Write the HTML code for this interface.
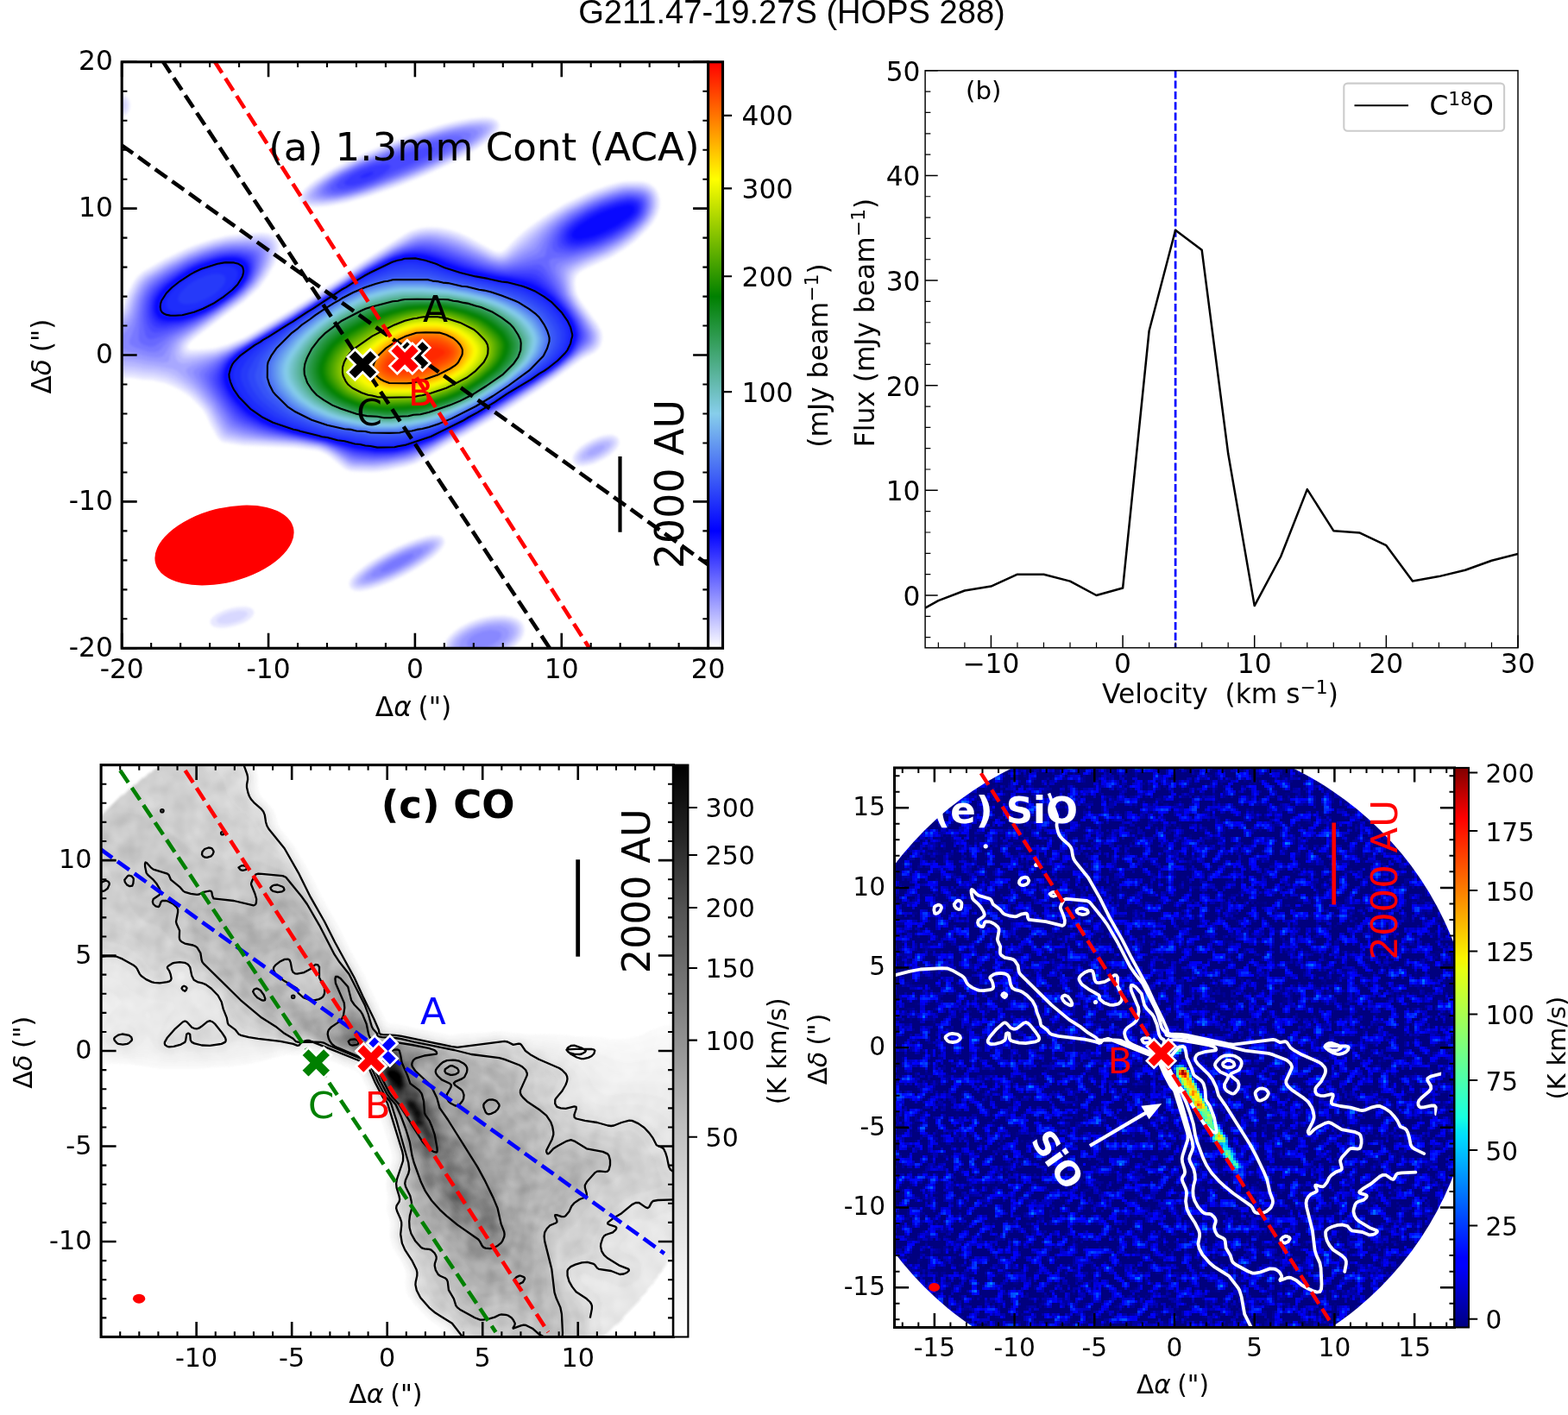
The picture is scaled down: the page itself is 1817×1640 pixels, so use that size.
<!DOCTYPE html>
<html lang="en">
<head>
<meta charset="utf-8">
<title>G211.47-19.27S (HOPS 288)</title>
<style>
html,body{margin:0;padding:0;background:#fff;}
body{width:1817px;height:1640px;overflow:hidden;}
svg{display:block;font-family:'DejaVu Sans', 'Liberation Sans', sans-serif;}
</style>
</head>
<body>
<svg width="1817" height="1640" viewBox="0 0 1817 1640">
<defs>
<clipPath id="ca"><rect x="141.2" y="71.8" width="679.4" height="679.5"/></clipPath>
<filter id="blurA" x="-5%" y="-5%" width="110%" height="110%" color-interpolation-filters="sRGB"><feGaussianBlur stdDeviation="1.6"/></filter>
<linearGradient id="cmA" x1="0" y1="1" x2="0" y2="0"><stop offset="0" stop-color="#fff"/><stop offset="0.2" stop-color="#00f"/><stop offset="0.4" stop-color="#87ceeb"/><stop offset="0.6" stop-color="#008000"/><stop offset="0.8" stop-color="#ff0"/><stop offset="1" stop-color="#f00"/></linearGradient>
<clipPath id="cb"><rect x="1072.1" y="81.8" width="686.9" height="669"/></clipPath>
<clipPath id="cc"><rect x="117.1" y="886.6" width="663.2" height="662.9"/></clipPath>
<filter id="blurC" x="117" y="886" width="664" height="664" filterUnits="userSpaceOnUse" color-interpolation-filters="sRGB"><feGaussianBlur in="SourceGraphic" stdDeviation="1.5" result="b"/><feFlood flood-color="#fff" result="W"/><feComposite in="b" in2="W" operator="over" result="w"/><feComponentTransfer in="w" result="inv"><feFuncR type="table" tableValues="1 0"/><feFuncG type="table" tableValues="1 0"/><feFuncB type="table" tableValues="1 0"/></feComponentTransfer><feTurbulence type="fractalNoise" baseFrequency="0.05" numOctaves="2" seed="3" result="t"/><feColorMatrix in="t" type="matrix" values="1 0 0 0 0  1 0 0 0 0  1 0 0 0 0  0 0 0 0 1" result="n"/><feComposite in="inv" in2="n" operator="arithmetic" k1="0.7" k2="0.65" k3="0" k4="0" result="m"/><feComponentTransfer in="m"><feFuncR type="table" tableValues="1 0"/><feFuncG type="table" tableValues="1 0"/><feFuncB type="table" tableValues="1 0"/><feFuncA type="linear" slope="0" intercept="1"/></feComponentTransfer></filter>
<clipPath id="fovCc"><circle cx="421.2" cy="1235" r="396"/></clipPath>
<linearGradient id="cmC" x1="0" y1="1" x2="0" y2="0"><stop offset="0" stop-color="#fff"/><stop offset="0.125" stop-color="#f0f0f0"/><stop offset="0.25" stop-color="#d9d9d9"/><stop offset="0.375" stop-color="#bdbdbd"/><stop offset="0.5" stop-color="#969696"/><stop offset="0.625" stop-color="#737373"/><stop offset="0.75" stop-color="#525252"/><stop offset="0.875" stop-color="#252525"/><stop offset="1" stop-color="#000"/></linearGradient>
<clipPath id="cd"><rect x="1036.5" y="889.9" width="649" height="648.6"/></clipPath>
<clipPath id="fovD"><circle cx="1335.5" cy="1227.1" r="374"/></clipPath>
<clipPath id="fovCO"><circle cx="1338" cy="1228.5" r="332.5"/></clipPath>
<filter id="jetD" x="1036" y="889" width="651" height="651" filterUnits="userSpaceOnUse" color-interpolation-filters="sRGB"><feTurbulence type="fractalNoise" baseFrequency="0.105" numOctaves="2" seed="11" result="t"/><feColorMatrix in="t" type="matrix" values="1 0 0 0 0  1 0 0 0 0  1 0 0 0 0  0 0 0 0 1" result="n"/><feGaussianBlur in="SourceGraphic" stdDeviation="2.1" result="s"/><feComposite in="s" in2="n" operator="arithmetic" k1="0" k2="1" k3="0.6" k4="-0.272" result="i"/><feFlood x="1037" y="890" width="1" height="1" flood-color="#000" result="dot"/><feComposite in="dot" in2="dot" operator="over" x="1036" y="889" width="3" height="3" result="cell"/><feTile in="cell" result="grid"/><feComposite in="i" in2="grid" operator="in" result="samp"/><feMorphology in="samp" operator="dilate" radius="1" result="pix"/><feComponentTransfer in="pix"><feFuncR type="table" tableValues="0 0 0 0 0 0 0 0 0 0 0 0 0 0 0 0.081 0.161 0.242 0.323 0.403 0.484 0.565 0.645 0.726 0.806 0.887 0.968 1 1 1 1 1 1 1 1 1 0.955 0.841 0.727 0.614 0.5"/><feFuncG type="table" tableValues="0 0 0 0 0 0 0.1 0.2 0.3 0.4 0.5 0.6 0.7 0.8 0.9 1 1 1 1 1 1 1 1 1 1 1 0.963 0.87 0.778 0.685 0.593 0.5 0.407 0.315 0.222 0.13 0.037 0 0 0 0"/><feFuncB type="table" tableValues="0.5 0.614 0.727 0.841 0.955 1 1 1 1 1 1 1 1 1 0.968 0.887 0.806 0.726 0.645 0.565 0.484 0.403 0.323 0.242 0.161 0.081 0 0 0 0 0 0 0 0 0 0 0 0 0 0 0"/><feFuncA type="linear" slope="0" intercept="1"/></feComponentTransfer></filter>
<linearGradient id="sioG" gradientUnits="userSpaceOnUse" x1="1364" y1="1238" x2="1441" y2="1366"><stop offset="0" stop-color="#fff" stop-opacity="0.45"/><stop offset="0.05" stop-color="#fff" stop-opacity="0.95"/><stop offset="0.1" stop-color="#fff" stop-opacity="0.66"/><stop offset="0.2" stop-color="#fff" stop-opacity="0.75"/><stop offset="0.27" stop-color="#fff" stop-opacity="0.64"/><stop offset="0.31" stop-color="#fff" stop-opacity="0.72"/><stop offset="0.41" stop-color="#fff" stop-opacity="0.52"/><stop offset="0.51" stop-color="#fff" stop-opacity="0.37"/><stop offset="0.65" stop-color="#fff" stop-opacity="0.5"/><stop offset="0.78" stop-color="#fff" stop-opacity="0.37"/><stop offset="0.9" stop-color="#fff" stop-opacity="0.3"/><stop offset="1" stop-color="#fff" stop-opacity="0.12"/></linearGradient>
<linearGradient id="cmD" x1="0" y1="1" x2="0" y2="0"><stop offset="0" stop-color="#000080"/><stop offset="0.11" stop-color="#00f"/><stop offset="0.125" stop-color="#00f"/><stop offset="0.34" stop-color="#00dcfe"/><stop offset="0.35" stop-color="#03e4f6"/><stop offset="0.375" stop-color="#16ffe1"/><stop offset="0.64" stop-color="#e8ff0f"/><stop offset="0.65" stop-color="#f0f806"/><stop offset="0.66" stop-color="#f8f500"/><stop offset="0.89" stop-color="#ff1300"/><stop offset="0.91" stop-color="#f00"/><stop offset="1" stop-color="#800000"/></linearGradient>
</defs>
<rect width="1817" height="1640" fill="#fff"/>
<text x="917.5" y="27.2" font-family="&quot;Liberation Sans&quot;, Arial, Helvetica, sans-serif" font-size="38.1" text-anchor="middle">G211.47-19.27S (HOPS 288)</text>
<g id="panel-a">
<g clip-path="url(#ca)">
<g id="field-a" stroke="none" filter="url(#blurA)">
<path d="M136.7 109.8l4.5-0.6 4 1.6 3.1 3 2.3 6 -0.3 6 -1.8 4 -3.3 3.4 -4 1.6 -4-0.4 -6-2.5 0-19.8zM544.5 137.8l14.7-1.6 8 0.3 4 0.9 4 2 2.1 2.4 1.2 4 -0.8 4 -2.5 4 -3.4 4 -10.6 8.7 -16 10.4 -26 13.9 -26 12 -30 12.1 -34 11.9 -28 8 -22 4 -14 0.9 -10-1 -4-1.9 -2.7-3 -0.9-4 0.9-4 4.2-6 4.5-4.4 8-6.3 12-8.1 10-6 16-8.2 16-7.6 24-10.4 38-14.4 32-9.8 16-4zM716.8 211.8l8.4-1.4 16 0.1 6 0.7 6 2.3 5.4 4.3 3.9 6 2.1 8 -0.2 8 -2.2 8 -5.5 10 -6.7 8 -14.8 14.1 -12 8.9 -16 9.6 -29.8 13.4 -6.3 4 -3.9 4.4 -1.2 5.6 0.2 6 0.8 6 2.2 5.4 4 6.9 19.2 25.7 4.3 8 0.9 4 0.1 6 -1.5 6 -2.3 4 -4.7 4.5 -14.2 7.5 -25.8 18.8 -24 16.7 -46 29.7 -40 23.6 -18.1 9.2 -29.9 18.5 -10 5 -12 3.5 -18 3.8 -14 2.1 -8 0.4 -20-0.6 -6-1.5 -4-2.1 -18.7-15.1 -7.3-4 -6-2 -26-3.4 -60-2.3 -22-3.5 -4-2.3 -3.8-4.5 -7.5-14 -4.7-10.5 -4.8-7.5 -13.2-13.5 -6.1-4.5 -6.6-4 -7.4-4 -9.8-4 -14.1-3.4 -12-0.7 -12-1.9 -6-0.2 -6 0.6 -10 2.6 0-82.7 6 0.2 2-0.4 2-1.4 2-3.4 5-13.3 6.1-12 4.1-6 6.8-6.5 26-15 24-11.6 10-4.1 22-7.4 16-3.7 20-2.3 20-1.2 8 1 6 2.7 3.9 4.1 2 6 0.3 4 -0.6 4 -4.6 14 -7.9 14 -10.3 14 -16.8 15.3 -23.3 16.7 -34.3 26 -6.5 6 -2 4 0.4 2 1.7 1.4 2 0.6 9 0 17-1.5 16-4.5 19.3-8 10.5-6 43.3-26 25.1-16 36.7-24 11.1-9 12-8.4 34-22 16-9.9 6-3.1 10-3 10-1 12 0.7 12 2.5 12 4 10 4.6 29.8 16.6 4.2 1 4-0.3 4.4-2.7 13.6-14.1 12-10.4 18-13.1 24-14.9 26-12.6 10-4.1 16-5.7zM695.9 505.8l5.3-1.4 6-0.4 4 0.5 4 2.3 1.9 3 0.3 4 -1.5 4 -3 4 -5.7 5.2 -6 4.1 -12 5.8 -6 1.9 -8 1.4 -6-0.8 -2.9-1.6 -1.7-2 -0.8-2 0-4 1.7-4 3.1-4 4.6-4.2 6-4.2 8-4.3zM493.4 621.8l7.8-1.5 8 0.5 2.3 1 2.4 2 1.3 4 -0.8 4 -4 6 -7.2 6.9 -8 6.1 -12 7.8 -14 7.8 -14 6.8 -14 5.7 -12 3.8 -12 2.2 -6-0.4 -2-0.7 -2.9-2 -1.2-2 -0.4-4 1.4-4 1.3-2 5.8-6.3 14-10.9 16-9.9 16-8.3 18-7.7zM275.1 703.8l8.1-0.6 6 1.1 2.8 1.5 1.7 2 0.5 2 -0.3 2 -2.6 4 -6.1 4.4 -6 2.8 -10 3.1 -8 1.3 -8 0 -6-1.5 -2.5-2.1 -0.9-2 0-2 0.8-2 2.6-3.1 3.9-2.9 10.1-4.7 8-2.3zM572.1 713.8l11.1-0.6 10 1.6 6 2.3 3.8 2.7 1.9 2 1.3 2 1.3 4 0.1 4 -0.8 4 -3.2 6 -6.4 6.9 -6 4.7 -10.9 6.4 -2.3 2 -61.4 0 -2.3-8 0.4-6 1.5-4 2.5-4 6.5-6.9 8-5.9 12-6.2 12-4.2 8-1.9z" fill="#e8e8ff" fill-rule="evenodd"/>
<path d="M136.7 113.8l2.5-0.8 4 0.9 2.1 1.9 1.8 4 0.1 4 -1.6 4 -2.4 2.3 -2 0.8 -4-0.5 -6-3.4 0-9.9zM547 139.8l12.2-1.1 6 0.3 4 0.8 3.8 2 1.6 2 0.5 2 -0.8 4 -2.5 4 -4.6 4.8 -8 6.4 -8 5.5 -22 12.7 -24 11.9 -22 9.6 -32 12.3 -28 9.5 -22 6.1 -20 3.6 -14 1 -6-0.3 -5.2-1.1 -2.8-1.5 -1.9-2.5 -0.2-4 1.9-4 5.3-6 6.9-5.7 10-7.2 10-6.3 26-13.3 38-16.6 38-14 34-9.9zM719.3 213.8l7.9-1 14 0.3 6 0.9 6 2.7 4 3.6 3.3 5.5 1.4 6 -0.2 8 -2.2 8 -5.8 10 -7.1 8 -13.4 12.6 -12 8.7 -16 9.4 -24 10.2 -9.5 5.1 -5.3 4 -2.5 4 -0.8 4 0.1 6 0.7 6 1.9 6 5.4 9.6 19.4 26.4 3.2 6 1 4 0.1 6 -1 4 -2 4 -4.7 4.6 -13.2 7.4 -28.8 21.3 -20 13.8 -50 32.2 -36 21.1 -22.2 11.6 -27.8 17 -10 4.7 -12 3.3 -18 3.6 -12 1.7 -8 0.4 -18-0.5 -6-1.1 -4-1.9 -14-11.2 -5.7-4 -7.7-4 -6.1-2 -24.5-3.5 -62-3.1 -20-3.6 -4-2.1 -3.1-3.7 -7.7-14 -5.6-12 -5.6-7.7 -8-8.6 -6-5.4 -6-4.4 -10-6.1 -12-5.6 -14-3.5 -14-1 -10-1.8 -8-0.5 -6 0.3 -10 2 0-73.5 8 0.1 2-0.7 2-1.6 2.3-4 5-14 6-12 4-6 6.7-6.5 24-14.1 26-12.6 14-5.6 18-5.7 14-3.2 20-2.1 20-1 8 1.4 2.9 1.4 2.7 2 2.4 4 0.9 6 -1.6 8 -4.4 12 -8.1 14 -7.4 10 -15.4 14.6 -59.2 43.4 -6.9 6 -3 4 -0.8 4 0.5 2 1.4 1.9 4 1.5 6 0 16-1.4 10-1.9 12.8-4.1 22.4-10 53.2-32 58.7-38 10.9-8.6 12-8.5 34-21.6 18-10.8 6-2.8 10-2.6 8-0.7 10 0.6 12 2.4 12 3.9 8 3.5 32 17.4 6 1.7 4-0.2 4-1.6 2-1.5 16-15.5 10.4-9.1 11.6-9 14-9.8 16-9.8 26-12.6 10-4.1 16-5.6zM698.4 507.8l4.8-0.9 4-0.1 4 1.2 2.1 1.8 0.8 2 -0.6 4 -4.4 6 -4.7 4 -5.2 3.5 -12 5.6 -6 1.7 -6 0.7 -4-0.5 -2-1 -1.7-2 -0.6-2 0.2-2 1.9-4 3.4-4 6.8-5.4 6-3.5 8-3.6zM495.5 623.8l5.7-0.9 6 0.4 2 0.8 1.9 1.7 0.8 2 0 2 -1.8 4 -5.1 6 -7.8 6.7 -10 6.9 -12 7.3 -12 6.3 -12 5.5 -12 4.6 -12 3.6 -8 1.4 -6-0.2 -4.1-2.1 -1-2 0.3-4 3.9-6 9-8 11.9-8.5 14-8.3 16-8 20-8zM275.9 707.8l7.3 0.2 3.4 1.8 0.5 2 -1.9 2.8 -4.5 3.2 -4.3 2 -7.2 2.2 -6 1.1 -6 0 -4-0.8 -2-1.9 -0.3-0.6 0.7-2 1.8-2 3.8-2.5 8.4-3.5zM563.1 717.8l10.1-1.6 10-0.3 8 1.2 6 2.2 3.6 2.5 1.8 2 1.8 4 0.2 4 -1.9 6 -4.3 6 -5.2 4.8 -6 4.3 -12.5 6.9 -2.1 2 -52.5 0 -2.6-8 -0.1-4 2.1-6 4.5-6 7.2-6.2 10-6.1 12-5z" fill="#d8d8ff" fill-rule="evenodd"/>
<path d="M138.6 117.8l2.6 0 2 2.5 0 3.5 -2 2.4 -2 0.2 -1.4-0.6 -1.7-2 -0.5-2 0.7-2zM545.5 141.8l11.7-1.1 8 0.6 4 1.3 1.7 1.2 1.1 2 0.1 2 -1.7 4 -3.2 4 -6 5.3 -8 6 -22 13.2 -24 12.1 -24 10.6 -20 7.9 -34 12.1 -20 6.1 -18 4 -18 2.1 -12-0.5 -4-1.2 -2.4-1.7 -0.9-2 0.1-2 1.8-4 3.4-4 8-7.1 8-5.9 12-7.6 24-12.3 36-15.7 38-14.1 34-10.1 12-2.7zM718.9 215.8l8.3-1.1 12 0.2 6 0.7 6 2.3 4 3.3 3 4.6 1.7 6 -0.1 8 -2.4 8 -5.9 10 -8.3 8.9 -12 10.9 -12 8.4 -14 8.1 -26 11.1 -8.7 4.6 -5.9 4 -2.8 4 -1 4 0 6 1.1 8 1.8 6 5.6 10 18.8 26 4 8 0.7 4 -0.1 4 -1.1 4 -2.4 3.9 -4 3.6 -12 7.1 -30 22.5 -20 13.7 -50 32.1 -34 19.9 -21.7 11.2 -28.3 17 -12 5.6 -8 2.1 -18 3.6 -16 2.3 -24-0.5 -4-0.6 -4-1.6 -4-2.5 -11.8-9.4 -6.2-4 -8-3.8 -6-1.7 -24-3.5 -62-4 -18-3.6 -4-2 -3-3.4 -6.8-12 -6.9-14 -7.3-9.4 -8-8.7 -6-5.3 -8-5.9 -10-6.3 -10-4.5 -14-3.2 -12-0.9 -12-2.1 -8-0.6 -8 0 -8 1.2 0-64.4 8 0 4-1.7 2-2 2.3-4.2 4.7-14 5.8-12 3.8-6 5.9-6 25.5-15.3 24-11.8 14-5.6 18-5.8 16-3.5 18-1.7 20-0.5 6 1.1 2.6 1.1 2.7 2 2.2 4 0.6 4 -1.5 8 -4.1 12 -6.6 12 -8.7 12 -11.2 10.8 -8 6.6 -53.7 38.6 -7.4 6 -3.7 4 -1.9 4 -0.2 4 0.5 2 2.4 3.1 4 1.5 10-0.5 22-3.4 14-4.7 22.1-10 50.1-30 25.3-16 39.8-26 10.7-8.4 12-8.3 32-20.1 18-10.3 6-2.9 10-2.6 8-0.7 10 0.7 12 2.6 10 3.3 10 4.3 30.9 16.4 6.6 2 4.7 0 3.8-1.3 4.1-2.7 26.7-24 14.7-12 11.3-8 13.2-8.2 26-12.9 10-4.2 16-5.6zM699.3 509.8l3.9-0.5 4 0.2 2 0.9 1.3 1.4 0.5 2 -1.6 4 -5.9 6 -8.3 5.4 -10 4.1 -8 1.5 -4-0.4 -2-1.2 -0.9-1.4 -0.2-2 0.7-2 2.8-4 3.6-3.4 4-2.9 6.7-3.7 5.3-2.2zM495 625.8l6.2-0.8 5.2 0.8 2.3 2 0.3 2 -0.5 2 -2.5 4 -5.9 6 -14.9 10.9 -10 6.1 -12 6.3 -12 5.6 -12 4.6 -10 3 -8 1.5 -6 0 -2-0.7 -1.7-1.3 -0.7-2 0.3-2 4-6 9-8 13.1-9 14-8.1 16-7.7 16-6.1zM563.3 719.8l9.9-1.5 8-0.3 6 0.6 6 1.6 4 2.1 3.4 3.5 1.3 4 -1 6 -3.8 6 -6.3 6 -7.6 5.1 -13.1 6.9 -1.8 2 -44.9 0 -3.1-8 -0.2-4 2.2-6 4.8-6 7.4-6 8.7-5 10-4.1z" fill="#c8c8ff" fill-rule="evenodd"/>
<path d="M542.8 143.8l12.4-1.1 8 0.5 2.2 0.6 2.9 2 0.6 2 -0.3 2 -2.5 4 -3.8 4 -13.1 10 -22 13 -24 12 -22 9.6 -26 10.1 -30 10.5 -20 5.8 -18 3.6 -14 1.1 -10-0.7 -3.3-1 -2.4-2 -0.4-2 0.5-2 2.5-4 6-6 7.4-6 17.7-11.4 22-11 38-16.4 32-11.8 34-10.2zM717.6 217.8l7.6-1.3 10-0.1 8 0.6 6 1.9 4 2.9 2 2.4 1.8 3.6 1.2 6 -0.2 6 -2.4 8 -4.6 8 -7 8 -12.8 11.7 -12 8.5 -16 9.2 -25.9 10.6 -10.1 5.2 -4.2 2.8 -3.4 4 -1.2 4 -0.1 4 1.3 10 1.4 6 6.2 11.6 13.3 18.4 8.8 14 1.3 4 0.2 4 -0.7 4 -2 4 -3.9 4 -11 6.8 -32 24.4 -20 13.6 -44 28.2 -40 23.6 -18.5 9.4 -29.5 17.3 -12 5.6 -8 2.3 -16 3.1 -18 2.5 -24-0.5 -4-0.8 -4-1.7 -19.4-13.8 -7.8-4 -6.8-2.3 -24-3.8 -62-4.9 -18-4 -4-1.9 -3-3.1 -6-10 -9-17.2 -12-14.4 -6-6.2 -6-5.2 -16-11.5 -8-3.5 -14-3.2 -14-1.4 -10-2 -12-1.3 -6-0.3 -8 0.5 0-54.2 6-0.1 4-0.9 4-2.5 2-2.4 2.1-4.2 5.3-16 4.6-9.7 4-6.6 6-6.3 24-14.7 24-11.9 16-6.4 16-5.2 12-2.7 6-0.9 18-1.4 16 0.1 6 0.8 2.2 0.9 2.7 2 1.4 2 1 4 -0.3 4 -1.3 6 -3.4 10 -6.4 12 -8.6 12 -11.3 10.9 -8 6.5 -54.6 38.6 -7.5 6 -3.6 4 -2.3 6 0.2 6 2.4 4 1.4 1.1 4 1.2 10-1 24-4.8 14-5 24-11.4 50.1-30.1 25.1-16 36.8-24 12-9.2 12-8.2 32-19.7 24-12.8 8-2.3 10-0.9 8 0.5 12 2.5 12 4 8 3.3 32.7 16.8 7.3 2 6-0.3 4-1.6 4-2.6 19-15.5 12.5-12 11.8-10 8.7-6.4 14-8.9 24-11.9 10-4.3 16-5.6zM693.1 513.8l6.1-1.6 4-0.3 2 0.5 1.8 1.4 0 2 -0.9 2 -3.6 4 -9.3 6.1 -6 2.5 -5.1 1.4 -4.9 0.2 -2-0.6 -1.2-1.6 0.2-2 2.6-4 7.9-6zM493.9 627.8l5.3-0.6 4 0.4 2.6 2.2 -0.1 2 -2.3 4 -5.9 6 -8.3 6.4 -10 6.5 -10 5.7 -12 6 -20 7.9 -8 2.3 -8 1.2 -4-0.2 -2.8-1.8 -0.3-2 0.7-2 4.9-6 7.5-6.4 12-8.1 14-8 14-6.7 14-5.4zM563.1 721.8l8.1-1.3 8-0.5 6 0.5 6 1.6 4 2.1 3.1 3.6 0.8 4 -1 4 -4 6 -6.8 6 -6.2 4 -12.3 6 -3.3 2 -1.8 2 -36.1 0 -4.2-8 -0.5-4 2.3-6 3.1-4 6.9-6 8-4.8 10-4.3z" fill="#b8b8ff" fill-rule="evenodd"/>
<path d="M540.2 145.8l11-1.1 8 0.4 4 1.3 1.5 1.4 0.3 2 -1.9 4 -3.7 4 -7.3 6 -8.7 6 -20.9 12 -24.7 12 -24.6 10.5 -22 8.3 -28 9.8 -18 5.2 -16 3.2 -14 1.1 -6-0.4 -4-0.8 -2.3-0.9 -1.9-2 0-2 0.8-2 2.8-4 3.9-4 7.2-6 15.5-10 22-11.1 40-17.1 30-11 30-9.1 15.7-3.7zM716 219.8l7.2-1.5 8-0.5 10 0.6 6 1.5 4 2.5 2 2.2 1.9 3.2 1.4 6 -0.2 6 -2.4 8 -4.7 8 -8 8.7 -12 10.6 -12 8.2 -16 8.9 -24.3 9.6 -12.6 6 -5.6 4 -2.4 4 -0.7 4 0.6 6 1.9 10 1.9 6 5.7 10 18.1 26 4.2 8 0.8 4 -0.2 4 -1.4 3.7 -1.5 2.3 -4.5 4 -8 5.2 -30 23.5 -24 16.3 -44 28.1 -38 22.3 -20.6 10.6 -25.4 14.7 -8 4.2 -8 3.2 -22 4.7 -18 2.4 -8 0.1 -16-0.9 -4-0.8 -4-1.8 -13.8-9.8 -10.2-5.8 -5.5-2.2 -6.5-1.8 -22-3.4 -36-3.1 -22-2.4 -8-1.3 -12-3.4 -4-1.9 -2.8-2.7 -5.2-8.1 -10-18.3 -14-17.3 -10-10.2 -16-13.8 -6-2.6 -16-3.1 -14-1.6 -12-2.5 -14-2.1 -12-0.5 0-42.5 6-0.6 4-1.2 4-2.3 3-3.3 3.1-6 4.1-14 2.4-6 3.9-8 3.9-6 3.6-3.8 4-3.2 20-12.2 26-13.2 16-6.3 14-4.4 12-2.6 8-1.2 16-0.9 16 0.7 5.3 1.1 2.7 1.7 1.6 2.3 0.8 4 -2.1 12 -3 8 -6.4 12 -4 6 -3.4 4 -10.2 10 -9.3 7.5 -34 24.1 -18.7 12.4 -8.2 6 -4.4 4 -2.7 4 -1.5 4 -0.7 4 0.1 4 1.1 4 1.2 2 2 2 3.8 1.4 8-1 30-8 14-5.6 22.2-10.8 53.4-32 22-14 39.9-26 12.5-9.5 12-8 32-19.3 22-11.2 8-2.1 10-0.9 8 0.7 10 2.2 8 2.4 12 4.7 34 16.7 8 2.2 6-0.2 4-1.2 4.6-2.5 19.5-14 22-22 10-8 13.9-9.2 30-14.9 12-4.7zM696.6 515.8l3.1 0 1.4 2 -1.2 2 -4.6 4 -4.1 2.2 -4.9 1.8 -3.1 0.5 -2.7-0.5 -0.4-2 3.4-4 6.8-4zM493.2 629.8l6-0.1 2 0.9 0.8 1.2 -0.3 2 -1.1 2 -3.5 4 -7.2 6 -15.3 10 -19.5 10 -15.9 6.2 -6 1.9 -8 1.5 -4 0 -3.1-1.6 0-2 0.9-2 5.5-6 10.4-8 9.5-6 10.9-6 13.9-6.5 14-5.1zM563.9 723.8l13.3-1.4 6 0.4 4.3 1 4.2 2 2.1 2 1.5 4 -0.8 4 -4 6 -7.2 6 -6.8 4 -17.3 8 -2.6 2 -21.7 0 -5.8-6 -2.2-4 0-4 3.2-6 6.3-6 6.8-4.4 8-3.7z" fill="#a8a8ff" fill-rule="evenodd"/>
<path d="M538.2 147.8l9-0.8 8 0.3 2 0.5 2 1.3 0.6 0.7 0.2 2 -2.2 4 -3.9 4 -13.5 10 -20.9 12 -24.8 12 -23.8 10 -26.7 10 -23 8.1 -16 4.5 -16 3.1 -12 0.7 -8-1.2 -2.6-1.2 -1.4-2 0.1-2 2.1-4 3.5-4 7.1-6 15.5-10 21.7-10.8 36-15.3 32.3-11.9 27.7-8.3 15.5-3.7zM723.6 219.8l9.6-0.4 10 1.1 4 1.4 4.6 3.9 1.4 2.3 1.3 3.7 0.2 8 -2.4 8 -4.8 8 -5.5 6 -8.8 8.1 -14 10.2 -20 11.1 -24 9.1 -16 7.2 -3.4 2.3 -1.7 2 -1.5 4 0.7 8 2.8 12 2.1 6 5.8 10 14.1 20 7.1 12.2 1.2 3.8 0.3 4 -1 4 -1.1 2 -3.7 4 -7.7 5.6 -9.8 8.4 -16.2 12.7 -26 17.9 -16 10.3 -32 20.3 -20 12 -18 10.2 -17 8.6 -27 15.3 -12 5.9 -6 2.1 -10 2.2 -14 2.5 -12 1.3 -8 0.4 -18-1.1 -4-1 -4-1.9 -14.5-9.7 -7.5-4 -10.8-4 -25.2-4.3 -36-3.6 -16-2.1 -12-2.1 -12-3.7 -4.3-2.2 -3.7-4 -15.5-26 -14.5-18.3 -12.4-13.7 -2.7-4 -0.5-2 0.6-2 2.5-2 9-4 23.5-8.5 14-6.4 22-11.2 49.8-29.9 25.1-16 39.9-26 9.2-7 12-8.2 32-19.1 22-10.8 6-2.1 8-1.3 8-0.2 8 1.2 12 3.1 12 4.4 38 17.7 8 2.1 4 0.2 4-0.6 8.2-3.4 21.8-13.6 4-4 10.1-12.4 7.8-8 9.7-8 12.4-8.4 22-11.3 12-5.2 18-6.2zM260.9 283.8l10.3-1.3 16-0.3 16 1.8 3.2 1.8 1.4 2 0.7 4 -0.9 8 -1.6 6 -4.2 10 -7.3 12 -11.3 11.9 -10 8.3 -22 15.6 -39.7 26.2 -5.3 4 -3.5 4 -2.2 4 -2.2 6 -2.2 10 -2.4 2 -6.5 0.3 -16-1.9 -30-6.3 -10-1.1 0-28.5 6-1.2 4-1.7 4-2.6 4-4.2 4-7.9 4.1-14.9 2.9-8 5.2-10 5-6 5-4 19.2-12 24.6-12.7 12-4.9 12-4zM484.1 633.8l9.1-1.4 2 0.3 1.9 1.1 -0.3 2 -1.2 2 -6.1 6 -11.3 8 -14 8 -12.9 6 -12.1 4.4 -10 2.3 -4 0 -1.9-0.7 -0.3-2 2.5-4 6.7-6 8.6-6 10.1-6 11.9-6 9.4-4zM567.8 725.8l11.4-0.2 7 2.2 2.3 2 1.1 2 0.3 2 -0.4 2 -2.1 4 -6.3 6 -6.6 4 -9.4 4 -9.9 2.9 -6 0.9 -6-0.3 -6-2 -4-3.4 -0.9-2.1 -0.1-2 1.3-4 3.2-4 4.5-3.8 7.1-4.2 4.5-2 6.4-2.2z" fill="#9898ff" fill-rule="evenodd"/>
<path d="M538.8 149.8l8.4-0.2 4 0.9 2.2 1.3 0.5 2 -0.7 2 -3.2 4 -4.5 4 -14.9 10 -18.2 10 -25.6 12 -19.5 8 -37.6 14 -12.5 4.1 -14 3.8 -12 2.2 -12 0.6 -6-0.9 -3-1.8 -0.9-2 1.1-4 3.1-4 9.5-8 16.6-10 21.2-10 39-16 28.1-10 28.3-8 9.2-2zM721.4 221.8l9.8-0.9 10 1 6 2.2 3.7 3.7 2.1 6 0.2 4 -0.6 4 -3 8 -4 6 -6.4 6.7 -8.2 7.3 -7.8 5.7 -10 6.3 -16 8.3 -42.1 15.7 -3.9 2.6 -2.2 3.4 -0.4 4 0.6 4 7.1 22 6 10 13.9 20 5.8 10 1.7 4 0.8 6 -1.1 4 -1.3 2 -17.8 16 -13.1 10.6 -12 8.9 -20 13.4 -44 28.1 -24 14.3 -50 27.4 -22 11 -12 3.6 -20 3.4 -16 1.3 -18-1.1 -4-0.7 -4-1.5 -17.7-10.7 -8.3-4 -8-2.7 -26-4.7 -42-5 -18-3.4 -8-2.3 -9.3-3.9 -4.3-4 -4.4-6.4 -10.4-17.6 -20.8-28 -3.6-6 -0.3-2 0.5-2 1.9-2 2.9-2 21.8-10.5 37.2-19.5 49.8-30 25.2-16 39.8-26 10-7.5 12-7.9 30-17.6 20-9.3 8-2.8 6-1 8-0.3 8 1 12 3.1 12 4.3 40 17.8 10 2.2 8-0.9 10-3.9 22-11.8 3.2-3.4 9.5-14 6.8-8 8.9-8 11.6-8.2 20-10.8 12-5.4 18-6.5zM259.2 285.8l12-1.5 16 0.1 12 1.9 3.6 1.5 1.7 2 0.9 4 -0.3 6 -2 8 -3.1 8 -7.1 12 -11.7 12.4 -12 9.5 -30 20.7 -34.9 21.4 -6 6 -7.1 12.1 -2 2.6 -2 1.1 -6 0.6 -10-1.1 -40-10.8 0-8.9 6-2.3 6-4.3 6-6.3 3-4.7 3.2-8 4.4-18 2.1-6 5.3-10.5 6-7.1 5.9-4.4 15.6-10 24.5-12.9 22-8.4 10-3zM478.1 637.8l9.1-1.7 2 0.4 1.1 1.3 -0.7 2 -1.7 2 -7.1 6 -9.3 6 -11.2 6 -9.1 4.1 -11.4 3.9 -6.6 1 -2-0.2 -1.5-0.8 0.4-2 3.4-4 7.7-6 6.3-4 15.1-8zM558.7 731.8l8.5-1.7 8 0.3 3.8 1.4 1.9 2 0.5 2 -0.4 2 -1.8 2.9 -3.2 3.1 -6.5 4 -5 2 -7.3 1.9 -6 0.5 -4.1-0.4 -4.6-2 -1.6-2 -0.2-2 0.5-2 2.9-4 5.4-4z" fill="#8888ff" fill-rule="evenodd"/>
<path d="M526.3 153.8l10.9-0.9 6 0.6 2 1.2 0.8 1.1 -0.2 2 -1.1 2 -3.7 4 -11 8 -13.6 8 -20 10 -33.2 14 -31.5 12 -18.5 6.1 -16 3.7 -10 1.2 -8-0.4 -2.6-0.6 -2.8-2 -0.6-2 1.5-4 3.5-4 4.6-4 12.1-8 19.8-10 44-18 22-8 26.8-8zM719.8 223.8l7.4-1.2 10 0.4 6 1.3 3 1.5 2.2 2 1.4 2 1.3 4 0.1 6 -2.3 8 -2.1 4 -3 4 -6.6 6.6 -8.8 7.4 -9.2 6.4 -9.5 5.6 -16.9 8 -43.9 14 -3.7 2.3 -1.6 3.7 0.2 4 1 4 9.5 24 3.5 6 15.3 22 7.7 14 1.3 4 0.1 4 -1 3.2 -1.8 2.8 -16.5 16 -12.1 10 -11.6 8.6 -22 14.7 -44 27.9 -20 12 -18 10.2 -17 8.6 -17 9.5 -20 9.9 -12 4 -22 3.7 -16 1.2 -18-1.4 -8-2.3 -19.1-10.6 -8.9-3.8 -6-1.8 -24-4.5 -40-5.5 -14-2.9 -13-3.5 -9.2-4 -2.8-2 -3-3.1 -14.6-22.9 -12.6-18 -6-10 -1-4 0.4-2 1.4-2 4.9-4 19.6-12 31.9-17.7 50-30.1 62.2-40.2 21.8-15.3 30-17.4 12-5.8 14-5.3 6-1.6 8-0.6 8 0.5 12 2.8 13.5 4.7 27.5 12 15 5.8 10 2.2 4 0 6-1 9.6-3 20.4-8.4 4-2.1 3.1-3.5 7.3-14 7-10 8-8 12.6-9.3 18-9.8 12-5.6 18-6.5zM257.8 287.8l13.4-1.6 14 0.2 12 2.6 2 1 2 2 1.2 3.8 0 4 -1 6 -2.4 8 -6.2 12 -8.5 10 -11.1 9.8 -24 16.9 -22 13.8 -21.5 11.5 -6.5 4 -4.7 4 -9 10 -2.3 1.5 -4 1 -8-0.7 -11.9-3.8 -4.7-2 -3.1-2 -1.5-2 -0.3-2 6.8-18 6.5-30 4.3-10 5.5-8 7.2-6 15-10 22.2-12.2 19.2-7.8 12.7-4zM476.8 641.8l2.4 0.4 0.3 1.6 -1.6 2 -4.9 4 -10 6 -13.9 6 -5.9 1.2 -2-0.2 -0.9-1 1.2-2 4.7-4 9.7-6 13.2-6z" fill="#7878ff" fill-rule="evenodd"/>
<path d="M518.9 157.8l8.3-0.8 6 0.5 2 1.1 0.9 1.2 -0.3 2 -1.3 2 -4.1 4 -11.6 8 -14.5 8 -16.7 8 -54.3 22 -18.1 6.1 -16 3.9 -8 0.9 -6 0 -4-0.7 -3.2-2.2 -0.4-2 1.9-4 6.1-6 12.1-8 15.7-8 14.3-6 46.9-18 25.9-8zM718.5 225.8l10.7-1.6 10 1 6 2.4 2 2 1.3 2.2 1.1 6 -1.6 8 -1.8 4 -2.7 4 -6.3 6.6 -8.8 7.4 -9.2 6.4 -10 5.8 -14 6.8 -14 4.8 -16 4.5 -8 1.6 -16 1.7 -2 0.5 -2.6 1.9 -0.2 4 2.2 8 13.5 28 19.2 28 7.3 14 1.2 4 0 4 -0.6 2.1 -2.5 3.9 -13 14 -11.6 10 -12.9 9.7 -22 14.7 -42 26.6 -24 14.4 -16 9.1 -32 16.9 -20 9.7 -12 4.4 -20 3.6 -18 1.4 -18-1.3 -8-1.9 -18.4-9.3 -9.5-4 -6.3-2 -25.8-5.1 -38-5.9 -12.8-3 -13.2-4 -10-4.6 -6-5.2 -22.9-34.2 -5.6-10 -1.8-6 1.2-4 6-6 13.1-10 15.9-10 14.5-8 51.6-31.1 63.3-40.9 20.7-14.4 26-14.9 10-5.1 10-4.1 14-4.3 8-0.8 8 0.4 8 1.7 10 3 44 17.8 12 3.7 10 1.2 6-0.7 8-1.7 33-9.8 1.6-2 2.4-10 2-6 5.1-10 4.6-6 3.8-4 11.5-8.9 15.7-9.1 12.2-6 14.1-5.5zM256.5 289.8l12.7-1.6 12 0.1 10 1.8 4.3 1.7 2.4 2 1 2 0.7 4 -1.3 10 -3.6 10 -3.4 6 -3.1 4 -7 7.7 -6 5.3 -26 18.5 -24 14.3 -29.3 14.2 -14.7 10.1 -4 1.6 -4 0.2 -6-1.6 -3.9-2.3 -1.7-2 -1-4 1.3-22 1.6-12 1.6-8 2-6 2.9-6 4.2-6 6.8-6 11.4-8 24.2-14 8.6-4 10-3.8 12-3.9z" fill="#6868ff" fill-rule="evenodd"/>
<path d="M505.1 163.8l8.1-1.1 6 0 3.2 1.1 0.6 2 -2.8 4 -4.9 4 -16.7 10 -21.3 10 -48.4 20 -19 6 -10.7 2.1 -10 0.4 -3-0.5 -3-2 -0.3-2 0.7-2 5.4-6 8.6-6 15.1-8 14.3-6 43.3-16 18.5-6zM717.5 227.8l9.7-1.8 10 0.7 6 2.2 2 1.7 1.8 3.2 0.7 4 -0.4 4 -1 4 -1.9 4 -4.7 6 -8.5 7.7 -10 7.3 -12 7.1 -14 6.7 -14 4.7 -16 4 -8 0.8 -10-1 -4-1.3 -2-1.8 -0.9-2.2 -0.1-4 0.7-4 2.1-6 4.7-8 7.7-8 9.8-7.1 19.3-10.9 14.7-6.3zM480.6 285.8l4.6-0.9 6-0.2 8 0.6 6 1.3 10.4 3.2 45.6 17.6 16 4.3 6 0.5 8-0.6 30-5.2 4 0.2 2 0.7 4 3.9 19.9 32.6 14.4 20 6.3 10 4.6 10 1.1 4 -0.2 4 -1.7 4 -7.8 10 -5.4 6 -15.2 12.9 -8 6 -20 13.3 -44 27.9 -38 22.4 -36 18.8 -20 9.2 -12 4 -14 2.6 -20 1.5 -14-0.8 -10-1.4 -6-2.1 -13.3-6.3 -16.7-6.3 -28-5.8 -33.9-5.9 -15.5-4 -16.7-6 -5.9-3.2 -4-3.2 -8-10.4 -13.9-21.2 -4.6-8 -2.4-6 -0.1-4 1.7-4 9.2-10 6.7-6 11.8-8 67.6-40.4 62-40.1 22-15 24-13.7 10-5.1 10-4zM255.4 291.8l13.8-1.7 10 0.3 10 1.9 3.4 1.5 2.3 2 1.2 2 0.7 4 -1 10 -3.7 10 -5.3 8 -7.6 8.3 -10 8.2 -20 13.9 -18 10.6 -18 8.5 -30 12 -8 1.9 -4-1 -2-2.4 -2-7 -1.5-11 0-8 1.3-10 2-8 2.8-6 4-6 6.3-6 10.9-8 23.5-14 16.7-7.3 12-4z" fill="#5858ff" fill-rule="evenodd"/>
<path d="M490.2 171.8l9-1 4.4 1 -0.2 2 -1.7 2 -5.2 4 -6.7 4 -12.1 6 -20.5 8.5 -23.2 11.5 -16.7 6 -10.1 2.5 -10 1.1 -4-0.4 -2.8-1.2 -0.9-2 0.6-2 3.3-4 8.2-6 11.2-6 9.1-4 11.1-4 18.2-5.2 24.1-8.8zM727.4 227.8l7.8 0.4 6 2 2.1 1.6 1.3 2 0.8 2 0.3 4 -1.3 6 -3.3 6 -5.9 6.2 -10 8 -12.4 7.8 -15.6 7.7 -8 3.1 -12 3.5 -12 2.3 -6 0.2 -8-1.8 -2.1-1 -2.2-2 -0.9-2 -0.4-4 0.6-4 2.3-6 2.5-4 3.4-4 8.8-7.4 17.4-10.6 14.6-6.9 18-6.2zM481.1 287.8l6.1-0.7 6 0.3 12 2.1 8 2.5 40 15.2 12 3.8 10 2.4 12 1 30-2.3 4 0.3 4 1.6 4 3.6 12 15.1 9 13.1 12.2 16 6.5 10 2.9 6 3 8 0.1 6 -1.8 4 -5.2 8 -4.8 6 -15.9 14.1 -10 7.3 -20 13.3 -42 26.5 -38 22.3 -34 17.8 -22 9.8 -8 2.9 -6 1.5 -12 2.2 -20 1.2 -14-1.1 -10-1.6 -4-1.2 -12-5.1 -20-7 -56-11.3 -16-4.2 -20-7.8 -6.1-3.6 -4.6-4 -9.3-12.1 -9-13.9 -4.7-8 -2.4-6 -0.4-4 2.1-6 5.7-8 5.4-6 4.8-4 10.5-7.3 64-38.5 54-35.2 8-4.8 22-14.9 24-13.4 10-4.9 12-4.4zM254.5 293.8l12.7-1.6 10 0.1 10 2.2 2.7 1.3 2.3 2 1.8 4 0.4 4 -0.2 4 -1.2 6 -3.4 8 -7.6 10 -10.8 9.8 -20 14.1 -12 7.3 -14 7.2 -14 5.7 -24 6.8 -8 0.7 -4-1.7 -2.8-3.9 -2.1-6 -1.2-6 0-8 1-8 1.7-6 2.9-6 4.4-6 6.6-6 8-6 9.1-6 14.4-8.5 16-7z" fill="#4848ff" fill-rule="evenodd"/>
<path d="M436.7 191.8l6.5-1.1 6-0.1 3.2 1.2 0 2 -3.3 4 -5.5 4 -7.2 4 -9.1 4 -12.1 3.8 -6 1.1 -6 0.4 -4-1.3 -0.4-2 1.2-2 7.3-6 11.5-6 10.6-4zM726.6 229.8l6.6 0.1 6.3 1.9 2.4 2 1.1 2 0.5 6 -1.9 6 -2.7 4 -6.1 6 -9.6 7.3 -14 8.4 -13.3 6.3 -6.7 2.6 -12 3.3 -10 1.7 -6 0 -6-1.8 -2.6-1.8 -1.4-1.7 -0.9-2.3 -0.2-4 1.8-6 2.4-4 2.9-3.4 8-6.8 15.7-9.8 14.3-6.9 18-6.2zM481.3 289.8l9.9-0.1 12 2.2 44 15.9 13 4 13 3.2 12 1.7 30 0.4 4 0.6 4 1.7 6 5 12 12.9 18 22.5 9 14 4 10 0.8 6 -1.1 4 -4.2 8 -4.2 6 -3.6 4 -11.2 10 -9.5 7.2 -24 15.9 -60 37.3 -20 11.3 -36 18.5 -24 9.7 -14 3.4 -10 1.3 -16 0.6 -16-1.7 -10-1.9 -32-11.1 -44-9.2 -26-6.7 -10-3.9 -12-5.5 -6-3.9 -5.7-5.3 -8-10 -6.6-10 -5.6-10 -2.2-6 0.3-6 2.3-6 5-8 5.5-6 13-9.6 62-37.5 86-55.9 22-12.1 10-4.8 12-4zM253.5 295.8l9.7-1.5 12-0.2 10 2.5 2.3 1.2 2.3 2 1.4 2.5 0.9 3.5 0.2 4 -1 6 -3.2 8 -7.4 10 -9.5 8.7 -20 14.1 -12 7.1 -14 6.9 -14 5.1 -20 4.2 -8 0.2 -2-0.5 -3.1-1.8 -2.9-3.8 -2.4-6.2 -0.7-6 0.3-6 0.9-6 2.2-6 3.6-6 3.4-4 6.7-6 8-6 22-13.6 14-6.1z" fill="#3838ff" fill-rule="evenodd"/>
<path d="M427.4 199.8l3.8-0.5 2.1 0.5 -1.4 2 -3.2 2 -4.9 2 -4.6 0.8 -2.4-0.8 1.8-2 3.5-2zM727.1 231.8l6.1 0.2 4 1.3 2 1.4 1.9 3.1 0.1 5.2 -1.8 4.8 -3 4 -5.2 4.9 -10 7.4 -13.3 7.7 -13.1 6 -7.6 2.8 -10 2.5 -8 1.3 -6-0.1 -4-1.2 -2.1-1.3 -1.8-2 -0.9-2 -0.3-4 2.2-6 5-6 7.7-6 12.6-8 15.6-7.5 18-6.1zM479.9 291.8l9.3 0.1 12 2.3 37.8 13.6 13.1 4 15.8 4 13.3 2.5 32 3.1 6 1.6 4 2.1 12 9.9 8 8 14.3 16.8 7.9 12 3.6 8 2 8 -1 6 -3.8 8 -3.9 6 -3.5 4 -11.1 10 -8.5 6.5 -24 15.8 -62 38.4 -18 10.2 -36 18.3 -26 10 -14 3.1 -10 1 -14 0.2 -22-2.9 -6-1.4 -30-9.6 -40-8.6 -18-4.6 -14-4.6 -14-6.7 -8.5-5.1 -7.5-7 -7.5-9 -5.4-8 -5.5-10 -2-6 0.1-6 1.6-6 4.3-8 5.3-6 11.1-8.7 16-10.2 46-27.6 84-54.6 26-14 8-3.6 12-3.8zM267.5 295.8l7.7 0.3 8 2.3 4.6 3.4 1.4 2.4 1 3.6 0.2 4 -0.6 4 -3.1 8 -5.6 8 -8.1 8 -11.8 8.9 -16 10.5 -16 8.1 -10 4 -12 3.2 -16 1.9 -4-0.2 -4-1.1 -4-3.2 -2.6-4.1 -1.2-4 -0.4-6 1-8 2.2-6 2.5-4 3.1-4 6.2-6 16.4-12 10.8-6.7 10-5 14-5.1 10-2.9 8-1.7z" fill="#2828ff" fill-rule="evenodd"/>
<path d="M718.3 235.8l8.9-1.6 4 0 4.8 1.6 2 2 0.8 2 -0.2 4 -1.4 3.4 -1.9 2.6 -4.1 4 -7.9 6 -6.1 4.1 -10.7 5.9 -19.3 8.1 -12 2.9 -6 0.7 -6-0.8 -2-0.9 -2.1-2 -1.3-4 0.9-4 2.5-4 6.5-6 11.8-8 11-6 9-4zM475.2 293.8l10-0.3 10 1.6 12 3.6 24.1 9.1 19.9 5.9 27.7 6.1 12.3 1.5 20 3.4 6 1.9 6 3 10 7.1 8 6.9 14.6 16.2 8 12 2.9 6 2.5 10 -1 6 -4.4 10 -4.2 6 -4 4 -8.4 7.6 -10 7.5 -22 14.4 -62 38.4 -20 11.2 -34 17.1 -24 9.1 -6 1.8 -10 2 -10 0.8 -14 0.1 -24-3.5 -34-9.8 -38-8.3 -24-6.7 -12-4.8 -15.8-8.9 -7.2-6 -9-9.7 -5.9-8.3 -4.5-8 -2.4-6 -0.9-6 0.8-6 3.2-8 4.2-6 6.6-6 14.1-10 52.8-31.9 82-53.3 32-16.8 14-4.8zM261.1 297.8l10.1-0.3 8 1.5 6 3.4 2 2.7 1.1 2.7 0.5 4 -0.4 4 -3 8 -5.5 8 -6.7 6.7 -10 7.7 -16 10.7 -10 5.3 -16 6.9 -12 3.2 -16 1.3 -6-1 -4-2 -2-1.9 -1.9-2.9 -1.4-4 -0.4-6 0.9-6 1.4-4 3.6-6 3.3-4 6.2-6 14.3-10.5 10-6.4 8-4.2 6-2.5 16-5.4z" fill="#1919ff" fill-rule="evenodd"/>
<path d="M725 237.8l4.2-0.3 4 1.1 1.3 1.2 0.7 1.6 -0.1 2.4 -1.9 3.6 -4 4.1 -14.8 10.3 -15.9 8 -9.8 4 -7.2 2 -8.3 1.7 -4 0.3 -4-1.1 -2-1.7 -0.7-3.2 0.6-2 2.9-4 4.7-4 11.7-8 11.3-6 9.7-4 12.2-4zM469.1 295.8l14.1-0.8 10 1.6 12 3.6 13.7 5.6 18.3 6 15.2 4 18.8 4.1 18 2.9 18 3.6 8 2.5 8 3.8 10 6.6 8 6.6 14 15.1 7.2 10.8 2.8 6 2.5 10 -1 6 -2 6 -2.1 4 -3.4 5.2 -4.7 4.8 -7.3 6.8 -10 7.6 -22 14.3 -62 38.4 -18 10.1 -36 18.1 -28 10 -14 2.9 -22 0.4 -24-3.6 -34-9.1 -38-8.5 -22-6.5 -14-5.9 -14-8.5 -6-4.9 -10-10.5 -6.5-9.1 -4.3-8 -2-6 -0.7-6 1-6 3.6-8 2.9-4 6.5-6 13.8-10 51.7-31.2 82-53.2 32-16.7 6-2.2zM257.2 299.8l10-0.8 8 0.6 4 1.4 4 2.3 2 2.1 1.3 2.4 0.8 4 -0.2 4 -2.8 8 -5.1 7.3 -6.5 6.7 -10.3 8 -13.2 8.9 -12 6.4 -16 6.5 -12 3.1 -14 0.7 -6-0.9 -4-2 -2-1.8 -2.1-2.9 -1.3-4 -0.1-6 0.7-4 1.6-4 3.9-6 7.3-8 12-9.3 18-11.2 14-5.7 12-3.9z" fill="#0909ff" fill-rule="evenodd"/>
<path d="M465.8 297.8l5.4-1.2 10-0.3 12 2.1 12 3.7 10 4.3 18 6.1 28 6.8 20 4.1 8 1 16 3.5 8 2.6 8 3.5 10 6.1 8 5.9 14 14.5 6.7 9.3 4 8 2.5 10 -0.4 4 -1.8 6 -2.7 6 -2.4 4 -5.6 6 -6.4 6 -9.9 7.6 -22 14.4 -26 15.6 -16 10.7 -20 12 -18 10.1 -36 18 -30 10.3 -12 2.4 -22 0.3 -24-3.8 -14-3.8 -8-1.4 -10-2.9 -40-9.1 -12-3.7 -16-5.5 -8-3.9 -6-3.8 -10-6.9 -12.5-12.6 -5.8-8 -4.3-8 -2.7-8 -0.3-6 0.7-4 1.5-4 3.1-6 10.3-10 17.8-12 44.2-26.6 56-36.7 6-3.3 20.5-13.4 31.5-16.1zM254.8 301.8l4.4-1.1 4-0.2 8 0 4 0.6 4 1.6 4 2.6 2 3.3 0.9 3.2 -0.2 4 -2.7 7.9 -5.7 8.1 -6.3 6.2 -10 7.6 -12.2 8.2 -11.8 6.2 -16 6.4 -10 2.6 -16 0.6 -6-1.3 -4-2.5 -1.8-2 -1.2-2 -0.7-4 0.7-8 1.8-4 3.9-6 9.3-9.5 10-7.5 16-10 8-3.7 6-2.1 12-3.9z" fill="#0000ff" fill-rule="evenodd"/>
<path d="M465.9 297.8l5.3-1.1 10-0.4 12 2.1 12 3.8 13.6 5.6 16.4 5.3 26 6.3 20 4 8 1 16 3.6 8 2.5 8 3.5 10 6.1 8 6 14 14.4 6.6 9.3 4 8 2.5 10 -0.4 4 -1.7 6 -2.7 6 -2.4 4 -5.7 6 -6.3 6 -9.9 7.5 -22.1 14.5 -25.9 15.6 -16 10.7 -20 12 -18 10.1 -36 17.9 -30 10.4 -12 2.4 -22 0.2 -24-3.8 -14-3.7 -8-1.4 -10-2.9 -40-9.2 -12-3.6 -16-5.6 -8-3.9 -6-3.7 -10-7 -12.4-12.5 -7.1-10 -3.1-6 -2.7-8 -0.3-6 0.8-4 1.5-4 3.1-6 10.2-10 17.8-12 44.2-26.6 56-36.7 6-3.3 20.6-13.4 31.4-16.1zM255.1 301.8l4.1-1 4-0.3 8 0 4 0.6 4 1.7 4 2.6 2 3.3 0.8 3.1 -0.1 4 -2.7 7.8 -5.8 8.2 -6.2 6.1 -10 7.7 -12.3 8.2 -11.7 6.1 -16 6.4 -10 2.6 -16 0.6 -6-1.3 -3.9-2.4 -1.8-2 -1.2-2 -0.7-4 0.6-8 1.9-4 3.9-6 9.2-9.4 16-11.5 6-3.9 8-4.1 16-5.9z" fill="#0406fe" fill-rule="evenodd"/>
<path d="M470.8 297.8l12.4-0.1 9.4 2.1 12.5 4 10.1 4.5 18 5.9 18 4.5 30 6.1 6 0.6 16 3.7 8 2.5 10 4.3 10 6 8 5.9 14 14.5 6 8.8 3.3 6.7 2.6 10 0 2 -2.1 8 -3.8 8 -3 4 -9 8.8 -12 9.2 -21.5 14 -24.5 14.7 -16 10.7 -35.1 20.6 -40.5 20 -28.4 9.6 -12 2.4 -20 0.3 -26-4 -12-3.2 -8-1.2 -12-3.4 -6-0.9 -38.1-9.6 -18.4-6 -12.7-6 -14.8-9.9 -14-14.1 -6-8.8 -3.6-7.2 -2.4-7.9 -0.1-4.1 2.1-7.7 2-4.4 3-3.9 8.5-8 14.5-10 48-29.1 54-35.5 8-4.5 20-12.9 30-15 8-2.7zM252 303.8l9.2-1.9 12 0.3 6 2.3 2.2 1.3 1.8 2 1.4 4 0.2 2 -2.2 8 -4.9 8 -7.9 8 -8.6 6.5 -14.3 9.5 -9.7 4.9 -18 6.8 -10 2.3 -14 0.1 -6-1.6 -4-3 -1.8-3.5 -0.3-2 0.1-4.9 0.8-3.1 1.9-4 4-6 7.8-8 10.6-8 16.1-10 8.8-4z" fill="#0d13fd" fill-rule="evenodd"/>
<path d="M467.8 299.8l3.4-0.6 10-0.1 12 2.5 12 3.9 10 4.4 18 5.8 18 4.4 30 6.2 6 0.6 8 1.9 14 3.9 12 5.1 10 6 8 6 12 12.3 6 8.5 4 7.9 2.3 9.3 0 2 -2 8 -2.3 5.5 -2.8 4.5 -7.7 8 -12.1 10 -21.4 14.1 -28 17 -14 9.4 -22.6 13.5 -18.1 10 -33.3 16.3 -30 10 -12 2.4 -20 0.3 -8-1.6 -6-0.5 -6-1.4 -6-0.6 -12-3.1 -8-1.1 -12-3.3 -6-0.9 -34-8.5 -23.7-8 -11.6-6 -12.7-8.6 -14-14 -6-8.6 -4-8.2 -2.1-6.6 -0.1-4 2.2-8.1 2-4.2 9.2-9.7 16.6-12 44.2-27 56.3-37 5.7-3.1 20.4-12.9 32.2-16zM259.6 303.8l9.6-0.1 4 0.5 4.2 1.6 2.9 2 2.3 4 0 4 -1.4 5.1 -1.5 2.9 -4.5 6.5 -7.7 7.5 -7.8 6 -15.7 10 -8.2 4 -16.2 6 -10.4 2.2 -14-0.1 -6-2.1 -2.3-2 -1.1-2 -0.7-4 0.4-4 1.5-4 5.4-8 8-8 13.7-10 6.2-4 7.6-4 16.1-6z" fill="#1520fc" fill-rule="evenodd"/>
<path d="M469.3 301.8l11.9-0.3 11.1 2.3 12.9 4 8 3.5 18 5.7 18 4.4 16 2.9 14 3.3 8 1.1 18.9 5.1 14.1 6 9.9 6 7.1 5.2 12.4 12.8 5.6 8.2 3.7 7.8 1.8 8 -1.6 10 -3.7 8 -10.9 12 -15.9 12 -5.4 3.2 -9.7 6.8 -24.3 14.8 -16.9 11.2 -34.3 20 -40.8 19.8 -30 9.3 -12 2.1 -18 0 -12-1.7 -6-1.4 -8-0.9 -12-3 -6-0.6 -20-4.5 -34.2-9.1 -21.9-8 -10.9-6 -13.9-10 -11.1-12 -5.3-8 -2.7-5.2 -2.8-8.8 -0.4-4 2.1-8 1.9-4 6.6-8 7-6 7.6-6 12.1-8 28.1-18 5.8-3.2 15.8-10.8 6.2-3.6 33.9-22.4 6.1-3.2 10.4-6.8 14.4-8 25.2-11.7zM247.6 309.8l11.6-1.9 6 0.3 6 1.9 2.2 1.7 1.5 2 0.9 4 -1.5 6 -3.6 6 -5.5 6 -9.9 8 -9.3 6 -12.4 6 -10.4 3.7 -11.1 2.3 -6.9 0.2 -6-1.1 -2.6-1.1 -2.4-2 -1.8-4 0.6-6 4.2-7.4 5.9-6.6 10-8 9.5-6 12.5-6z" fill="#1e2dfb" fill-rule="evenodd"/>
<path d="M461.1 307.8l10.1-1.7 6-0.3 18 2.8 36 10.9 56 12 16 4.7 14 6.2 10 6.1 8 6 10.4 11.3 5.6 8.9 3.1 7.1 1.2 6 -0.6 8 -2.9 8 -4.1 6 -5.1 6 -6.6 6 -7.8 6 -14.4 10 -26.8 16.7 -14 9.4 -22 13.2 -23.6 12.7 -28.4 13.2 -20 6.1 -14 3.7 -12 1.5 -10 0.1 -6-0.2 -12-1.5 -6-1.4 -8-0.8 -10-2.4 -8-0.9 -18-4.1 -16-4.3 -21.5-7 -18.1-8 -10.4-6.5 -14-11.4 -8.1-10.1 -4.7-8 -3.1-8 -0.6-6 1.3-6 4.4-8 6.5-8 6-6 12.2-10 25.7-18 61.4-40 17-10 15.4-8 22.6-9.3zM244.9 317.8l6.3-0.7 5.4 0.7 3.4 2 1.2 2 0 4 -1.8 4 -3 4 -4.1 4 -5.3 4 -6.6 4 -8.9 4 -6.3 1.9 -10 1.1 -4.9-1 -2.7-2 -0.9-2 -0.2-2 1.2-4 2.6-4 5.9-6 5.4-4 7.6-4.4 8-3.5z" fill="#263af9" fill-rule="evenodd"/>
<path d="M466 311.8l7.2-0.8 6 0 18 2.5 32 8.7 34 7.1 22 5.2 16 5 6 2.5 10 5.2 12.5 8.6 5.5 5.1 7.2 8.9 4.8 8.3 2.7 7.7 0.2 8 -2.3 8 -4.8 8 -6.9 8 -19.6 16 -43.3 28.5 -22 13.3 -27.2 14.2 -24.8 10.8 -18 5.1 -16 3.8 -16 1.3 -10-0.1 -12-1 -6-1.4 -8-0.7 -10-2.2 -8-0.9 -20-4.4 -24-7.5 -14-5.4 -10-4.8 -13.2-8.6 -12.8-10.9 -6.9-9.1 -3.5-6 -3.1-8 -0.6-6 1.8-6 6.3-12 6.7-8 8.2-8 25.4-20 11.4-8 27.1-18 25.2-15.9 18-9.6 16-7.3 20-7z" fill="#2e47f8" fill-rule="evenodd"/>
<path d="M455 317.8l20.2-1.9 22 1.8 18 4.7 56 11.8 18 5.2 14 5 12 6.5 10 6.9 6 5.5 6 7.7 5.1 8.8 2.2 6 0.7 6 -1.5 8 -4.2 8 -5.9 8 -18 16 -24.4 17.1 -18 11.8 -22 13.2 -30 15.4 -18 7.3 -14 4.4 -24 5.2 -16 1 -22-0.9 -6-1.5 -8-0.5 -8-1.8 -10-1.1 -18-4 -20-6.3 -20-8.4 -11.5-6.9 -17-14 -4.8-6 -4.8-8 -2.6-6 -1-6 0.7-4 4.6-14 4.1-6 8.6-10 23.1-20 12.6-9.3 26-17.6 22-13.7 14-7.4 16-7.2 14-4.9z" fill="#3754f7" fill-rule="evenodd"/>
<path d="M453.6 321.8l5.6-0.7 16-0.6 20 0.8 20 4.2 6 0.7 15.4 3.6 6.6 0.7 12 3.1 6 0.8 8 2 20 6.3 12 4.7 12 6.9 10 7.3 4.4 4.2 7 10 3.9 8 1.8 8 -0.6 6 -3.2 8 -6.5 10 -16.8 15.7 -22 15.8 -30 19.2 -14 8.1 -28 13.8 -22 8.4 -20 4.6 -6 0.4 -6 1.6 -4 0.4 -18 0.3 -14-0.4 -8-1.7 -8-0.4 -7.8-1.8 -8.2-0.7 -18-4 -20-6.4 -20-9.4 -8.6-5.5 -15.5-14 -3.5-4 -4.6-8 -3-8 -0.3-4 1.9-14 1.3-4 4.8-8 6.4-8 19.3-18 5.8-4.1 6-5.1 26-17.9 22-13.5 14-7.2 12-5.2 12-4.3z" fill="#3f61f6" fill-rule="evenodd"/>
<path d="M457 323.8l36.2-0.2 20 3.7 6 0.6 16 3.5 8 0.9 26 6.1 18 5.9 12 4.9 12 7 10 7.5 4.1 4.1 5.5 8 3.9 8 2.3 8 -0.5 6 -3 8 -4.5 8 -15.8 15.8 -24 17.6 -18 12 -22 13.1 -28 13.9 -18 7 -14 4 -12 2.5 -8 0.6 -6 1.5 -12 0.4 -22-0.5 -6-1.4 -10-0.6 -6-1.5 -8-0.6 -20-4.6 -18-6 -20-9.8 -8-5.4 -16.1-16 -4.6-8 -2.8-8 -0.5-4 0.1-8 0.8-8 4-8 5.6-8 18.1-18 12.4-10 27-18.7 20-12.1 14-7.2 12-5.1 12-4.1z" fill="#486df4" fill-rule="evenodd"/>
<path d="M455.3 325.8l9.9-0.5 28 0.1 20 3.5 6 0.4 16 3.5 6 0.6 26 6 18 6 12 5 14 8.2 9.2 7.2 3.7 4 5.1 8 3.6 8 2 8 -2 8 -2.4 6 -3.6 6 -13.6 14.2 -23.7 17.8 -18.3 12.2 -22 13.2 -28 13.8 -20 7.6 -14 3.8 -10 2 -8 0.5 -8 1.7 -18 0.2 -14-0.5 -6-1.4 -10-0.7 -6-1.5 -8-0.7 -20-4.7 -18-6.3 -18-9.2 -8.8-6 -15.3-16 -4.2-8 -2.5-8 -0.3-8 0.4-8 3.4-8 6.8-10 16.5-17 12-9.9 26-18.2 20-12.1 14-7.2 12-5 14-4.6z" fill="#507af3" fill-rule="evenodd"/>
<path d="M454 327.8l9.2-0.9 30 0.1 18 3 8 0.7 14.4 3.1 7.6 0.9 26 6.1 18 6.2 12 5.2 12.4 7.6 9.6 7.6 2.3 2.4 5.3 8 3.8 8 2 8 -1.9 8 -2.3 6 -3.7 6 -13.1 14 -22.4 17.1 -18 12 -22 13.2 -28 13.8 -18 6.9 -16 4.3 -5.1 0.7 -4.9 1.3 -9.3 0.7 -6.7 1.5 -18 0.2 -12-0.4 -8-1.5 -8-0.4 -8-1.8 -8-0.8 -18-4.3 -18.4-6.5 -19-10 -8.4-6 -11.4-12 -3.1-4 -3.8-8 -2.2-8 -0.1-10 0.5-4 3.5-8 6.4-9.5 14-15.1 12-10.3 14.9-11.1 23.1-14.9 10-5.9 10.3-5.2 13.7-5.8 14-4.5z" fill="#5987f2" fill-rule="evenodd"/>
<path d="M452.7 329.8l8.5-1.4 30 0 28 3.6 14 2.9 8 1 12 3.1 6 1 14 4.2 14 5.3 10 4.6 12 7.6 8 6.6 3.3 3.5 6.1 10 3.5 10 0.2 2 -0.6 4 -3.3 10 -3.8 6 -11.4 12.7 -22 17.3 -20 13.3 -20 12 -28 13.7 -20 7.5 -14 3.7 -12 2.2 -8 0.5 -6 1.4 -18 0.3 -12-0.5 -30-4.3 -20-4.9 -18-6.6 -18-9.8 -8-5.9 -13.2-14.6 -4-8 -2.2-8 -0.3-8 0.8-6 3.5-8 3.6-6 3.2-4 12.6-14 11.4-10 14.6-11 22-14.3 11.5-6.7 10.5-5.3 12-4.9 14-4.5z" fill="#6194f1" fill-rule="evenodd"/>
<path d="M450.4 331.8l10.8-1.8 28-0.2 28 3.2 16 3.1 6 0.7 20 4.5 14 4.3 12 4.6 12 5.7 10 6.6 8.7 7.3 3.5 4 5.8 10 2.7 8 -0.4 6 -3.2 10 -3.7 6 -10.4 12 -21 16.8 -20 13.5 -20 12 -28 13.6 -20 7.5 -14 3.6 -12 2.3 -8 0.4 -8 1.6 -16 0.2 -12-0.7 -6-1.1 -10-0.8 -14-2.4 -20-5.2 -18-6.9 -16-9.1 -8-6 -5.2-5.3 -8.2-10 -3.6-8 -1.9-8 0-8 1.6-6 5.2-10 4.5-6 10.3-12 11.3-10.3 15.1-11.7 20.9-13.7 12-6.9 14-6.9 10-3.8 12-3.7z" fill="#69a1ef" fill-rule="evenodd"/>
<path d="M458.7 331.8l6.5-0.5 26 0.1 28 3.2 20 3.4 20 4.6 14 4.4 12 4.8 11.9 6 8.9 6 11.2 10.3 5.8 9.7 2.7 8 -0.3 6 -3.1 10 -2.3 4 -5.9 8 -5.7 6 -21.2 17.2 -18 12 -21.2 12.8 -24.8 12 -22 8.3 -14 3.6 -12 2.3 -8 0.4 -8 1.6 -16 0.2 -10-0.6 -16-1.9 -16-2.8 -20-5.4 -16-6.3 -8-4.2 -8.3-5.2 -7.8-6 -9.1-10 -5.4-8 -1.6-4 -1.6-6 -0.4-8 0.5-4 1.3-4 4-8 4.1-6 9.8-12 10.5-10 15-12 21-14 12-6.9 14-6.9 10-3.9 14-4.2z" fill="#72aeee" fill-rule="evenodd"/>
<path d="M456.8 333.8l8.4-1 24 0 28 2.7 22 3.8 20 4.6 12 3.8 12 4.8 12 6.1 10 6.8 10.7 10.4 5.3 9 2.3 7 -0.2 6 -3 10 -7.9 12 -10.3 10 -14.9 12.1 -18 12.1 -22 13.2 -22 10.6 -18 7.2 -16 4.7 -16 3.1 -8 0.4 -10 1.8 -18-0.1 -24-2.7 -14-2.7 -22-6.3 -16.9-7.4 -15.6-10 -7.5-7 -8.5-11 -3.5-8 -1.4-8 0.5-8 3.2-8 4.8-8 9.3-12 11.6-11.5 14-11.4 20-13.4 13.5-7.7 12.5-6.2 10-3.9 14-4.2z" fill="#7abbed" fill-rule="evenodd"/>
<path d="M455 335.8l10.2-1.4 24-0.1 28 2.5 22 3.7 20 4.7 12 3.9 10 4 14 7.4 7.6 5.3 4.8 4 7.2 8 4.6 8 2 6 -0.2 6 -2.9 10 -7.6 12 -9.5 9.4 -14 11.6 -19.4 13 -20.6 12.5 -22 10.5 -20 7.8 -14 4.1 -16 3 -8 0.3 -8 1.7 -4 0.2 -16-0.2 -24-2.8 -14-2.8 -10-2.5 -12-4 -18-8.4 -13.6-9.4 -8-8 -7-10 -3.2-8 -0.9-8 1.3-8 3.5-8 3.8-6 9.1-12 9.9-10 14.5-12 18.6-12.7 14-7.9 12-6 12-4.6 14-4z" fill="#83c8ec" fill-rule="evenodd"/>
<path d="M474.5 335.8l16.7 0.1 26 2.1 20 3.4 24 5.7 10 3.4 12.2 5.3 11.8 6.7 8 5.8 8 8 3.7 5.5 3.2 6 1.4 6 -1.2 8 -2.9 8 -4.9 8 -3.3 4 -6.1 6 -14.1 12 -19.8 13.3 -18 11 -14 7.2 -12 5.4 -18 6.8 -14 4.1 -16 2.9 -10 0.6 -8 1.6 -16 0 -22-2.4 -18-3.6 -20-6 -15.2-6.9 -6.8-3.9 -8-5.8 -8-7.6 -5.1-6.7 -4.6-8 -2-8 0.1-8 2.5-8 4.4-8 8.6-12 10.1-10.7 14-11.9 18-12.4 16-9 12-5.9 10-3.7 22-5.9 14-2.3z" fill="#83cce4" fill-rule="evenodd"/>
<path d="M461.5 337.8l5.7-0.5 22 0 30 2.2 26 4.7 14 3.6 12 4.1 8 3.4 8.4 4.5 9.6 6.1 7.2 5.9 7 8 4.4 8 1.6 6 -1.1 8 -2.7 8 -4.7 8 -9.4 10 -14.3 12.2 -26 17.1 -14 8.2 -22 10.3 -18 6.8 -16 4.5 -8 1 -6 1.5 -10 0.5 -10 1.8 -14-0.1 -28-3.6 -20-4.9 -12-4 -18-8.8 -12-8.8 -7.3-7.7 -6.5-10 -2.4-6 -1-8 0.8-6 2.9-8 4.8-8 7.1-10 9.4-10 14-12 18.2-12.6 14-7.7 12-6 10-3.7 22-5.9z" fill="#7ac7d5" fill-rule="evenodd"/>
<path d="M459.7 339.8l7.5-1 22 0 30 1.9 26 4.8 16 4.3 16 6.1 8 4.3 11.8 7.6 6.2 5.3 7.1 8.7 4.1 8 0.9 4 -1 8 -2.5 8 -4.5 8 -5.3 6 -15.4 14 -27.4 18.3 -14 8.3 -22 10.2 -24 8.7 -10 2.5 -8 1 -6 1.4 -10 0.6 -8 1.6 -4 0.2 -12-0.2 -18-2 -10-1.6 -20-5.1 -12-4.2 -18-9.3 -10.8-8.4 -7.2-8 -4.9-8 -2.6-6 -0.9-8 0.8-6 1.9-6 4.3-8 8.4-12 7.2-8 13.4-12 22.4-15.3 20.6-10.7 10.3-4 23.1-6.2z" fill="#72c2c6" fill-rule="evenodd"/>
<path d="M457.7 341.8l7.5-1.4 20-0.1 34 1.6 26 4.8 14 3.7 14.4 5.4 11.4 6 10.2 6.7 6.2 5.3 6.5 8 4.3 8 1 4 -0.8 8 -2.3 8 -3.1 6 -6.5 8 -15.3 14 -26 17.3 -14 8.3 -22 10.2 -24 8.6 -10 2.6 -8 0.9 -8 1.7 -8 0.2 -8 1.7 -4 0.2 -12-0.2 -6-1.1 -12-0.9 -10-1.8 -20-5.3 -12-4.4 -16-8.5 -9.8-7.5 -7.3-8 -3.9-6 -3.7-8 -0.9-6 0.8-8 1.8-6 4.2-8 6.8-10.2 8.6-9.8 11.4-10.4 22-15.3 26-13 22-6.5 8-1.9z" fill="#69bdb8" fill-rule="evenodd"/>
<path d="M467.8 341.8l21.4 0 32 1.6 22 4 14 3.7 12 4.2 8 3.7 16 10.1 5.6 4.7 6.7 8 3.5 6 1.7 4 0.3 6 -1.8 10 -2.7 6 -2.5 4 -5 6 -15.2 14 -18.6 12.5 -18 11.1 -14 7 -12 5.1 -22 7.6 -10 2.6 -8 0.9 -8 1.7 -10 0.4 -6 1.4 -4 0.3 -12-0.2 -6-1.2 -12-0.8 -10-1.9 -20-5.6 -10-3.7 -18-9.8 -9-7.4 -7-8.4 -5.1-9.6 -1.6-6 0-6 1.6-8 3.7-8 6.1-10 9.3-11 12-11 16.7-12 25.3-13.4 10-3.8 16-4.4 10-2.3z" fill="#61b8a9" fill-rule="evenodd"/>
<path d="M463.5 343.8l5.7-0.6 18-0.1 32 1 24 4.4 14 3.8 12 4.4 6 2.8 8 4.7 10.8 7.6 5.2 5 6.4 9 3 6 0.5 4 -1.1 10 -3 8 -7.4 10 -14.4 13.4 -18.8 12.6 -17.2 10.6 -14 7.1 -12 5 -22 7.6 -10 2.7 -9.9 1 -6.1 1.5 -10 0.3 -6 1.4 -4 0.4 -10-0.1 -8-1.5 -12-0.7 -10-1.9 -8-2.2 -12-3.8 -9-3.4 -11.4-6 -9.1-6 -6.6-6 -6.2-8 -4.8-10 -1-6 1-10 3.2-8 7-12 6.9-8.5 12-11.6 18-13.2 24-12.4 10-4 10-2.7 16-4z" fill="#59b39a" fill-rule="evenodd"/>
<path d="M461.5 345.8l3.7-1 6-0.4 48 0.8 24 4.4 14 3.9 14 5.5 11.9 6.8 10.1 7.4 4.6 4.6 5.6 8 3.1 6 0.7 4 -0.7 10 -2.9 8 -6.4 8.9 -14 13.4 -26 17.4 -10 6 -14 7.1 -12 5 -24 8.2 -8 2 -10 1 -6 1.5 -10 0.3 -10 1.8 -10-0.1 -8-1.5 -12-0.8 -10-1.9 -6-1.8 -12-3.7 -10-3.9 -12-6.5 -8-5.4 -7.2-7 -5.7-8 -3.4-8 -1.1-6 0.8-10 3-8 5.6-10 7.7-10 10.3-10.2 18-13.4 22-11.6 6-2.9 8-2.8 24-6.1z" fill="#50ae8c" fill-rule="evenodd"/>
<path d="M467.2 345.8l22-0.3 30 0.7 6 1.5 6 0.5 12 2.5 14 4 16 6.6 10 6.3 10 7.6 2.6 2.6 6.7 10 2.7 6 0.3 4 -0.5 8 -2.8 8 -5.6 8 -13.4 13.2 -26 17.6 -10 6 -14 7.1 -12 5 -24 8.1 -10 2.5 -8 0.5 -6 1.5 -11.6 0.5 -8.4 1.6 -10-0.1 -6-1.4 -14-1 -10-1.9 -6-1.9 -12-3.8 -10-4.1 -12-6.8 -8-5.7 -4.8-4.9 -6.7-10 -3-8 -0.5-8 0.7-6 3-8 5.3-10 7.7-10 10.3-10.1 18-13.3 24.7-12.6 9.3-3.4 16-4.2 8-2 8-1z" fill="#48a97d" fill-rule="evenodd"/>
<path d="M463.9 347.8l3.3-0.8 6-0.3 46 0.5 6 1.5 6 0.5 12 2.5 14 4.1 14 5.9 10 6.1 10 7.5 4 4.3 4.2 6.2 4 8 0.5 4 -0.4 8 -2.8 8 -5.5 8 -12 12 -20 13.8 -16.3 10.2 -13.7 7 -12 5 -24 8.1 -10 2.4 -8 0.6 -6 1.4 -12 0.5 -8 1.6 -8 0 -8-1.5 -12-0.6 -12-2.4 -18.4-6.1 -9.6-4 -10-5.8 -8-5.6 -6-6.4 -5.3-8.2 -3.5-10 -0.2-6 0.8-6 2.9-8 5.3-10 7.7-10 8.3-8.3 18-13.5 24-12.4 10-3.9 24-6.2z" fill="#3fa56e" fill-rule="evenodd"/>
<path d="M473.3 347.8l37.9-0.1 8 0.5 24 4.7 14 4.2 15.3 6.7 8.7 5.7 10 7.9 2.2 2.4 5.2 8 2.8 6 0.9 6 -0.4 6 -2.8 8 -5.6 8 -11.9 12 -24.4 16.7 -12 7.3 -12 6.1 -12 4.9 -24 8.1 -10 2.5 -8 0.5 -8 1.7 -10 0.2 -8 1.6 -8 0 -8-1.5 -12-0.7 -12-2.5 -18-6.1 -8-3.4 -12-7.1 -8.3-6.3 -3.7-4 -6.1-10 -2.5-8 -0.2-8 2.8-10 4.9-10 7.2-10 3.7-4 6.2-6 16-12.1 26.9-13.9 9.1-3.2 24-6.3 6-0.6 6-1.5z" fill="#37a05f" fill-rule="evenodd"/>
<path d="M465.8 349.8l5.4-0.8 14-0.3 32 0.3 24 4.5 14.2 4.3 11.8 4.9 6 3.3 16 11.8 2 2.2 4 6 4 7.6 1.1 4.2 0 6 -2.2 8 -4.7 8 -12.2 12.8 -18.6 13.2 -15.8 10 -15.6 7.9 -10 4.1 -24 8 -10 2.5 -8 0.6 -8 1.6 -10 0.2 -10 1.7 -6-0.1 -8-1.6 -12-0.6 -10.9-2.3 -19.1-6.6 -10-4.8 -8-5 -8-6 -4-4.4 -5.6-9.2 -2.5-8 -0.5-6 0.5-4 1.8-6 4.3-9.5 2-3.5 8-10.6 6.5-6.4 17.5-13.3 24.4-12.7 9.6-3.6 16-4.4 8-2.1z" fill="#2e9b51" fill-rule="evenodd"/>
<path d="M484 349.8l31.2 0.1 14 2.3 12 2.6 14 4.5 10.6 4.5 7.1 4 15.4 12 5.6 8 3 6 1.2 4 0 6 -2.3 8 -3.2 6 -3.1 4 -9.3 10 -19 13.7 -16.4 10.3 -11.9 6 -13.7 5.7 -24 7.8 -10 2.3 -8 0.5 -6 1.3 -10 0.2 -8 1.4 -6 0.1 -10-1.5 -10-0.5 -12-2.4 -18-6.3 -9.8-4.6 -10.2-6.7 -8.5-7.3 -5.3-8 -1.9-4 -2.2-8 0-6 2.2-8 4.6-10 7.1-10.2 7.3-7.8 18.3-14 26.4-13.6 6.7-2.4 25.3-7 12-2.4z" fill="#269642" fill-rule="evenodd"/>
<path d="M469.5 351.8l17.7-0.9 30 0.4 24 5 14 4.6 10.8 4.9 11.9 8 9.3 7.8 6 9.5 2.5 6.7 0.3 4 -1.8 8 -2.8 6 -4.2 6 -8 8.8 -18 13.5 -16 10.2 -14 7.1 -12 4.9 -24 7.8 -10 2.3 -8 0.5 -6 1.2 -12 0.4 -6 1.2 -4 0.1 -4-0.1 -6-1.2 -11.7-0.7 -10.3-2.1 -20-7 -8-4 -10-6.6 -7.4-6.3 -3.2-4 -4.4-8 -2.1-8 0-6 2.1-8 3.6-8 6.6-10 5.1-6 19.7-15.9 24-12.8 8-3.1 18-5.5z" fill="#1e9133" fill-rule="evenodd"/>
<path d="M467.2 353.8l6-1 12-0.6 30 0.1 24 4.9 16 5.4 8 3.8 8 4.8 13.1 10.6 2.9 3.4 3.9 6.6 2.3 6 0.3 4 -1.2 6 -3.4 8 -4.2 6 -7.1 8 -18.4 14 -15.8 10 -12.4 6.2 -12 5 -24 7.8 -10 2.3 -8 0.6 -6 1 -12 0.4 -10 1.3 -22-2.1 -12-2.6 -18-6.8 -8-4.2 -9.6-6.9 -6.6-6 -2.9-4 -3.9-8 -1.7-8 1.2-8 2.9-8 3.2-6 7.1-10 4.3-4.5 16-12.8 24-13.2 8.5-3.5 17.5-5.6z" fill="#158c25" fill-rule="evenodd"/>
<path d="M480.2 353.8l29-0.5 8 0.7 22 4.7 16 5.7 10 5 10 7.2 8.2 7.2 2.9 4 3.3 6 1.7 6 -0.2 4 -1.6 6 -2.7 6 -7.5 10 -4 4 -16.1 12.6 -16 10.2 -14 7 -10 4.1 -24 7.8 -10 2.3 -16 1.7 -10 0.2 -10 1.2 -20-1.8 -12-2.4 -18-6.6 -7.9-4.3 -8.6-6 -8.3-8 -3.7-6 -2.4-6 -1.1-6 0.6-6 1.8-6 3.7-8 5.9-8.8 6-6.5 16-12.9 26-14.1 30-10 14-3z" fill="#0d8716" fill-rule="evenodd"/>
<path d="M472.1 355.8l15.1-1.2 28 0.3 12 2.3 12 3 14 5.1 5.3 2.5 7.1 4 9.6 7.3 7.1 6.7 2.7 4 3 6 1 4 -0.6 6 -2.8 8 -6.8 10 -5.8 6 -15.2 12 -14.6 9.4 -14 7 -10 4.2 -18 6 -16 4.1 -16 1.7 -10 0.2 -10 1 -20-1.7 -14-3.1 -16-6.3 -8-4.6 -7.7-5.9 -6.1-6 -3-4 -3.5-8 -1-6 0.5-6 2.6-8 3.1-6 7.1-10.1 3.9-3.9 14.5-12 23.6-13.3 8-3.3 18-6.2z" fill="#048207" fill-rule="evenodd"/>
<path d="M469.4 357.8l17.8-1.9 26 0.1 14 2.6 10 2.5 18 6.8 7.1 3.9 5.7 4 9.4 8 5.1 6 3.1 6 1 4 -0.6 6 -2.6 8 -6.8 10 -5.4 5.6 -14 11.2 -14 9.2 -14 7.1 -10 4.2 -18 6 -16 4 -16 1.7 -10 0.2 -10 0.9 -20-1.7 -12-2.6 -16-6.2 -6.5-3.6 -8.2-6 -9.3-10 -3.6-8 -1.1-6 0.6-6 2.6-8 5.5-9.7 4-5.3 9.8-9 8.2-6.6 20-11.6 10-4.4 18-6.5z" fill="#088400" fill-rule="evenodd"/>
<path d="M481.1 357.8l10.1-0.7 18 0 6 0.5 12 2.4 12 3.3 14 5.5 5.8 3 6.2 4.1 9.4 7.9 4.6 4.9 3.1 5.1 1.6 4 0.4 4 -1.6 8 -2.6 6 -5.6 8 -5.3 5.3 -13 10.7 -15 9.7 -12.7 6.3 -11.3 4.7 -16 5.3 -18 4.4 -34 2.2 -16-1.1 -12-2.2 -8-2.4 -14-6 -8-5.4 -6-5.5 -5.1-6 -2.4-4 -2-6 -0.5-6 0.9-6 3.1-7.8 4.9-8.2 5.1-6 16-13.5 22-12.5 30-11.3 14-3.6z" fill="#188c00" fill-rule="evenodd"/>
<path d="M474.5 359.8l14.7-1.5 24 0.3 12 2.3 12 3.2 18 7.4 8 5.2 8.5 7.1 5.5 5.8 2.7 4.2 1.6 4 0.5 4 -1.6 8 -2.4 6 -4 6 -5.5 6 -13.3 11.1 -14 9.1 -14 7.1 -10 4.1 -16 5.3 -18 4.4 -34 2.1 -18-1.4 -14-3 -11.9-4.8 -6.1-3 -9.2-7 -5.4-6 -4.2-6 -2-6 -0.6-6 0.9-6 2.3-6 4.5-8 4.8-6 14.9-13 22-12.9 26-10.4 12-3.6z" fill="#289400" fill-rule="evenodd"/>
<path d="M485.9 359.8l25.3-0.1 12 2.1 14.5 4 18.2 8 7.3 5.2 8 6.9 4 4.5 3.3 5.4 1.1 4 -0.1 4 -1.9 8 -2.9 6 -6.2 8 -6.8 6 -7.1 6 -13.4 8.8 -14 7.1 -10 4.2 -16 5.3 -18 4.4 -34 1.9 -16-1 -10-1.9 -8-2.3 -12-5.2 -5.4-3.3 -7.1-6 -7.6-10 -2.1-6 -0.6-6 0.9-6 3.4-8 3.6-6 5.1-6 13.8-11.9 18-10.9 6-2.9 22-8.9 12-3.8 10-2.3z" fill="#389c00" fill-rule="evenodd"/>
<path d="M482 361.8l7.2-1 24 0.4 12 2.4 12 3.6 16 6.9 8 5.7 8 6.9 4.5 5.1 2.4 4 1.2 4 0 4 -1.8 8 -1.7 4 -5.6 8 -4 4 -9.2 8 -13.8 9.4 -14 7.1 -10 4.3 -16 5.4 -18 4.3 -34 1.7 -16-1 -12-2.4 -8-2.7 -12-5.7 -7.9-6.4 -4.9-6 -3.6-6 -1.2-4 -0.6-6 0.9-6 3.4-8 2.3-4 4.9-6 12.7-11.4 22-13.3 28-11.6 12-3.6z" fill="#48a400" fill-rule="evenodd"/>
<path d="M476.4 363.8l12.8-1.7 22 0.1 12 2.3 12 3.5 17.7 7.8 7.9 6 6.7 6 3.6 4 2.6 4 1.3 4 0 4 -1.5 8 -1.7 4 -5.6 8 -10.8 10 -10.9 8 -5.3 3.1 -22 10.4 -18 5.9 -18 4.2 -32 1.1 -16-0.9 -10-1.9 -8-2.6 -12-5.6 -7.2-5.7 -5-6 -3.6-6 -1.2-4 -0.6-6 0.9-6 2.4-6 2.1-4 4.6-6 13.2-12 20.4-12.6 26-11.3 12-4z" fill="#58ac00" fill-rule="evenodd"/>
<path d="M485.5 363.8l5.7-0.6 18 0.1 12 2.1 16 4.8 16 7.7 13.6 11.9 3.2 4 2.2 4 0.6 6 -1.3 8 -1.7 4 -3.9 6 -5.8 6 -8.9 7.7 -8.9 6.3 -13.1 6.8 -10 4.7 -18 6.1 -20 4.7 -34 1 -12-0.6 -10-1.8 -8-2.4 -12-5.5 -4-2.8 -4.6-4.2 -6.7-10 -1.5-6 -0.1-6 0.8-4 3.4-8 4.3-6 5.9-6 8.5-7.1 17.3-10.9 6.7-3.3 20-8.9 12-4.2 10-2.4z" fill="#68b400" fill-rule="evenodd"/>
<path d="M482.1 365.8l7.1-1.4 22 0.3 10 1.9 14 4.3 16 7.6 14 12.4 2.4 2.9 2.3 4 0.8 4 -0.6 8 -1.2 4 -3.5 6 -3.1 4 -9.1 8.6 -10 7.5 -6 3.4 -20 9.6 -18 5.9 -18 4.2 -32 0.8 -14-0.6 -10-1.9 -8-2.5 -12-5.8 -6.2-5.2 -3.1-4 -3.5-6 -1.5-6 -0.1-6 0.9-4 2.4-6 4-6 3.5-4 8.7-8 20.9-13.3 26-12.1 12-4.2 8-1.9z" fill="#78bc00" fill-rule="evenodd"/>
<path d="M487.4 365.8l21.8-0.3 12 2.3 14 4.5 16 8 12.4 11.5 3 4 1.8 4 0.3 6 -0.9 6 -5.5 10 -10.2 10 -8.9 6.7 -20 10.5 -6 2.7 -18 6 -20 4.4 -30 0.5 -14-0.7 -10-2 -8-2.7 -10.9-5.4 -5.1-4.2 -3.1-3.8 -4.2-8 -0.6-4 -0.1-6 1-4 2.4-6 4.6-6.6 7.3-7.4 2.7-2.3 20-13.1 24-11.6 14-5.3z" fill="#87c300" fill-rule="evenodd"/>
<path d="M484.1 367.8l7.1-1.3 16 0 12 2.1 14 4.3 16 7.8 3.9 3.1 10 10 3.3 6 0.6 4 -0.4 6 -1.3 4 -3.3 6 -9.5 10 -10.3 8 -15 8 -10 4.8 -18 6 -20 4.5 -30 0.4 -12-0.4 -12-2.6 -6-2 -12-5.9 -4-3.3 -3-3.5 -4.1-8 -0.8-4 0.1-6 1.8-6 1.8-4 4.2-6 5.8-6 4.2-3.5 18-12 24-12 14-5.6 8-1.9z" fill="#97cb00" fill-rule="evenodd"/>
<path d="M488.7 367.8l18.5-0.3 12.6 2.3 13.4 4.4 16 8.3 11.7 11.3 3.6 6 0.7 4 -0.3 6 -1.4 4 -3.3 6 -9.5 10 -9.5 7.3 -16.5 8.7 -7.5 3.6 -18 6.1 -20 4.5 -30 0.4 -12-0.5 -10-2.2 -8-2.8 -10.1-5.1 -5-4 -2.9-4 -3-6 -0.8-4 0.1-6 1.9-6 1.8-3.6 4-5.9 6-6.2 20.3-14.3 25.7-13.1 12.6-4.9z" fill="#a7d300" fill-rule="evenodd"/>
<path d="M485.5 369.8l5.7-1.1 16 0 12 2.2 14.5 4.9 14.7 8 10.8 10.9 2.2 3.1 1.6 4 0.3 4 -0.4 4 -1.7 4.5 -3 5.5 -7.3 8 -9.9 8 -18.9 10 -6.9 3.1 -16 5.4 -20 4.6 -30 0.4 -12-0.8 -10-2.4 -6.5-2.3 -11.1-6 -4.4-3.9 -2.5-4.1 -2.6-6 -0.5-4 0.4-4 1.9-6 3.3-6 6.9-8 21.1-15.2 24-12.5 14-5.5 8-2z" fill="#b7db00" fill-rule="evenodd"/>
<path d="M479.5 371.8l11.7-1.9 18 0.3 10 2 12 4.1 13.9 7.5 4.1 3 6.5 7 3.1 4 1.7 4 0.6 4 -0.6 4 -3.3 8 -8 9.4 -8 6.7 -13.9 7.9 -12.1 5.8 -12 4.1 -14 4 -10 2.1 -30 0.3 -10-0.6 -12-3.2 -6-2.5 -7.1-4 -5.4-4 -3-4 -1.8-4 -1.3-4 0-4 1.5-6 1.8-4 3.3-5.5 3.9-4.5 7.2-6 11-8 9.9-5.9 18-9.3 12-4.7z" fill="#c7e300" fill-rule="evenodd"/>
<path d="M488.5 371.8l4.7-0.5 14 0.1 12 2.3 14 5.2 12 7.2 4 3.5 5.3 6.2 3.4 6 0.5 6 -1.8 6 -2 4 -6.6 8 -6.8 6 -4 3 -9.1 5 -10.9 5.4 -8 3.1 -12 4 -18 4.1 -4 0.4 -26 0.1 -10-1 -10-2.9 -7.1-3.2 -6.5-4 -4.9-4 -2.8-4 -1.6-4 -0.6-6 1.5-6 2.8-6 2.8-4 3.7-4 17.8-14 21.4-12 15.5-6.5 8-2.1z" fill="#d7eb00" fill-rule="evenodd"/>
<path d="M485.6 373.8l7.6-1.1 12 0 12 2 14 5.1 10 6 4 2.8 3.2 3.2 4.7 6 2.1 4 0.6 6 -1.8 6 -2.1 4 -4.7 6 -8.6 8 -13.7 8 -9.7 4.7 -14 5 -12 3.5 -12 2.4 -28 0.1 -10-1.3 -10-3.4 -6-3 -5.9-4 -4.6-4 -2.5-4 -1.3-4 -0.2-4 0.9-4 2.4-6 2.4-4 7.6-8 15.4-12 19.8-11.2 14-5.8 8-2.2z" fill="#e7f300" fill-rule="evenodd"/>
<path d="M480.5 375.8l12.7-1.5 14 0.2 12 2.4 12.4 4.9 11.9 8 3.8 4 4.3 6 1.5 4 0.3 2 -0.6 4 -2.3 6 -4.2 6 -7.9 8 -3.2 2.4 -9.7 5.6 -10.3 5.1 -7.4 2.9 -12.6 4.1 -16 3.8 -6 0.5 -22 0 -10-1.2 -13.4-5.2 -6.5-4 -4.6-4 -1.9-2 -2.3-4 -0.8-4 0.4-4 1.9-6 2.1-4 7-8 14.4-12 17.7-10.5 6-3 10-4z" fill="#f7fb00" fill-rule="evenodd"/>
<path d="M478.2 377.8l15-1.9 14 0.1 12 2.5 12 5 11.5 8.3 6.1 8 1.7 4 0.3 2 -1.1 6 -1.7 4 -4.3 6 -6.5 6.8 -4 3 -8 4.6 -10 5.1 -8 3.2 -18 5.6 -10 2.2 -6 0.5 -18 0 -10-0.6 -6-1.6 -6.8-2.8 -9.7-6 -5.8-6 -1.1-2 -1.1-4 0.4-4 1.9-6 3.7-6 8.5-9 14-10.8 18-10.2 10-3.9z" fill="#fff700" fill-rule="evenodd"/>
<path d="M489.3 377.8l15.9-0.4 12 2.1 12 4.8 5.3 3.5 7.3 6 3.1 4 2.3 4 0.7 2 0.2 4 -0.9 4 -1.7 4 -8.3 10.5 -4.2 3.5 -7.8 4.7 -14 6.9 -16 5.5 -18 4.3 -26 0.2 -6-0.7 -6-1.9 -6.3-3 -6.3-4 -4.3-4 -3.1-3.9 -1-2.1 -0.4-4 0.8-4 1.3-4 2.3-4 8.8-10 12.4-10 17.8-10.4 10-4 8-2.4z" fill="#ffe700" fill-rule="evenodd"/>
<path d="M482.3 379.8l12.9-0.9 14 0.4 10 2.4 10 4.5 10 7.8 3.1 3.8 2.3 4 1 4 0 2 -0.8 4 -1.8 4 -7.8 10.1 -4 3.2 -8 4.8 -16 7.5 -18 5.8 -10 2.3 -8 0.5 -24-0.5 -10-3.5 -9.4-6.2 -5.2-6 -1.1-2 -0.6-4 1.9-8 7-10 13.6-12 15.8-9.7 14-5.9z" fill="#ffd700" fill-rule="evenodd"/>
<path d="M479.5 381.8l3.7-0.8 10-0.5 16 0.3 10 2.6 8 3.6 4.1 2.8 6.8 6 4 6 1 6 -0.7 4 -1.8 4 -4.1 6 -3.6 4 -11.7 7.5 -14 6.6 -18 5.8 -10 2.4 -6 0.6 -24-0.3 -10-3.4 -7.9-5.2 -5.4-6 -1.8-4 -0.2-2 0.4-4 1.3-4 6.8-10 12.8-11.4 13.8-8.6 8.2-3.9z" fill="#ffc700" fill-rule="evenodd"/>
<path d="M477.6 383.8l3.6-1.1 4-0.5 22-0.2 6 1 10 3.7 4 2.1 3.9 3 4.4 4 3.1 4 2.1 6 -0.1 4 -1.3 4 -3.5 6 -3.1 4 -9.5 6.7 -16 7.9 -20 6.5 -12 2.4 -24 0 -6-1.5 -8-4 -6.8-6 -3.3-6 -0.3-4 0.7-4 4.4-8 5.1-6 10.2-8.9 16-9.7z" fill="#ffb700" fill-rule="evenodd"/>
<path d="M482.3 383.8l12.9-0.6 14 0.3 10 3 8 4.1 7.7 7.2 2.5 4 1.2 4 -0.5 6 -5.7 10 -3.2 3.1 -7.6 4.9 -14.4 7.1 -20 6.7 -10 2.3 -26 0.1 -7-2.2 -6.8-4 -5.7-6 -2-4 -0.4-2 0.6-6 5.6-10 11.7-11.1 13.8-8.9 8.2-3.8z" fill="#ffa700" fill-rule="evenodd"/>
<path d="M479.9 385.8l5.3-1.1 24 0.1 8 2.4 8 3.8 7.6 6.8 3.5 6 0.6 4 -0.6 4 -4.2 8 -2.9 3.3 -8 5.4 -14 7 -20 6.7 -10 2.4 -26 0.1 -6-2 -6-3.4 -5.3-5.5 -2.1-4 -0.4-2 0.5-6 5.3-9.5 10-9.8 14-9.3 8-3.9z" fill="#ff9700" fill-rule="evenodd"/>
<path d="M478.1 387.8l7.1-1.8 20-0.1 4 0.3 8 2.6 8 4 7.2 7 2.7 6 0 4 -0.6 2 -3 6 -2.3 3.2 -9.7 6.8 -14.3 7 -20 6.5 -10 2.2 -22 0.1 -6-1.6 -7.4-4.2 -2.6-2.5 -2.5-3.5 -1.5-4 -0.2-2 0.8-4 4.2-8 9.9-10 13.3-8.9 8-4.1z" fill="#ff8700" fill-rule="evenodd"/>
<path d="M483.6 387.8l15.6-0.4 9.8 0.4 6.4 2 8.3 4 6.5 6 3 6 0 4.1 -4 8.4 -2 2.3 -7.6 5.2 -14.4 7.2 -20 6.7 -8 2 -6 0.4 -19.6-0.3 -8.4-3.7 -3.1-2.3 -3.3-4 -1.6-3.7 -0.3-2.3 0.3-2.2 1.6-3.8 4.4-7.1 8-7.8 13.6-9.1 8.3-4z" fill="#ff7800" fill-rule="evenodd"/>
<path d="M483.8 389.8l5.4-0.5 18 0.2 8 2.4 7.8 3.9 4.5 4 1.7 2.2 1.8 3.8 0 4 -3.8 7.7 -2.2 2.3 -5.9 4 -13.9 7 -20 6.9 -8.6 2.1 -5.4 0.5 -18-0.2 -6.2-2.3 -5.8-3.7 -2-2.5 -1.8-3.8 0-4 3.8-7.9 3.6-4.1 6.4-5.9 12.1-8.1 7.9-3.9z" fill="#ff6800" fill-rule="evenodd"/>
<path d="M486.4 391.8l20.8 0.2 6.1 1.8 5.9 2.6 6 4.5 3.1 4.9 0 4 -1.7 4 -3.2 4 -4.2 3 -14 7.4 -20 6.9 -10 2.5 -14 0.4 -8-0.4 -6-2.4 -4.7-3.4 -2.4-4 0-4 3.1-6.4 7-7.6 14.5-10 3.7-2 10.7-4z" fill="#ff5800" fill-rule="evenodd"/>
<path d="M482 395.8l5.2-1.3 10-0.2 8 0.2 5.2 1.3 6.8 2.7 5 3.3 3 4 0.1 4 -2 4 -2 2 -6.1 4.2 -14 6.8 -18 6 -10 2.3 -18 0 -6-2 -4.7-3.3 -1.3-2.2 -0.4-1.8 0.4-2.2 3.2-5.8 4.8-5.1 16-11.1 6-2.8z" fill="#ff4800" fill-rule="evenodd"/>
<path d="M487.7 397.8l15.5-0.1 8.7 2.1 7.5 4 1.8 2.2 0.6 1.8 -0.3 2 -2.3 3.3 -3.6 2.7 -11.1 6 -5.3 2.3 -18 5.8 -10 2 -14 0 -6-1.5 -3.6-2.6 -0.9-2 1-4 3-4 4.5-4.2 16-10.4 9.2-3.4z" fill="#ff3800" fill-rule="evenodd"/>
<path d="M482 403.8l7.2-1.8 14 0 8 2.2 3 1.6 1.6 2 -0.3 2 -1.9 2 -6.7 4 -8.6 4 -17.1 5.6 -12 2.3 -12-0.2 -4.1-1.7 -0.6-2 0.7-2 4-4.3 14.5-9.7z" fill="#ff2800" fill-rule="evenodd"/>
</g>
<g id="contours-a" fill="none" stroke="#000" stroke-width="2.1" stroke-linejoin="round">
<path d="M468.8 299.8l12.4-0.4 11.6 2.4 12.4 4 10 4.4 18 5.8 18 4.4 14 2.5 16 3.6 6 0.6 8 2 10.5 2.7 5.5 1.9 9.4 4.1 10 6 8.2 6 12.4 12.8 6.4 9.2 3.6 7.6 2 8.4 0 2 -1.2 4 -0.8 4.3 -3.7 7.7 -3.2 4 -7.9 8 -10.1 8 -5.8 4 -5.3 3 -10 7 -28 16.9 -14 9.4 -20 12 -10 5.4 -7.1 4.3 -36.9 18.2 -30 9.9 -8 1.3 -4 1.1 -20 0.3 -8-1.6 -6-0.5 -6-1.5 -6-0.5 -12-3.2 -8-1 -12-3.3 -6-0.8 -4-1.3 -21.4-5.1 -2.6-1 -5.2-1 -23.6-8 -11.9-6 -14.4-10 -12.9-13.2 -6-8.7 -2-3.9 -2-4.9 -1.5-5.3 -0.3-4 1.8-6.8 2-4.7 2-2.8 7.6-7.7 16.5-12 5.9-3.2 3.7-2.8 6.3-3.5 22.8-14.5 5.2-2.9 16.5-11.1 7.5-4.4 32.5-21.6 5.5-2.9 10.7-7.1 10.1-6 7.5-4 25-12 6.2-2 4.5-0.8zM252 305.8l9.2-1.7 10 0.3 5.1 1.4 3.3 2 1.7 2 0.9 4 -0.1 2 -0.9 3.8 -1 2.2 -4.9 8 -6.1 6.2 -9.9 7.8 -12.1 8 -12 5.9 -10.3 4.1 -13.7 3.5 -8 0.5 -6-0.2 -4-0.7 -2.8-1.1 -2.7-2 -1.3-2 -0.7-4 0.4-4 1.1-3.3 5.6-8.7 6.4-6.5 9.5-7.5 12.2-8 3.7-2 8.6-4z"/>
<path d="M449.5 325.8l5.7-1.6 4-0.2 36 0.1 6 1.5 6 0.5 6 1.5 6 0.5 16 3.6 6 0.5 14 3.6 6 0.8 8 2 12 4 16 6.1 4 1.9 11.6 7.2 8.4 6.4 3.6 3.6 1.5 2 4 6 2.1 4 1.9 4 1.9 6 0.4 2 -0.1 4 -2.4 8 -4 8 -1.5 2 -15.4 15.6 -24 17.6 -18 12 -20 12 -28 14.1 -14 5.8 -12 4.1 -8 2 -6 0.9 -6 1.6 -8 0.5 -6 1.5 -12 0.4 -22-0.4 -6-1.5 -10-0.5 -6-1.6 -8-0.6 -20-4.5 -18-6.1 -20-10 -8-5.4 -13.7-13.5 -3.3-4 -4-8 -2.4-8 0.1-14 0.7-4 4-8 5.6-8 18-18 7-5.2 4-3.7 10-6.9 6-4.6 12-8.1 10-6.1 6-3.3 4-2.7 12-6.2 14-6 12-4.1 10-2.6z"/>
<path d="M464.6 347.8l4.6-0.8 14-0.2 30 0.2 6 0.3 6 1.5 6 0.6 6 1.5 6 1 8 2.7 6 1.4 13.8 5.8 10.2 6.3 10 7.5 3.8 4.2 5.2 8 2.9 6 0.6 4 -0.4 8 -2.9 8 -5.5 8 -12 12 -19.7 13.7 -16.5 10.3 -13.5 6.8 -12 5 -24 8.1 -10 2.5 -8 0.5 -6 1.5 -12 0.5 -8 1.6 -8 0 -8-1.6 -12-0.6 -12-2.4 -18-5.9 -10-4.2 -10-5.9 -8-5.7 -5.8-6.2 -5.2-8 -3.4-10 -0.3-6 0.8-6 2.1-6 1.8-3.9 4.3-8.1 7.7-10 8-8 18-13.5 24.1-12.5 4.5-2 7.4-2.4 24-6.2 6-0.5z"/>
<path d="M487.4 367.8l3.8-0.5 16 0 12 2.1 14 4.5 16 8.1 4.4 3.8 7.8 8 1.8 2.4 1.8 3.6 0.6 4 -0.3 6 -1.4 4 -3.2 6 -9.5 10 -10 7.7 -16 8.4 -8 3.8 -18 6.1 -10 2.5 -4 0.5 -6 1.5 -30 0.4 -12-0.6 -6-1.6 -4.8-0.7 -7.2-2.5 -10.9-5.5 -4.8-4 -2.9-4 -2.9-6 -0.8-4 0.1-6 1.8-6 2.1-4 4.1-6 5.9-6 20.3-14.2 26-13.2 12-4.7 10-2.5 4-0.4z"/>
<path d="M482.5 385.8l10.7-0.5 16 0.3 8 2.4 8 4 4.5 3.8 3.5 3.9 2.1 4.1 0.6 2 -0.1 4 -0.5 2 -4.2 8 -1.7 2 -2.2 1.8 -6 3.9 -14 7.1 -20 6.9 -10 2.4 -6 0.3 -20-0.2 -6-2.2 -3.8-2 -2.2-1.6 -2.6-2.4 -2.8-4 -0.9-2 -0.6-4 0.1-2 1.5-4 3.3-6 1.5-2 8.5-8.3 14.5-9.7 7.5-3.7z"/>
</g>
<g fill="none" stroke-width="4.57" stroke-dasharray="16.9 7.3">
<path d="M141.2 168.5L820.6 654.4" stroke="#000" stroke-dashoffset="1.05"/>
<path d="M189.2 71.8L637 751.3" stroke="#000" stroke-dashoffset="2.1"/>
<path d="M249.1 71.8L683.1 751.3" stroke="#f00" stroke-dashoffset="1.75"/>
</g>
<ellipse cx="260" cy="632" rx="82.5" ry="43" fill="#f00" transform="rotate(-14.5 260 632)"/>
<path d="M471.9 394.3L480.7 403.1L489.5 394.3L498.3 403.1L489.5 411.9L498.3 420.7L489.5 429.5L480.7 420.7L471.9 429.5L463.1 420.7L471.9 411.9L463.1 403.1Z" fill="#000" stroke="#fff" stroke-width="2.75" stroke-linejoin="miter"/>
<path d="M460.3 397.9L469.1 406.7L477.9 397.9L486.7 406.7L477.9 415.5L486.7 424.3L477.9 433.1L469.1 424.3L460.3 433.1L451.5 424.3L460.3 415.5L451.5 406.7Z" fill="#f00" stroke="#fff" stroke-width="2.75" stroke-linejoin="miter"/>
<path d="M411.5 405L420.3 413.8L429.1 405L437.9 413.8L429.1 422.6L437.9 431.4L429.1 440.2L420.3 431.4L411.5 440.2L402.7 431.4L411.5 422.6L402.7 413.8Z" fill="#000" stroke="#fff" stroke-width="2.75" stroke-linejoin="miter"/>
<line x1="718.5" y1="529" x2="718.5" y2="616.8" stroke="#000" stroke-width="4.2" />
</g>
<text x="311.2" y="186.3" font-size="45.2" >(a) 1.3mm Cont (ACA)</text>
<text x="504.5" y="372.5" font-size="42.5" text-anchor="middle" >A</text>
<text x="487.7" y="470.2" font-size="42.5" text-anchor="middle" fill="#f00" >B</text>
<text x="428" y="492.5" font-size="42.5" text-anchor="middle" >C</text>
<text x="792.2" y="561" font-size="45.83" text-anchor="middle" transform="rotate(-90 792.2 561)" >2000 AU</text>
<path d="M141.2 751.3v-17.5M141.2 71.8v17.5M311.05 751.3v-17.5M311.05 71.8v17.5M480.9 751.3v-17.5M480.9 71.8v17.5M650.75 751.3v-17.5M650.75 71.8v17.5M820.6 751.3v-17.5M820.6 71.8v17.5M141.2 751.3h17.5M820.6 751.3h-17.5M141.2 581.42h17.5M820.6 581.42h-17.5M141.2 411.55h17.5M820.6 411.55h-17.5M141.2 241.67h17.5M820.6 241.67h-17.5M141.2 71.8h17.5M820.6 71.8h-17.5" stroke="#000" stroke-width="2.6" fill="none"/><path d="M175.17 751.3v-6.25M175.17 71.8v6.25M209.14 751.3v-6.25M209.14 71.8v6.25M243.11 751.3v-6.25M243.11 71.8v6.25M277.08 751.3v-6.25M277.08 71.8v6.25M345.02 751.3v-6.25M345.02 71.8v6.25M378.99 751.3v-6.25M378.99 71.8v6.25M412.96 751.3v-6.25M412.96 71.8v6.25M446.93 751.3v-6.25M446.93 71.8v6.25M514.87 751.3v-6.25M514.87 71.8v6.25M548.84 751.3v-6.25M548.84 71.8v6.25M582.81 751.3v-6.25M582.81 71.8v6.25M616.78 751.3v-6.25M616.78 71.8v6.25M684.72 751.3v-6.25M684.72 71.8v6.25M718.69 751.3v-6.25M718.69 71.8v6.25M752.66 751.3v-6.25M752.66 71.8v6.25M786.63 751.3v-6.25M786.63 71.8v6.25M141.2 717.32h6.25M820.6 717.32h-6.25M141.2 683.35h6.25M820.6 683.35h-6.25M141.2 649.38h6.25M820.6 649.38h-6.25M141.2 615.4h6.25M820.6 615.4h-6.25M141.2 547.45h6.25M820.6 547.45h-6.25M141.2 513.47h6.25M820.6 513.47h-6.25M141.2 479.5h6.25M820.6 479.5h-6.25M141.2 445.52h6.25M820.6 445.52h-6.25M141.2 377.57h6.25M820.6 377.57h-6.25M141.2 343.6h6.25M820.6 343.6h-6.25M141.2 309.62h6.25M820.6 309.62h-6.25M141.2 275.65h6.25M820.6 275.65h-6.25M141.2 207.7h6.25M820.6 207.7h-6.25M141.2 173.73h6.25M820.6 173.73h-6.25M141.2 139.75h6.25M820.6 139.75h-6.25M141.2 105.77h6.25M820.6 105.77h-6.25" stroke="#000" stroke-width="2.1" fill="none"/>
<rect x="141.2" y="71.8" width="679.4" height="679.5" fill="none" stroke="#000" stroke-width="3.1"/>
<text x="141.2" y="785.6" font-size="31.25" text-anchor="middle" >-20</text>
<text x="130.8" y="760.6" font-size="31.25" text-anchor="end" >-20</text>
<text x="311.05" y="785.6" font-size="31.25" text-anchor="middle" >-10</text>
<text x="130.8" y="590.72" font-size="31.25" text-anchor="end" >-10</text>
<text x="480.9" y="785.6" font-size="31.25" text-anchor="middle" >0</text>
<text x="130.8" y="420.85" font-size="31.25" text-anchor="end" >0</text>
<text x="650.75" y="785.6" font-size="31.25" text-anchor="middle" >10</text>
<text x="130.8" y="250.97" font-size="31.25" text-anchor="end" >10</text>
<text x="820.6" y="785.6" font-size="31.25" text-anchor="middle" >20</text>
<text x="130.8" y="81.1" font-size="31.25" text-anchor="end" >20</text>
<text x="479" y="829.5" font-size="31.25" text-anchor="middle" xml:space="preserve">Δ<tspan font-style="italic">α</tspan><tspan dx="-2.2"> (")</tspan></text>
<text x="58.5" y="413" font-size="31.25" text-anchor="middle" transform="rotate(-90 58.5 413)" xml:space="preserve">Δ<tspan font-style="italic">δ</tspan><tspan dx="-2.2"> (")</tspan></text>
<rect x="820.6" y="71.8" width="16.9" height="679.5" fill="url(#cmA)" stroke="#000" stroke-width="3.1"/>
<path d="M837.5 133.9h10.6M837.5 218.4h10.6M837.5 320.3h10.6M837.5 454.1h10.6" stroke="#000" stroke-width="2.1" fill="none"/>
<text x="859.5" y="145.3" font-size="31.25" >400</text>
<text x="859.5" y="229.8" font-size="31.25" >300</text>
<text x="859.5" y="331.7" font-size="31.25" >200</text>
<text x="859.5" y="465.5" font-size="31.25" >100</text>
<text x="959.4" y="412" font-size="31.25" text-anchor="middle" transform="rotate(-90 959.4 412)">(mJy beam<tspan font-size="21.9" dy="-11.5">−1</tspan><tspan dy="11.5">)</tspan></text>
</g>
<g id="panel-b">
<g clip-path="url(#cb)">
<path d="M1362.12 81.8V750.8" stroke="#00f" stroke-width="2.7" stroke-dasharray="9 3.3" stroke-dashoffset="0.5" fill="none"/>
<path d="M1072.1 704.6L1087.4 696.1L1117.9 684.5L1148.4 679.6L1179 665.7L1209.5 665.7L1240 673.6L1270.5 690L1301.1 681.5L1331.6 383.5L1362.1 266.7L1392.7 289.8L1423.2 525.8L1453.7 702.1L1484.2 645L1514.8 567.1L1545.3 615.2L1575.8 617.6L1606.4 632.2L1636.9 673.6L1667.4 668.1L1697.9 660.8L1728.5 649.8L1759 641.9" stroke="#000" stroke-width="2.5" fill="none" stroke-linejoin="round"/>
</g>
<path d="M1148.42 750.8v-14.6M1301.07 750.8v-14.6M1453.71 750.8v-14.6M1606.36 750.8v-14.6M1759 750.8v-14.6M1072.1 689.98h14.6M1072.1 568.35h14.6M1072.1 446.71h14.6M1072.1 325.07h14.6M1072.1 203.44h14.6M1072.1 81.8h14.6" stroke="#000" stroke-width="1.5" fill="none"/><path d="M1087.36 750.8v-6.25M1117.89 750.8v-6.25M1178.95 750.8v-6.25M1209.48 750.8v-6.25M1240.01 750.8v-6.25M1270.54 750.8v-6.25M1331.6 750.8v-6.25M1362.12 750.8v-6.25M1392.65 750.8v-6.25M1423.18 750.8v-6.25M1484.24 750.8v-6.25M1514.77 750.8v-6.25M1545.3 750.8v-6.25M1575.83 750.8v-6.25M1636.88 750.8v-6.25M1667.41 750.8v-6.25M1697.94 750.8v-6.25M1728.47 750.8v-6.25M1072.1 738.64h6.25M1072.1 714.31h6.25M1072.1 665.65h6.25M1072.1 641.33h6.25M1072.1 617h6.25M1072.1 592.67h6.25M1072.1 544.02h6.25M1072.1 519.69h6.25M1072.1 495.36h6.25M1072.1 471.04h6.25M1072.1 422.38h6.25M1072.1 398.05h6.25M1072.1 373.73h6.25M1072.1 349.4h6.25M1072.1 300.75h6.25M1072.1 276.42h6.25M1072.1 252.09h6.25M1072.1 227.76h6.25M1072.1 179.11h6.25M1072.1 154.78h6.25M1072.1 130.45h6.25M1072.1 106.13h6.25" stroke="#000" stroke-width="1.2" fill="none"/>
<rect x="1072.1" y="81.8" width="686.9" height="669" fill="none" stroke="#000" stroke-width="1.45"/>
<text x="1148.42" y="780.3" font-size="31.25" text-anchor="middle" >−10</text>
<text x="1301.07" y="780.3" font-size="31.25" text-anchor="middle" >0</text>
<text x="1453.71" y="780.3" font-size="31.25" text-anchor="middle" >10</text>
<text x="1606.36" y="780.3" font-size="31.25" text-anchor="middle" >20</text>
<text x="1759" y="780.3" font-size="31.25" text-anchor="middle" >30</text>
<text x="1066.4" y="701.78" font-size="31.25" text-anchor="end" >0</text>
<text x="1066.4" y="580.15" font-size="31.25" text-anchor="end" >10</text>
<text x="1066.4" y="458.51" font-size="31.25" text-anchor="end" >20</text>
<text x="1066.4" y="336.87" font-size="31.25" text-anchor="end" >30</text>
<text x="1066.4" y="215.24" font-size="31.25" text-anchor="end" >40</text>
<text x="1066.4" y="93.6" font-size="31.25" text-anchor="end" >50</text>
<text x="1414" y="815" font-size="31.25" text-anchor="middle" xml:space="preserve">Velocity  (km s<tspan font-size="21.9" dy="-11.5">−1</tspan><tspan dy="11.5">)</tspan></text>
<text x="1013.4" y="374" font-size="31.25" text-anchor="middle" transform="rotate(-90 1013.4 374)">Flux (mJy beam<tspan font-size="21.9" dy="-11.5">−1</tspan><tspan dy="11.5">)</tspan></text>
<text x="1119" y="114.5" font-size="29.2" >(b)</text>
<rect x="1557.3" y="96.6" width="185.8" height="55.2" rx="4.2" ry="4.2" fill="#fff" fill-opacity="0.8" stroke="#ccc" stroke-width="2.1"/>
<line x1="1569.5" y1="122.3" x2="1632" y2="122.3" stroke="#000" stroke-width="2.1" />
<text x="1656.5" y="133.3" font-size="31.25">C<tspan font-size="21.9" dy="-11.5">18</tspan><tspan dy="11.5">O</tspan></text>
</g>
<g id="panel-c">
<g clip-path="url(#cc)">
<g id="field-c" stroke="none" filter="url(#blurC)">
<path d="M201.3 876.6l90.4 0 1 4 5.1 12 1.2 4 0.8 6 -0.3 10 2.3 8 2.8 4 9.7 10 3 4 2.7 6 2.4 10 2.7 5.5 16.5 20.5 18.5 32 15 30 15 26 17 34 15 26 7 16 18 36.8 2 3 2 1.2 12 1.6 24.9 5.4 33.1 6.3 4 0 10-1.9 28-0.6 12-1.7 8-0.1 6 0.7 6 1.7 8 0.3 8 1.3 14-0.8 30 0.9 12 2 28 0.9 12 2.1 10 0.4 8-0.3 12-2.7 6-2.2 14-6.5 14-4.3 4-0.2 4 0.7 12 5.4 -0.3 242.6 -4 4 0 2 -2 2 0 2 -2 2 0 2 -4 4 0 2 -2 2 0 2 -4 4 0 2 -4 4 0 2 -6 6 0 2 -4 4 0 2 -8 8 0 2 -8 8 0 2 -20 20 0 2 -6 6 -1.7 1.7 -2 0 -20 20 -2 0 -4.2 4.3 -160.3 0 -1.6-6 -5.9-8.7 -4-3.7 -16-10.6 -19-19 -7.3-10 -2.6-6 -1.1-8 0.9-12 -0.9-4.9 -4-8.8 -8.9-14.3 -2.7-6 -2.1-8 -0.3-6 0.7-12 -4.4-14 0-4 1.4-10 -1.5-10 -0.2-8 1.1-8 5.6-18 0.1-4 -0.8-4.1 -16-52.8 -2.4-5.1 -6.6-10 -11-23.1 -4-3.5 -36-14.6 -10-4.8 -6-2.3 -4-0.7 -4 0.9 -6 3 -2 0.3 -12.4-1.2 -33.6 9.2 -14 2.7 -10 0.9 -8 1.6 -20 0.5 -14 1.8 -46-0.1 -36-5.3 -30-0.9 -6-1.9 -8-5.6 0.2-270.9 33.8-33.8 2 0 12-12 2 0 8-8 2 0 6-6 2 0 4-4 2 0 4-4 2 0 4-4 2 0 4-4 2 0z" fill="#fafafa" fill-rule="evenodd"/>
<path d="M201.4 876.6l88.5 0 0.9 4 6.3 16 0.9 6 -0.3 10 2.2 8 2.5 4 12.8 14 2.2 4 3.1 12 2.6 5.4 17.7 22.6 17.3 30 15 29.9 15 26.1 17 33.9 15 26.1 7.1 16 18.5 38 1.4 2.4 2 1.8 4 1.3 10 0.9 52 10.8 8 1.1 14-2 26-0.7 12-1.8 8-0.1 4 0.4 8 2.2 8 0.3 10 1.5 12-0.4 30 1.5 10 1.9 28 2 12 2.6 18 1.6 8-0.5 10-1.9 20-7.7 10-2.5 6 0.4 9.6 4.9 4.4 1 0 230.4 -0.6 0.6 0 2 -4 4 0 2 -2 2 0 2 -2 2 0 2 -4 4 0 2 -2 2 0 2 -4 4 0 2 -4 4 0 2 -5.9 6 -0.1 2 -3.9 4 0 2 -8 8 0 2 -8.1 8 0 2 -20 20 0 2 -6 6 -1.4 1.4 -2 0 -20 20.1 -2 0 -4.4 4.5 -158.3 0 -0.8-4 -1.7-4 -2.8-4.4 -4-4.7 -4-3.4 -10-6.2 -6-4.5 -16.8-16.8 -6.1-8 -3.4-6 -1.8-8 0.8-14 -0.7-4.4 -4-9.2 -9.9-16.4 -2.5-6 -1.5-6 -0.4-6 1-10 -0.6-4 -3.9-12 0-4 1.3-10 -1.7-12 -0.1-6 1.3-8 5.6-18 -0.6-7.3 -16.6-54.7 -1.8-4 -8.7-14 -8.9-19.3 -2-2.7 -2.7-2 -37.3-15.1 -12-5.6 -8-2.1 -4 0.7 -6 3 -2 0.4 -10-1.3 -4 0.3 -22 5.9 -24 4.8 -10 1 -10 2 -18 0.5 -14 1.6 -44 0.1 -38-5.4 -28-0.8 -6.6-2 -7.4-6 -2-0.9 0.3-267.1 33.7-33.7 2 0 12-12 2 0 8-8 2 0 6-6 2 0 4-4 2 0 4-4 2 0 4-4 2 0 4-4 2 0z" fill="#f8f8f8" fill-rule="evenodd"/>
<path d="M201.6 876.6l86.7 0 0.9 4 6.4 16 0.8 6 0 12 2.7 7.7 2 2.9 12.4 13.4 3 6 2.4 10 2.2 4.8 3.5 5.2 14.5 18 17.3 30 16.2 32 14.9 26 17.1 34 14.9 26 7.6 17.1 17.9 36.9 2.1 2.8 1.8 1.2 4.2 1 8 0.6 52 10.8 10 1.5 14-1.9 26-0.9 12-1.7 6-0.2 6 0.5 8 2.1 8 0.4 12 1.9 10 0.1 28 2.4 12 2.5 26 3.6 14 4.1 22 4.1 6-0.2 8-1.3 22-6.8 8-1.4 4 0.7 10 4.2 6 1.1 0 218 -0.8 0.8 0 2 -4 4 0 2 -2 2 0 2 -2 2 0 2 -4 4 0 2 -2 2 0 2 -4 4 0 2 -4 4 0 2 -6 6 0 2 -4 4 0 2 -8 8 0 2 -8 8 0 2 -20 20 0 2 -7.2 7.2 -2 0 -20 20.1 -2 0 -4.6 4.7 -156.5 0 -0.8-4 -1.7-4 -2.4-4 -4.9-6 -4.8-4 -14.3-9.3 -18.7-18.7 -7-10 -2.2-6 -0.8-8 1-10 -1.3-6 -3.6-8 -9.7-16 -2.5-6 -1.5-6 -0.4-6 1-10 -0.6-4 -3.9-12 -0.1-4 1.3-10 -1.8-16 0.9-8 6-20 0.1-4 -1.3-6 -12.9-43.3 -3.8-10.7 -8.6-14 -10.3-22 -1.3-2 -4-3.3 -38-15.4 -12-5.6 -8-2.1 -4 0.8 -8 3.3 -10-1.3 -4 0.1 -36 8 -20 2.5 -10 2.2 -20 0.9 -12 1.4 -14-0.3 -20 0.7 -12-0.4 -10-2.3 -12-1.7 -14-1.1 -20-0.3 -8-0.9 -6-2.4 -6-5.6 -4-1.9 0-260.8 0.5-2.5 33.5-33.5 2 0 12-12 2 0 8-8 2 0 6-6 2 0 4-4 2 0 4-4 2 0 4-4 2 0 4-4 2 0z" fill="#f5f5f5" fill-rule="evenodd"/>
<path d="M201.7 876.6l85.2 0 0.8 4 6.4 16 0.8 6 0 12 2.8 8 2.9 4 9.7 10 2.8 4 1.8 4 2.6 10 2.7 6 17.3 22 17.4 30 16.2 32 14.9 26 17.1 34 14.9 26 7.1 16 18.3 38 3.7 4.8 4 1.5 12 1.1 50.8 10.6 9.2 1.4 16-1.8 24-1 12-1.7 8-0.2 12 2.6 8 0.4 14 2.8 34 4.1 38 8.8 18 7.2 12 4.2 6 1.4 10-0.6 34-6.3 4 0.5 12 4.1 6 1.1 0 204 -1 1 0 2 -4 4 0 2 -2 2 0 2 -2 2 0 2 -4 4 0 2 -2 2 0 2 -4 4 0 2 -4 4 0 2 -6 6 0 2 -4 4 0 2 -8 8 0 2 -8 8 0 2 -20 20 0 2 -7 7 -2 0 -20 20.1 -2 0 -4.7 4.9 -155 0 -0.7-4 -1.6-4 -3.9-6 -4.1-4.9 -4-3.5 -16-10.5 -17.1-17.1 -7-10 -2.3-6 -0.8-8 1-10 -1.3-6 -3.6-8 -9.7-16 -2.5-6 -1.6-6 -0.3-6 1-10 -0.7-4 -3.8-12 -0.1-4 1.3-10 -1.8-16 0.8-8 6.1-20 0-4 -1.3-6 -16.3-53.2 -8.9-14.8 -11.1-23.5 -2-2.5 -2.5-2 -37.5-15.4 -14-6.3 -8-2.1 -4 0.8 -8 3.2 -14-1.4 -24 4.7 -14 2.1 -16 1.5 -16 3.5 -16 0.7 -12 1.2 -14-0.4 -22 1 -10-0.7 -20-4.6 -30-0.1 -12-1.3 -5.8-2.4 -8.2-7.6 -4-1.7 0-256.1 0.6-0.6 0-2 33.4-33.4 2 0 12-12 2 0 8-8 2 0 6-6 2 0 4-4 2 0 4-4 2 0 4-4 2 0 4-4 2 0z" fill="#f3f3f3" fill-rule="evenodd"/>
<path d="M201.9 876.6l83.5 0 0.8 4 5.1 12 1.7 6 0.5 16 2.7 8 2.7 4 8.2 8.2 4.5 5.8 1.8 4 2.6 10 2.7 6 17.3 22 17.4 30 16.3 32 14.8 26 17.2 34 14.9 26 26.4 56 2.1 3 2 1.6 4 1.2 12 1 60 12.1 42-3 14-1.8 8 0.5 8 2.1 8 0.4 16 4.6 34 6 20.6 6.3 15.4 6.1 20 12.4 6 2.8 6 0.7 8-0.1 40-3.4 4 0.6 12 4.1 6 1.3 0 188.3 -1.2 1.2 0 2 -4.1 4 0 2 -2 2 0 2 -2 2 0 2 -4 4 0 2 -1.9 2 0 2 -4 4 0 2 -4 4 0 2 -6 6 0 2 -4 4 0 2 -8 8 0 2 -8 8 0 2 -20 20 0 2 -6.8 6.8 -2 0 -20 20.1 -2 0 -4.9 5.1 -153.3 0 -0.8-4 -2.7-6 -7.7-10 -4.6-3.9 -16-10.6 -15.5-15.5 -5.9-8 -3.6-8 -0.8-8 1-10 -1.2-6 -3.6-8 -9.7-16 -2.5-6 -1.6-6 -0.4-6 0.9-10 -0.5-4 -3.9-12 -0.1-4 1.3-10 -1.8-16 0.9-8 5.9-20 0.1-4 -1-4.9 -16.1-53.1 -10.5-18 -10.3-22 -1.4-2 -3.7-3.1 -50-21.2 -6-2.1 -4-0.7 -4 0.7 -8 3.2 -14-1.7 -24 3.4 -30 2.4 -12 3.6 -8 1.3 -24 1.3 -14-0.6 -16 1.4 -8 0.1 -8-1 -18-6 -22 1.9 -12-0.2 -6-0.8 -4-1.2 -4-2.2 -10-10.1 -4-2.1 0-249.6 0.7-0.7 0-2 33.3-33.3 2 0 12-12 2 0 8-8 2 0 6-6 2 0 4-4 2 0 4-4 2 0 4-3.9 2 0 4-4 2 0z" fill="#f1f1f1" fill-rule="evenodd"/>
<path d="M202 876.6l81.9 0 0.8 4 6.4 16.1 0.9 5.9 0 12 2.6 8 2.7 4 9.8 9.9 3 4.1 1.8 4 2.6 10 2.7 6 17.3 22 17.5 30 16.3 32 15.9 28 16.1 32 16 28 25.2 54 2.7 4 2.4 2 4.5 1.2 12 0.9 52 10.8 10 1.6 40-3.2 14-1.7 6 0.2 10 2.3 8 0.5 4.9 1.4 11.1 5 34 8 18 7.3 7.1 3.7 8.6 6 6.3 6 8 9.4 4 2.7 6 0.7 34-1.6 22 1.3 8 1.7 12 5.3 4 1.1 0 169.9 -1.5 1.5 0 2 -4 4 0 2 -2 2 0 2 -2 2 0 2 -4 4 0 2 -2 2 0 2 -4 4 0 2 -3.9 4 0 2 -6 6 0 2 -4 4 0 2 -8 8 0 2 -8 8 0 2 -20.1 20 0 2 -6.5 6.6 -2 0 -20 20.1 -2 0 -5.1 5.3 -151.7 0 -0.7-4 -2.7-6 -7.8-10.2 -4-3.8 -18-12 -14-14 -6-8 -3.5-8 -0.8-8 0.9-10 -1.2-6 -3.6-8 -9.7-16 -2.5-6 -1.6-6 -0.4-6 0.9-10 -0.6-4 -3.8-12 0-4 1.2-10 -1.8-16 0.8-8 6-20 -0.8-8 -13.6-46 -3.6-10 -9.6-16 -10.2-22 -2.5-3.5 -3.1-2.5 -52.1-22 -8.8-2.3 -4 0.7 -8 3.1 -16-2 -22 1.9 -30 0.8 -4 0.9 -8 3.4 -6 1.5 -26 1.6 -14-1.1 -16 2 -10 0 -8-2.1 -12-6.6 -4-1.1 -10 3.3 -6 1.3 -8 0.5 -10-0.3 -6.4-1.5 -5.6-3.3 -4.1-4.7 -9.9-14.4 -2-1.6 0-237.2 0.8-0.8 0-2 33.2-33.2 2 0 12-11.9 2 0 8-8 2 0 6-6 2 0 4-4 2 0 4-4 2 0 4-4 2 0 4-4 2 0z" fill="#ededed" fill-rule="evenodd"/>
<path d="M202.1 876.6l80.2 0 0.9 4 6.3 16 1 6 -0.1 12 2.7 8 2.5 4 9.5 9.4 3.5 4.6 2.5 6 1.9 8 2.7 6 17.4 22 17.5 30 16.4 32 14.9 26 17.1 34 15.1 26 21.9 46 4.2 10 2.9 4.9 2 1.9 4 1.4 14 1.1 62 12.6 8-0.1 46-4.9 6 0.2 10 2.4 8 0.6 5 1.9 7 4.7 4 1.9 32 9.3 15.9 8.1 5.3 4 5.8 6 4 6 6.3 12 4.5 4 4.2 2.5 4 1.3 6 0.6 16-1.7 16-0.3 10 0.9 12.5 2.7 7.5 2.3 6 2.8 12 7.2 4 1.5 0 148.5 -1.7 1.7 0 2 -4 4 0 2 -2 2 0 2 -2 2 0 2 -4 4 0 2 -2 2 0 2 -4 4 0 2 -4 4 0 2 -5.9 6 -0.1 2 -3.9 4 0 2 -8 8 0 2 -8.1 8 0 2 -20 20 0 2 -6.3 6.3 -2 0 -20 20.2 -2 0 -5.2 5.5 -150.1 0 -0.8-4 -2.7-6 -9.2-11.9 -4-3.5 -18-12 -12.5-12.6 -6-8 -3.6-8 -0.8-8 0.9-10 -1.9-8 -2.9-6 -9.7-16 -2.6-6 -1.6-6 -0.4-6 1-10 -0.6-4 -3.8-12 -0.1-4 1.3-10 -1.9-16 0.9-8 5.9-20 -0.1-4 -1.5-7 -16-52 -11.1-19 -9.2-20 -2.7-4 -3-2.5 -6-3.1 -34-13.7 -10.3-4.7 -5.7-2.1 -6-1.3 -4 0.6 -6 2.6 -4 0.5 -14-2.4 -36 0.2 -18-0.8 -4 1.3 -8 4.4 -8 1.9 -22 0.9 -14-1.6 -16 2.7 -6 0.3 -8-1.4 -6.8-3.8 -3.8-4 -5.4-9.8 -2-1.2 -2 1.5 -4.3 5.5 -4.2 4 -5.5 3 -6 1.4 -10 0.2 -6-1 -6-3.1 -4-4.5 -2.7-6 -1.2-6 0.4-6 1.2-4 2.3-4.7 6-8.7 10-9.7 0.7-0.9 -0.1-2 -4.8-6 -7.8-5.7 -6-1.2 -14-0.3 0-189.8 1-1 0-2 17-17 16-16 2 0 12-12 2 0 8-8 2 0 6-6 2 0 4-4 2 0 4-4 2 0 4-4 2 0 4-4 2 0zM169.1 1173l-1.9 1.6 0.7 2 3.2 4.7 2-0.5 1-4.2 -0.5-2 -2.5-1.5z" fill="#eaeaea" fill-rule="evenodd"/>
<path d="M202.3 876.6l78.4 0 0.8 4 6.4 16 1 6 -0.1 12 2.7 8 3.6 5.5 8 7.6 3.9 4.9 2.6 6 1.9 8 2.7 6 17.4 22 17.7 30 16.4 32 14.9 26 17.2 34 16.2 28 7.1 15.9 12.8 26.1 5.2 12.2 3.4 5.8 2.1 2 4.5 1.4 16 1.3 52 11 10 1.5 10-0.3 40-4.6 8 0.2 10 2.4 8 0.6 4 1.9 6 4.9 6 3.6 8 3.4 22 7.7 6 3.1 5.7 3.9 5.7 6 3.2 6 1.4 6 0.1 8 0.6 2 1.7 2 15.6 12.6 10 2.6 8 1.1 18-2.6 12 0 8 1.5 10 3.5 6 3.3 11.9 8 10.1 8.8 4 2.6 4 1.6 0 123.1 -1.9 1.9 0 2 -4 4 0 2 -2.1 2 0 2 -2 2 0 2 -3.9 4 0 2 -2 2 0 2 -4 4 0 2 -4 4 0 2 -6 6 0 2 -4 4 0 2 -8 8 0 2 -8 8 0 2 -20 20 0 2 -6.1 6.1 -2 0 -20 20.2 -2 0 -5.4 5.7 -148.5 0 -0.7-4 -2.7-6 -10.7-13.6 -4-3.3 -16.9-11.1 -12.1-12 -7-9.5 -2.7-6.5 -0.8-8 0.9-10 -1.9-8 -2.9-6 -9.8-16 -2.6-6 -1.6-6 -0.4-6 0.9-10 -0.6-4 -3.7-12 -0.1-4 1.3-10 -1.9-16 0.8-8 5.8-20 -0.8-8 -16.4-54 -12.6-22 -8.9-19.6 -4-4.7 -6.4-3.7 -47.6-19.7 -10-2.7 -4 0.5 -6 2.6 -4 0.5 -12-2.5 -12-1.1 -10 0 -16-1.2 -20-3 -2 0.2 -2 1.2 -6 5.8 -4 1.8 -6 1.4 -20 0.5 -14-2.7 -18 4.1 -8-0.5 -4-1.6 -3.9-3.6 -1.7-4 0.1-6 1.9-6 5.6-12.3 4-6.4 7.7-9.3 0.5-2 -0.9-2 -3.3-2.8 -4-1.9 -20-1.7 -14-4.5 -8-4.4 -14-11.7 -8-4.5 -6-1.2 -18 0.3 0-174.5 1.1-1.1 0-2 32.9-32.9 2 0 12-12 2 0 8-8 2 0 6-6 2 0 4-4 2 0 4-3.9 2 0 4-4 2 0 4-4 2 0zM227.1 1164.4l-1.2 2.2 1.2 1.6 2.4 0.4 3.5-2 0.3-2 -2.2-1.4zM139.8 1186.6l5.3 0 6 2.2 4 2.7 3.6 5.1 0.8 4 -1.1 6 -2.9 4 -3 2 -5.4 1.5 -10-0.3 -6-2.7 -3.9-4.5 -1.1-6 1.1-4 1.9-2.8 4-3.7 4-2.6z" fill="#e6e6e6" fill-rule="evenodd"/>
<path d="M202.4 876.6l76.5 0 0.9 4 5.3 12.4 1.6 5.6 0.5 16 2.5 8 3.9 6 8.6 8 3.2 4 2 4 2.5 10 2.7 6 18.5 23.5 16.9 28.5 16.5 32 14.9 26 17.2 34 15.3 26 18.3 38 8.6 20 4.3 6.3 4 1.8 16 1.2 64 13.1 10-0.1 42-4.8 6 0.3 10 2.4 8 0.8 4 2.4 6 5.4 8 4.8 28 12.1 6.4 4.3 3.6 4 2.9 6 0.3 4 -2.4 8 -7 14 1.5 2 10.7 0.1 4 1.3 3 2.6 1.1 2 1.9 6.2 1.7 1.8 4.3 1.5 10 1.3 16 3.7 4-0.4 10-3.1 4-0.6 10 0.2 6 1.8 6 3.1 5.8 4.5 6.2 6 8 10.1 7.7 5.9 3.6 4 3.2 6 5.3 14 2.2 2.1 2 0.7 0 55.2 -12-0.9 -10 0.9 -4 1.2 -8 5.2 -4 1.2 -6 0.2 -8-1.2 -4 1.1 -4.1 4.3 -1.2 4 -0.7 6.3 -2 5 -8.2 8.7 -1.3 2 0.3 2 3.2 3.1 5.7 2.9 8.3 3.2 4 2.8 2 2.3 2 3.7 1.1 6 -0.8 6 -2.3 4.7 -4 4.3 -6 3.7 -6 1.9 -6 0.3 -6-1.2 -12-4.9 -10-2.3 -12-6.4 -4 0 -2.6 1.9 -0.5 2 0.5 2 2.4 4 18 14 2.7 4 2.2 6 0.1 4 -1.5 8 -0.4 6 2.4 20 -5.3 6.1 -2 0 -5.5 5.9 -147 0 -0.7-4 -2.7-6 -10.9-14 -5.2-4.3 -16-10.5 -12-11.8 -6.8-9.4 -2.5-6 -0.9-8 0.9-10 -1.8-8 -2.9-6 -9.9-16 -2.6-6 -1.7-6 -0.4-6 0.9-10 -0.5-4 -3.8-12 1.2-14 -1.9-16 0.8-8 5.7-20 -0.1-4 -1.7-7.3 -16-52 -6.7-10.7 -6.5-12 -8.1-18 -4.7-5.4 -9-4.6 -43.2-18 -7.8-2.5 -6-0.7 -8 2.9 -4 0.4 -12-2.7 -10-1.4 -12-0.5 -16-1.9 -12-2.2 -4-1.3 -4-2.1 -6-4.7 -4-1.5 -0.1 2.2 1.6 6 -0.4 4 -3.1 4 -6 2.5 -6 1 -16-0.1 -6-1.4 -8-3 -2 0.3 -8 3.7 -6 1.4 -6 0.5 -3.8-0.9 -3.1-2 -1.4-2 -0.5-4 1.4-4 6.4-10 3.4-4 5.6-5.2 6-3.6 4-0.5 2 0.6 6.9 4.7 3.1 1 3.2-1 8.8-5.1 6-0.5 4 1.6 6 4.4 2 0 -2-8.5 -4-12 -4.9-7.9 -4-4 -5.8-4 -4.9-2 -4.4-0.9 -2 0 -1.8 0.9 -3.1 4 -3.1 2 -4 0.6 -4-1.4 -1.7-1.2 -4.3-5.7 -2-0.8 -12 2.1 -6 0.1 -6-0.8 -8-2.7 -6-3.5 -5.3-4.7 -6.9-8 -5.7-4 -7.4-4 -5.5-2 -5.2-0.9 -12 1.3 -8 0.1 0-159.3 1.2-1.2 0-2 32.8-32.8 2 0 12-11.9 2 0 8-8 2 0 6-6 2 0 4-4 2 0 4-4 2 0 4-4 2 0 4-4 2 0zM209.1 1125.8l-2 1.1 -0.5 3.7 0.5 4 2 1 3.4-1 0.9-2 -0.7-4 -1.6-2.2zM136 1196.6l3.1-1.4 4-0.4 6 1.7 3 2.1 1.4 2 0.7 2 -0.5 4 -2.6 3 -4 1.6 -8 0.1 -4-1.5 -3.4-3.2 -0.9-4 0.7-2 1.6-2z" fill="#e2e2e2" fill-rule="evenodd"/>
<path d="M202.6 876.6l74.4 0 0.7 4 5.4 12.3 1.7 5.7 0.6 16 2.4 8 5.3 7.9 7 6.1 3.4 4 2.8 6 2.7 10 3 6 17.1 20.9 18 29.9 17.3 33.2 13.9 24 17.1 34 16.6 28 18.2 38 7.6 18 3.3 5.7 2 1.9 4 1.4 18 1.6 62 12.8 10 0.1 42-4.7 8 0.6 8 2.2 8 1 2.4 1.4 7.6 6.9 8 5 28 13.1 4.1 3 3.4 4 1.7 4 -0.3 6 -4.6 10 -6.6 10 -0.3 2 0.6 2 2 1.9 4 1.3 10-0.3 3.3 1.1 1.7 2 1.6 8 2 2 6.1 2 11.3 1.5 18 4.6 4-0.4 14-4.2 6-0.2 6 1.4 6 3 6 4.7 5.1 5.6 8.9 13.1 6 4.4 2.2 2.5 2.7 6 3.1 12.4 2.9 5.6 1.7 2 3 2 6.4 1.2 0 31.3 -12-1.4 -8 1.4 -10 0.8 -4 1.8 -4 3.5 -4 1.4 -4-0.9 -4-2.2 -4-0.3 -6.4 3.4 -9.6 7.7 -9.2 6.3 -1 2 3.2 6 -0.3 4 -2.7 3.2 -8 4.3 -2.5 2.5 -1.7 4 -0.1 6 2.3 5.4 4 4.3 6 4.3 14.2 8 1.7 2 0.3 2 -0.7 2 -1.9 2 -3.6 1.6 -6-0.3 -9.2-3.3 -10.8-1.8 -10-5.7 -4-1 -6 0.1 -4 0.8 -6 2.5 -3.1 3.1 -0.9 4 0.5 4 3.5 8.3 4.3 5.7 14.7 12 2.6 4 0.7 4 -0.7 8 0.1 12 1.4 8 1.2 12 -0.3 2 -3.7 4 -145.3 0 -0.7-4 -2.6-6 -10.8-14 -4.9-4.4 -18-11.9 -10-9.8 -7.3-9.9 -2.6-6 -0.9-8 0.9-10 -1.8-8 -2.9-6 -10-16 -2.6-6 -1.8-6 -0.4-6 0.9-10 -0.5-4 -3.7-12 1.2-14 -2-16 0.8-8 5.3-18 0.2-4 -1-6 -16.3-54 -12.8-22 -9-20 -1.7-2.7 -3.3-3.3 -7.5-4 -43.3-18 -11.9-3.8 -4-0.3 -8 2.8 -4 0.4 -22-4.6 -12-0.8 -16-2.3 -10-2 -6-2.2 -10.9-9.2 -3-4 -8.6-24 -4.6-8 -5.9-6 -5-3.7 -12-5.1 -4-3.1 -2.7-4.1 -1.5-6 -1.8-4 -2-2.3 -2-1.2 -4-0.8 -4 0.1 -2 0.2 -3.7 2 -1 2 0 2 1.2 8 -1.3 4 -2.2 2 -3 1.4 -4 1 -6 0.2 -8-1.8 -8-4 -5.2-4.8 -6.8-8.8 -8-5.5 -8-4.2 -6-2 -6-0.9 -20 1.8 0-153 1.4-1.4 0-2 32.6-32.6 2 0 12-12 2 0 8-8 2 0 6-6 2 0 4-4 2 0 4-4 2 0 4-4 2 0 4-4 2 0zM211.7 1184.6l3.4-0.4 2 0.8 6 4.1 4 0.9 4-1.1 8-5 4-0.8 2 0.3 6 4.2 5.9 7 4.1 8 -0.3 4 -1.7 2.1 -6 2.5 -6 0.6 -10 0 -8-1.3 -4.6-1.9 -5.4-3.6 -2 0.1 -4.1 3.5 -3.9 2.2 -8 1.9 -4 0.1 -2-0.6 -2.2-1.6 -0.9-2 0-2 1.8-4 5.6-8 3.5-4 4.2-3.5zM137 1200.6l4.1-1.7 4 0.2 4 2.2 0.9 1.3 0.4 2 -0.8 2 -2.5 1.7 -4 0.6 -4-0.5 -3-1.8 -1.1-2 0.2-2z" fill="#dfdfdf" fill-rule="evenodd"/>
<path d="M202.7 876.6l71.5 0 1.4 6 5.5 12 1.1 4 0.8 16 0.9 4 2.4 6 4.8 6.8 10.1 9.2 2.3 4 2.7 10 3.7 8 17.2 20.7 18.2 29.3 16.8 32 15 26 17.1 34 15.9 26 18.3 38 8.4 20 2.3 4.3 3 3.7 5 1.9 18 1.5 62 12.9 12 0.3 40-4.4 6 0.3 10 2.6 6 0.5 2 0.7 8 7.2 6 4.1 6 3.4 22 10.3 4.1 2.7 4.3 4 2 4 0.2 2 -0.7 4 -3.5 8 -5.6 8 -2 4 0.1 4 3.1 3.6 6 2.3 10 0.3 2.1 1.8 2.1 8 3.8 2.8 6 1.7 10 1.4 20 5 4-0.3 10-3.2 6-1.2 6 0.4 7.9 3.4 8.1 6.9 4.1 5.1 6.2 10 8.9 8 2.8 6.3 2.8 11.7 4.5 8 4.7 3.4 4 1.2 4 0.4 0 23.6 -12-1.3 -10 1.8 -8 0.5 -4 1.1 -6 4.5 -2 0.7 -2-0.2 -6-2.6 -4-0.1 -4 1.6 -5.3 3.4 -8.7 7.1 -10 6.6 -2.4 2.3 -0.8 2 0.2 2 3 4 0.5 2 -1 2 -7.5 4.7 -4 4.6 -1.9 6.7 0.5 6 1.6 4 3.8 4.9 10 8 8 5.1 0.6 2 -2.6 0.7 -10-2.5 -10-1.2 -4-1.7 -6-3.8 -6-1.3 -6 0.3 -6 1.4 -6 2.7 -3.3 3.4 -1.2 4 0.2 6 1.2 4 3 6 4.4 6 13.7 11.4 2.8 4.6 -0.1 22 3.3 24 -1.9 2 -143.4 0 -1.4-6 -1.9-4 -2.6-4 -8.8-10.7 -6-5.3 -17.9-12 -9.8-10 -6.3-8.8 -2.2-5.2 -1.1-8 0.9-10 -1.8-8 -2.8-6 -11-17.6 -2.6-6.4 -1.4-5.9 0.6-16.1 -4-14 1.1-14 -2.1-16 0.9-8 5.1-18 0.2-4 -1.8-8.4 -15.6-51.6 -13.9-24 -8.5-19 -4-5 -7-4 -47-19.6 -8-2.5 -6-0.8 -8 2.7 -4 0.4 -22-5.2 -10-0.8 -16-2.4 -12-2.6 -4-1.5 -2.6-1.7 -10.4-10 -3-6.6 -6.8-19.4 -5-8 -6-6 -4.2-3.2 -4-2.4 -8-3.1 -4-2.9 -2-3 -2.2-7.4 -1.8-3.6 -2-2.5 -3-1.9 -5-0.9 -6 0.2 -2.9 0.7 -3.1 1.7 -1.8 2.3 -0.5 2 1.6 8 -1 4 -4.3 2.7 -8 0.7 -8-2 -6-3.1 -4.7-4.3 -5.3-7.4 -2.5-2.6 -9.5-6.2 -8-4 -6-1.9 -6-0.7 -20 1.6 0-149.3 1.5-1.5 0-2 16.5-16.5 16-16 2 0 12-12 2 0 8-8 2 0 6-6 2 0 4-4 2 0.1 4-4 2 0 4-4 2 0 4-4 2 0zM240.4 1186.6l2.7-0.4 2 0.5 2.9 1.9 4 4 5.3 8 0.8 4 -1.1 2 -3.8 2 -4.1 0.7 -16-0.4 -6-2 -2-1.4 -6-7.3 -2 0.2 -2 1.7 -2.7 4.5 -3.3 2.9 -8 2.1 -2 0 -2.5-1 -0.6-2 0.6-2 4.5-7 4.3-5 5.7-4.1 4-0.4 6 4.2 2 0.8 4 0.1 4-0.9z" fill="#dbdbdb" fill-rule="evenodd"/>
<path d="M202.8 876.6l64.9 0 0.5 4 1.3 4 5.6 10.4 2 5.4 1.2 14.2 1.6 6 1.7 4 5.6 8 9.5 8 2.4 2.8 2 3.9 2.7 9.3 4.3 8 19 22 18 28.5 16.8 31.5 14 24 18.2 36 16.1 26 17.4 36 8.2 20 5.3 8.3 4 2 18 1.5 64 13.4 12 0.6 40-4.1 6 0.3 8 2.3 9 1.7 7 6.1 8 5.6 27.3 14.3 4.7 3.6 2.1 2.4 1.3 4 -1.4 5.9 -2.9 6.1 -5.3 8 -1.5 4 0.1 4 0.9 2 2.7 2.9 6 2.9 10 1.4 2 2.7 1.2 4.1 2.8 3.5 4 1.9 6 1.6 10 1.5 20 5.1 4-0.2 11.6-3.4 4.4-0.7 6 0.6 6 2.8 4 2.9 4 4 10 15.3 8 7.5 2 4.2 3.3 13.4 4.7 8.7 4 3.7 4 2.1 8 1.3 0 13.5 -12-0.6 -10 2.1 -10 1.2 -4 1.2 -6 3.6 -2 0.1 -6-1.6 -6 0.7 -8 4.5 -9.2 7.5 -13.9 10 -2.1 4 1.2 8 -7.9 8 -2.1 4 -1.1 4 -0.3 6 0.6 4 1.5 4 5.1 8 -1.8 1.6 -10-4.1 -4-0.5 -8 0.4 -6 1.4 -4 1.7 -4 2.4 -3 3.1 -1.5 4 -0.2 6 1.2 6 2.7 6 4.8 7.1 12.7 10.9 2.9 4 0.5 4 0.1 20 3.1 24 -140.5 0 -1.4-6 -3.1-6 -11.4-14 -4.9-4.4 -19.5-13.6 -8.5-8.9 -6-8.4 -2.7-6.7 -0.8-6 0.7-12 -2.4-8 -3.1-6 -9.7-14.8 -4.3-11.2 -0.6-6 0.7-12 -3.7-14 1-14 -2.2-16 0.9-8 3.6-12 1.1-6 -0.1-6 -2-8 -15.2-50 -2-4 -6.7-10 -5.3-10 -8.9-20 -4.3-4.9 -6-3.4 -46-19.3 -10-3.3 -6-0.8 -8 2.6 -4 0.3 -22-5.7 -24.5-3.5 -15.6-4 -3.9-2.7 -9.3-9.3 -9.2-24 -4.7-8 -5.7-6 -5.1-4.3 -6-3.6 -6-2.3 -4-2.7 -2.1-3.1 -3.9-10.4 -2.8-3.6 -3.2-2.1 -4-1 -8-0.1 -4 0.8 -4 1.9 -2.5 2.5 -0.9 2 -0.1 4 0.9 6 -0.8 2 -4.3 2 -4.3 0 -6.9-2 -5.1-2.7 -4-3.7 -5.3-7.6 -2.7-2.8 -12-8 -6-3 -8-2.5 -6-0.8 -6-0.1 -14 1.2 0-144.4 1.6-1.6 0-2 16.4-16.4 16-16 2 0 12-12 2 0 8-7.9 2 0 6-6 2 0 4-4 2 0 4-4 2 0 4-4 2 0 4-4 2 0zM240.4 1190.6l2.7-0.5 2 0.7 4 3.5 4.1 6.3 0.4 2 -1 2 -5.5 1.6 -8-0.2 -7.2-1.4 -3.3-2 -1.3-2 0.4-2 5.4-2.9z" fill="#d7d7d7" fill-rule="evenodd"/>
<path d="M203 876.6l42.3 0 0.5 4 1.9 6 3.4 6 7.3 10 5.8 18 6 10 8.9 9.1 12.4 8.9 6.6 12 2.9 4 3.3 4 18.8 18 12 16 8 12.3 17.4 31.7 14.6 25 17.8 35 16.2 25.5 17.7 36.5 8.3 20.5 3.1 5.5 2.9 3.4 2 1.1 4 0.9 18 1.5 64 13.5 12 0.5 40-3.2 4 0.4 8 2.5 7.3 1.4 14.7 11 24.6 15 4.8 4 1.5 2 0.7 2 -0.3 4 -2.1 6 -4.2 8 -1.7 6 1.1 6 3.2 4 2.4 1.8 6 2.9 6 1.6 2 1.3 4 6.7 2 1.8 4 1.8 38 9.1 6-0.1 12-2.4 6 0.6 4 1.7 4 2.8 5.6 6.4 8.1 14 5 6 2.2 4 2.7 12 5.5 14 0.3 2 -0.7 2 -2.8 2 -9.9 2.9 -7.3 3.1 -10.7 1.4 -6 2.4 -10 6.5 -6.2 5.7 -11.8 9 -4.7 5 -1.8 4 -1.5 6.5 -7.2 11.5 -3.9 16 -2 2 -10.9 3.2 -10 5.5 -4 3.7 -2.7 5.6 -0.2 10 1.5 6 2.7 6 4.7 7.2 11.5 10.8 2.3 4 0.9 22 2.5 24 -132.8 0 -1.5-6 -3.4-6 -11.8-14 -5.7-5.4 -17.5-12.6 -8.5-8.5 -8-11.5 -2-4.9 -0.8-5.1 0.3-12 -2.2-8 -4.4-8 -8.9-12.8 -4-9 -1-4.2 -0.4-6 0.6-10 -3.2-14 0.8-14 -2.5-16 0.5-6 3.9-14 0.8-6 -0.3-6 -2.6-10 -14.6-48 -2-4 -6.8-10 -6.4-12 -7.8-18 -2.8-4 -2.2-1.8 -6-3.2 -30-12.3 -16-7.2 -8-2.5 -8-1.4 -8 2.4 -4 0.3 -22-6.6 -10-1.4 -19.5-4.3 -7-2 -3.5-1.8 -10.6-10.2 -3.4-6.8 -6.9-17.2 -5.3-8 -5.8-6 -6-5 -14-7.8 -2-2.9 -3.1-8.3 -2.5-4 -2.4-2.7 -4-2.3 -12-1.2 -8 1.3 -4 2 -3.4 2.9 -4.6 9.2 -2 0.6 -2-0.3 -3.5-1.5 -2.6-2 -7.4-10 -2.5-2.5 -10-7.8 -8-4.6 -8-3.3 -6-1.5 -12-1.8 -12-0.3 0-132.5 1.7-1.7 0-2 16.3-16.3 16-15.9 2 0 12-12 2 0 8-8 2 0 6-6 2 0 4-4 2 0 4-4 2 0 4-4 2 0 4-3.9 2 0z" fill="#d2d2d2" fill-rule="evenodd"/>
<path d="M197.1 880.6l2.5 0 8.3 14 12.9 18 5.1 10 4.9 8 9.8 14 4.5 5.1 4 2.9 4 1.9 18 6.7 19.9 13.4 10.1 6 18 12.4 12 10.6 6 6.8 8 12.3 28 47.8 18.5 36.1 15.8 24 18.6 38 8.9 22 3.7 6 1.9 2 4.6 1.8 16 1.1 8 1.5 58 12.7 14 1.2 40-1.3 5.7 1 12.3 3.8 22.7 16.2 6.4 6 5.1 6 2 4 0.1 2 -2.2 8 -0.2 8 0.9 6 1.6 4 4.6 6 13 9.1 5.5 6.9 2.3 2 4.2 1.9 12 3.6 26 6.8 8 1.5 16 1.6 4 1.9 4 4.3 3.5 6.4 8 18 1.5 8 -0.1 4 -0.8 2 -4.1 3.6 -14 7.3 -16 10.8 -20.3 20.3 -4.7 6 -4.8 10 -9.8 16 -8.4 6.8 -6 6.8 -5.5 8.4 -2.2 6 -0.8 6 0.3 8 3.2 12 5.3 10 9.7 12 1.5 4 0.7 6 1.5 36 -114.1 0 -3-6 -11.3-12 -12.6-12 -17.2-14 -9.5-10 -8-12.7 -2.7-5.3 -1-4 -1.7-14 -2.5-8 -12.1-15.2 -4-6.9 -2.3-5.9 -1.3-8 0.3-10 -2-14 0.2-14 -2.7-12 -0.3-4 0.5-6 3.6-14 0.5-6 -0.5-6 -9.5-34 -7.8-24 -2-4 -7.9-12 -6.3-12 -6.7-16 -3.8-5.2 -6-3.7 -52-21.7 -8-2.3 -4-0.3 -8 2.2 -4 0.2 -22-7.9 -22-6 -12-4.5 -4.2-2.8 -8.1-8 -3.7-5.8 -7.2-14.2 -5.4-8 -11.4-11.5 -15.4-10.5 -7.5-14 -5.1-5.6 -4-1.7 -18-2.9 -8-0.3 -8 0.6 -4-0.6 -4-2.9 -8.1-8.6 -5.9-4.2 -24-13 -20-8.9 -8-2.4 0-105.6 1.9-1.9 0-2 32.1-32.1 2 0 12-12 2 0 8-8 2 0 6-6 2 0 4-3.9 2 0 4-4 2 0 4-4 2 0z" fill="#cecece" fill-rule="evenodd"/>
<path d="M129.6 942.6l11.5-0.9 12 1 12 2.9 10 4 12 7.3 13.6 11.7 14.4 9.9 15.8 16.1 16.2 5.1 16 8.5 4-0.2 8.9-5.4 7.1-3 6-1.6 6-0.4 8 1.8 16 6.4 14 6.5 4 4.2 14 20.2 20.3 33.9 18.7 36 17 25.1 18.1 36.9 8.7 22 5.3 8 1.9 1.3 4 1.2 20 1.8 64 14.1 24 2.3 12 0.1 16 1.5 18 5.9 10 6.1 5.6 5.7 2.1 4 2.1 8 0.2 4 -1.8 10 1.4 4 7.7 10 18.5 20 6.2 11.3 2 2.2 4 1.4 10 1.7 16 6.9 20 4.8 7.9 3.7 7.7 6 3.5 6 1.6 8 -0.5 4 -3.1 6 -3.4 4 -4.9 4 -12.8 5.8 -2 1.6 -1.8 2.6 -3.6 10 -2.4 4 -3.9 4 -8.3 6.4 -10.1 15.6 -8 8 -9.9 7.1 -2 2.5 -1 2.4 -0.9 6 -0.6 14 1.3 22 3.2 16.2 9.3 19.8 2.5 8 0.9 26 -1.1 10 -72.6 0 -9-13.1 -2.9-2.9 -3.1-1.3 -16-4.2 -8-3.4 -18-12.6 -7.1-6.5 -10.1-14 -5.9-12 -7.6-12 -2.1-6 -1.2-12 -1.8-4 -8.2-5.1 -5.7-4.9 -5.5-8 -2.8-6 -1.5-8 -0.2-32 -1.1-6 -3.1-10 -0.5-4 0.5-6 3.3-14 -0.6-12 -9.5-34 -7-22 -2.9-6 -6.9-10 -5.3-10 -8.7-20 -2.3-4 -4.2-3.6 -4-2 -30-12.2 -20-9 -12-3.2 -4 0.3 -8 2 -4-0.7 -12.7-5.6 -7.3-4.1 -20.5-9.9 -9.5-5.5 -5.3-4.5 -8.7-9 -10.2-13 -8.8-10 -23-21.2 -3.4-4.8 -4.6-10.1 -2.8-3.9 -3.2-2.2 -10-3 -6.1-2.8 -5.2-4 -6.8-10 -7.9-8.3 -2-1.1 -12-3.7 -5.1-2.9 -5-4 -5.5-6 -4.3-6 -2.9-6 -2.7-8 -2.4-4 -9.2-10 -5.8-8 -5.8-12 -4.3-12 -1.5-8 -0.5-8 0.5-8 1.5-8 2.6-8 2.1-4 2.3-2.3z" fill="#c9c9c9" fill-rule="evenodd"/>
<path d="M169 1002.6l2.1-0.7 2 0.5 7.5 4.2 12.5 4.1 2.6 1.9 5.4 6.8 9.8 9.2 6.2 4 10 1.7 10-2.5 6-0.1 2 1 4 4.8 2 1.3 10 2.1 10 0.8 18 4 2 0.1 2-0.8 1.1-2.4 -0.5-4 -3.2-10 -0.7-4 1.8-6 2.6-4 2.4-2 4.5-1.4 14 1.2 12 2.4 4 1.4 2.8 2.4 5.2 6.4 12 16.1 10 15.4 10 17.2 17.4 32.9 17 24 19.6 39.5 7.9 20.5 3.5 6 2.6 3 2 1.2 4 1 16 1.1 9.3 1.7 56.7 13.1 26 4.3 12 0.7 14 2.2 16 5.3 6 2.7 6 3.8 2 2.2 1.7 3.7 0.1 6 -4.9 14 -0.1 4 1.2 3.1 4.4 4.9 17.6 13.5 8.2 8.5 3.4 6 2.4 10 -2.2 12 0.2 2 2 0.1 12-5.3 4-0.9 4 0.2 4 1.4 12 6.9 20 4.7 4 2.4 2 2 2.2 4.5 0.6 6 -0.4 4 -2.1 4 -4.3 2.4 -8.5 1.6 -5.5 4.1 -4 4.7 -1.7 3.2 -0.7 4 0.3 8 -1.9 3.7 -8 5 -3.7 3.3 -8.4 12 -3.9 2.6 -6 2.5 -4 5.6 -7.6 5.3 -3.2 6 -0.4 6 1.2 8 5.9 26 1 12 2 14 6.4 18 3 14 0.1 20 -1 4 -1.4 2 -4 2.4 -6-0.2 -16-7.2 -9.3-7 -4.7-2.5 -4-0.9 -8 0.8 -2-0.4 -2-1.5 -2.3-5.5 -1.7-2.6 -2-1.6 -4-1.6 -4-0.1 -8 2.6 -10 2.1 -6 0 -4-0.8 -4-1.8 -14-8.3 -6-5.1 -3.3-4.8 -6.3-12 -4.4-12.9 -2-2.5 -7.5-6.6 -2.3-4 -1-6 0.5-8 -1.3-4 -1.6-2 -2.8-2 -8-2.6 -4.9-3.4 -5.9-8 -2.9-6 -1.6-6 -0.5-8 1.5-20 -1.4-8 -3.7-10 -1.2-6 0.5-6 2.7-12 -0.4-10 -1.1-6 -9-32 -7.1-22 -2.9-6 -7-10 -6.4-12 -9.6-22 -3.1-3.1 -4-2.3 -30.8-12.6 -19.2-9 -14-3.9 -4 0.2 -8 1.8 -4.4-1.1 -11.3-6 -8.3-6 -18-11.1 -10-7.5 -14-12.6 -41.8-42.8 -2.7-4 -3.5-9.8 -2.7-4.2 -3.3-2.7 -12-4.4 -3.6-2.9 -2.1-4 -1.2-8 -3.2-10 -0.1-4 1-8 -0.8-3.3 -1.8-2.7 -2.5-2 -5.7-2.2 -4 0.4 -4 3 -2 0.7 -2-0.1 -2.9-1.8 -1.1-2 0.2-4 5.8-8 0-4 -2-4 -9.2-10 -2.8-4 -1.7-6 0.3-2zM329.1 1116l-4.6 2.6 -2.8 4 -0.1 2 0.8 2 3.6 4 5.3 4 9.8 5.4 2.9 2.6 6.1 8 5 3.3 4 1.4 4 0.5 4-0.9 3-2.3 1.3-2 0.4-4 -0.7-2.9 -3.4-7.1 -1.8-10 -0.8-1.8 -2 0 -6 3.6 -4 1.6 -4 0.6 -6-0.3 -4-1.6 -2.1-2.1 -3.9-9.3 -2-1.3z" fill="#c5c5c5" fill-rule="evenodd"/>
<path d="M185.4 1018.6l1.7-1.2 3.1 1.2 5.7 6 13.2 11 6 3.1 12 2 12-2.3 2 0.8 4 3.9 4 1.7 12 1.8 10 0.8 20 4.2 4-0.6 2-1.3 2-2.8 0.7-2.3 -0.1-4 -3.5-12 -0.6-4 1.2-4 2.3-2.7 4-1.2 10 0.1 12 2 4 1.2 6 5.9 10.5 12.7 11.5 16.5 12 19.5 17.5 32 18.5 25 19.4 39 8.5 22 3.9 6 2.1 2 4.1 1.7 23.9 2.3 36.1 7.9 38 9.6 12 2.5 10 0.8 14 2.5 13.9 4.7 9.3 4 5.2 4 1.5 4 -0.5 4 -5 14 -0.2 4 1.4 4 2.9 4 3.5 3.3 15 10.7 4.5 4 5.5 6 3.2 6 1.5 8 -1.1 6 -4.2 12 0 2 1.6 3.1 2 0.4 2-0.7 14-8.5 4-1.6 4-0.5 4 1.1 12 7.1 8 2.5 10 1.9 3 1.2 2.5 2 1.3 2 0.9 4 -0.5 4 -1 2 -2.2 1.4 -6 1.1 -4 1.6 -6.6 5.9 -3.2 4 -2.1 4 -1 4 -0.1 8 -1 2.4 -10 7.9 -3.1 3.7 -4.9 7.7 -2 1.9 -2 1 -6 1.2 -2 1.3 -3.7 6.9 -5.5 4 -1.8 2 -3.8 8 -0.3 4 1.6 10 6.4 28 0.6 10 2.1 16 6 18 2.4 12.8 0 16 -0.7 3.2 -1.3 2.2 -4 1 -4-1.1 -12-5.8 -8-6 -6-3.2 -4-1.3 -8-0.3 -2-1.1 -4.9-6.4 -5.1-3.2 -4-1 -4 0 -18 4.9 -8-0.2 -4-1.5 -14-7.9 -5.9-5.1 -8.6-16 -3.1-10 -1.8-4 -8.6-7.1 -2.2-2.9 -1.4-6 0.7-8 -2.2-6 -2.9-3.2 -2-1.3 -8-2.5 -4.9-3 -5.1-6.5 -3.8-7.5 -1.6-6 -0.5-6 2-16 -0.1-4 -2-9.5 -4.1-10.5 -0.7-4 0.1-4 2.7-14 -1.6-14 -9.4-34 -7.2-22 -3-6 -7.1-10 -6.4-12 -9.3-22 -2-2.5 -4-2.8 -31.1-12.7 -22.9-10.6 -12-3.2 -4 0.1 -8 1.4 -4-1.4 -10.4-6.3 -7.6-6.2 -17.8-11.8 -10-8 -15.4-14 -38.7-40 -2.6-4 -4.3-12 -3.2-4.1 -4-3.2 -11.8-4.7 -1.8-2 -0.8-2 -1.2-8 -2.4-8 -0.1-4 1-8 -1.2-6 -2.6-4 -3.1-3 -10-4.9 -1.8-2.1 -1.8-10zM327.1 1111.8l-6 3.8 -4.1 5 -0.6 2 0.7 4 4 5.7 8 5.9 10 5.5 3 2.9 5 6.6 6 4 6 1.9 6 0.1 4-1.6 3.6-3 1.9-4 0.2-4 -1-4 -3.6-8 -1.1-10.8 -2-3.6 -2-0.6 -2 0.5 -6 4.2 -4 1.9 -4 0.7 -4-0.3 -4.1-2 -1.4-2 -2.5-7.2 -2-2.9 -4-1.5z" fill="#c0c0c0" fill-rule="evenodd"/>
<path d="M308 1024.6l3.1-0.5 6 0.4 6 1.1 4 1.7 4 3.4 10 10.8 14 17.9 12 18.2 18.5 31 13.5 16 6 8.9 18 36.1 8.8 23 5.6 8 1.6 1.2 4 1.3 20 1.5 37 8 51 14.7 12 1.6 14 3.4 19.5 8.3 2.6 2 1.3 2 0.4 2 -4.5 16 -0.1 4 2.1 6 2.8 4 3.9 4 16.2 12 4.5 4 5 6 1.7 4 0.9 4 0 4 -4 12 -1 6 0.5 4 2.2 3.8 4 2 4-0.6 15.5-9.2 4.5-1.3 2 0 4 1.7 10 6.1 13.8 5.5 1 2 -8.8 8.4 -7.5 9.6 -2.3 6 -1.6 10 -1.2 2 -7.9 8 -7.5 10.7 -2 1.3 -6 1 -2 0.9 -2 2 -2.5 6.1 -7.4 8 -3.7 8 -0.7 4 0.2 4 7.2 36 2.2 28 4.7 16.3 2 13.2 0 6.9 -2 4.9 -2 0.6 -6-1.6 -16-9.5 -6-2.1 -8-1.7 -8-6.3 -6-2.6 -8-0.6 -17 4.5 -7 0.4 -4-1.3 -13.2-7.1 -4.8-3.7 -8.3-14.3 -5.9-16 -1.8-2 -7.8-6 -1.4-2 -1-4 0.5-6 -0.4-4 -2.8-6 -5.1-4.8 -9.5-3.2 -3.2-2 -5.3-6.6 -3.6-7.4 -1.2-4 -0.8-6 2-16 -0.3-4 -2.3-10 -4-10 -0.9-4 0.1-4 2.3-14 -2.5-16 -9.5-34 -6.8-20 -3-6 -7.2-10 -7.5-14 -8.8-21.4 -2.3-2.6 -3.4-2 -34.3-14 -18-9 -14-4.2 -12 0.9 -3.4-1.7 -8.8-6 -7.8-7 -20.1-15 -21.1-20 -35.9-40 -2.3-4 -4.1-12 -4.3-6 -4.2-4.2 -8-4.6 -2-1.9 -2-6.1 -1.4-9.2 1.4-9.9 2-2.3 4-1 8-0.7 10 2.9 24 1.6 20 3.2 4 0.1 4-0.7 5-3.2 3.7-6 1.1-6 -2.1-14 0.5-2zM325.1 1107.8l-4 2 -4 3.2 -3.6 3.6 -2.2 4 -0.4 2 0.7 4 2 4 3.1 4 8.4 6.1 12 6.3 8 9.4 6 3.6 6 1.9 6 0.4 6-1.6 4-2.9 3.3-5.2 0.4-6 -0.8-4 -3.5-8 -1.1-12 -0.5-2 -1.8-2.9 -2-1.2 -4 0.1 -9.6 6 -6.4 0.7 -2.3-0.7 -1.7-1.7 -3.1-8.3 -2.9-4 -2-1.1 -4-0.8z" fill="#bbbbbb" fill-rule="evenodd"/>
<path d="M322 1044.6l1.1-0.5 2 0.5 6 3.9 16 15.8 14 16 22.7 30.3 13.3 13.7 4 5 6 10.2 6.9 15.1 9.1 17.1 8.7 22.9 5.3 7.1 2 1.3 4 1 22 1.7 39.2 8.9 17.1 6 27.7 11.3 12 3.3 12 4.5 12 6.4 2.7 2.5 0.8 2 -0.7 16 0.9 4 2.7 6 2.7 4 4.9 5.5 18 14.7 3.7 3.8 2.4 4 0.8 6 -2.9 12 -0.3 6 1.4 8 2.9 5 2 2.1 4 2.5 6 1.4 6-0.7 14-6.1 4 0.3 2.7 1.5 2.1 2 0.9 2 -0.1 2 -4 10 -2.5 12 -1.1 2.7 -10 14.3 -2 1.8 -8 4.4 -2.5 2.8 -4.5 10 -5.3 8 -3.7 10 -0.4 8 3.8 24 1.5 14 -0.2 28 2.1 16 -0.8 3 -1.4 1 -2.6 0.2 -16-3.7 -12-5.9 -8-2.1 -10 0.1 -16 3.9 -6-0.2 -13.4-6.3 -4.5-4 -7.5-12 -5.7-14 -2.9-3.6 -7.6-6.4 -0.9-2 -1.2-10 -1.4-4 -2.5-4 -6.4-6 -10-3.9 -2-1.3 -4.1-4.8 -3.9-6.9 -1.8-5.1 -0.6-4 1.2-18 -2.9-12 -4.1-10 -0.9-4 0-4 1.6-10 0-6 -1.8-10 -4.1-16 -7-24 -6.4-18 -3-6 -7.3-10 -7.5-14 -9.4-23.1 -4-3.1 -25.2-9.8 -17.2-8 -11.6-6.3 -14-4.8 -10-0.4 -4-2.3 -7.4-6.2 -6.6-7.2 -15.9-14.8 -7.4-8 -6.7-8.3 -10.8-11.7 -25.9-34 -3.1-6 -3.6-12 -5-10 -0.7-2 0.1-2 3-1.8 8-1.3 6-0.3 22 0.9 6-0.8 6-1.7 6-3.5 4-3.7 4.1-5.8 5.9-11.5zM325.1 1098.5l-6 1.4 -6 3.2 -8 6.3 -4.3 5.2 -1.6 4 -0.2 6 1.1 4 4.7 8 3.3 4 2.6 2 10.4 5.5 10 3.9 9.2 8.6 6.8 3.3 8 2 6 0.2 6-1 4-1.9 4-3.5 2-2.8 1.8-6.3 -0.9-8 -3.8-10 -0.5-12 -1.3-4 -3.3-3.5 -4-1.3 -4 0.8 -8 4.7 -4 0.1 -2-1.9 -4-9.9 -4-4.2 -6-2.3z" fill="#b5b5b5" fill-rule="evenodd"/>
<path d="M378.1 1116.6l1-1.8 2 0 4 1.9 10 8 6 7 6 10.4 6.4 14.5 7.9 14 9.1 24 3.9 6 2.7 2.6 4 1.6 24.6 1.8 41.4 10.1 4.7 1.9 10.5 6 24.8 18.4 22 11.1 2.9 2.5 1.2 2 3.2 14 2.5 6 3.4 6 8.8 10.8 16 15.3 1.7 3.9 -0.3 12 1.1 10 1.5 6 2.6 6 4.1 6 5.3 5.1 6 3.9 11.8 5 1.6 2 0.2 2 -2.8 6 -6.8 7.3 -4.5 6.7 -8 20 -2.9 10 -1.4 10 1.5 28 -0.6 16 -3.3 20 -0.8 2.3 -2 2.5 -4 0.6 -12-2 -8-0.2 -10 0.8 -12 2.5 -4 0.2 -4-0.7 -6-2.7 -6-5.6 -4.4-5.7 -8.9-16 -7.6-8 -5-12 -3.8-6 -8.3-8.2 -12-6.3 -4-4.5 -3.7-7 -1.5-6 -1.2-18 -3-10 -5.3-14 -0.2-4 1-10 -0.7-8 -5.7-24 -6.5-22 -8.2-22 -2.2-4 -7.4-10 -7.5-14 -9.3-24 -1.9-2 -2.7-1.4 -14-4.8 -18.2-7.8 -11.9-6 -7.9-5.3 -22.8-10.7 -4.9-4 -4.7-6 -2.4-6 0.8-2.2 4-0.9 14-0.7 10-2.2 4-1.7 3.3-2.3 4.5-6 1.7-4 0.6-6 -1-8 -2.9-8 -0.8-4 0.3-6z" fill="#afafaf" fill-rule="evenodd"/>
<path d="M381.8 1124.6l1.3-1.3 2-0.5 6 2.2 6 4.7 4 5.1 4 6.9 7.6 16.9 8.4 14.4 9 23.6 5 6.8 4 2.6 20.5 0.6 10.9 2 36.6 10.1 3.5 1.9 4.7 6 5.1 12 4.3 6 20.4 16.6 10 7.2 2 2.2 7.7 16 4.9 8 19 24 1.6 4 4.4 18 3.6 10 5.2 10 10.3 14 1.1 4 -2.3 16 -3.4 16 -1.6 18 -0.3 18 -1.2 8 -5.6 22 -2.1 4 -2.5 2 -6.8 1.7 -24 3.2 -4-0.5 -4-2 -6-5.5 -15.5-18.9 -7.8-12 -6.7-8 -10-9 -11-7 -3.3-4 -2.7-6 -5.6-20 -8.8-22 -0.7-14 -1.1-8 -5.9-24 -7.3-24 -8.9-22 -8.7-12 -8.5-16 -8.6-24 -2.9-2.1 -14-4.2 -14.1-5.7 -18.7-10 -11.1-10 -4.8-6 -2.3-4 -0.4-2 0.7-2 2.1-2 14.6-8.9 2.6-3.1 1.8-4 1.2-6 -0.1-6 -4.5-22 0.7-4z" fill="#a9a9a9" fill-rule="evenodd"/>
<path d="M385.9 1130.6l1.2-1.1 2-0.2 4 1.3 7.2 8 2.7 6 2.1 2.9 4.9 11.1 9.1 15 10.4 25 3.6 5.1 4 3.8 2 0.6 8-0.7 10 0.1 9.1 1.1 20.9 6.3 18.2 7.7 0.9 2 -1.1 1.7 -11.5 6.3 -1.4 2 0.5 2 1.8 2 13.2 10 6.3 6 6.8 8 8.4 12 11.6 12 11.1 18 16.5 24 12 28 11.4 22 1.7 6 1 8 0.6 20 1.3 14 -0.6 14 -2.7 7.6 -6 10.3 -4 4.8 -4 2.7 -4 1.4 -6 0 -8-2.6 -6-3.6 -6.8-6.6 -9.6-12 -13.3-12 -16.3-12.8 -4.3-5.2 -9.7-16.6 -10.7-21.4 -1.7-6 -4.7-24 -5.8-22 -6.5-20 -9.3-22 -9.3-12.9 -8.9-17.1 -3.7-10 -3.4-14.5 -2-1.4 -6-0.8 -12-3.2 -10.3-4.1 -7.7-4 -9.5-6 -2.9-2 -3.4-4 -2-6 0.4-6 3.4-5.5 9.1-8.5 1.8-4 0.9-4 -0.9-10 -5-20 0-4z" fill="#a2a2a2" fill-rule="evenodd"/>
<path d="M396.8 1150.6l0.3-0.6 2 1.5 3.2 5.1 12.8 16.1 4.7 7.9 8.9 20 6.4 9.6 2 1.9 6-2.6 4-0.7 8-0.3 8 0.6 17.1 5.5 8.7 4 2.4 2 1 2 -0.8 2 -6.4 3.9 -2 2.1 -0.8 4 0.8 3 4 4.9 11.8 10.1 7.1 10 3.7 8 3.8 12 30.1 46 14.6 24 16.1 32 5.3 12 7.2 28 0.9 8 -0.6 4 -1.9 4 -4.1 5 -4 3 -6 2.6 -4 0.6 -4-0.5 -4-1.9 -4-3.6 -6-7.4 -34-26.8 -12-12.8 -4.6-6.2 -8.4-14 -3.4-8 -12.4-46 -8.3-24 -8.9-20 -10.1-14 -9.9-20 -2.8-10 -1.2-15.9 -10 1.4 -8-1.3 -8-2.4 -8.2-3.8 -6.8-4 -7.5-6 -3.1-4 -1.3-4 0.6-4 1-2 10.4-10 2.8-4 0.7-2 2.1-10 -1.4-10z" fill="#9c9c9c" fill-rule="evenodd"/>
<path d="M403.2 1170.6l1.9-0.8 2 0.4 4 3 6 7.6 4 7.5 4.4 10.3 6.2 12 -0.2 4 -1.2 2 -3.2 2.4 -4 1.1 -6-0.1 -6-1.3 -6.2-2.1 -7.4-4 -5.7-4 -4.2-4 -2.6-4 -0.8-4 1.2-4 11.6-12zM446.1 1210.6l9-1 10 1.2 14.6 5.8 3.2 2 1.7 2 0.2 2 -4.6 8 -0.4 4 1.1 4 6.2 7.4 9.6 8.6 5.6 8 3.8 8 3 10.5 2 4.8 8.5 12.7 7.5 13 13.7 21 13.4 22 21.1 42 8.6 30 0.5 4 -0.3 4 -1.6 4 -3.4 4.3 -4 3 -4 1.7 -4 0.7 -4-0.6 -4-2.4 -8-9 -22.3-17.7 -13.7-12 -12-13.2 -9.4-14.8 -4.6-10.6 -13.3-43.4 -8.8-24 -9.3-20 -9-12 -6.5-12 -3.8-8 -2.7-8 -1-10 1.9-10 1.9-4 2.6-3.4z" fill="#969696" fill-rule="evenodd"/>
<path d="M404.5 1178.6l2.6-1.2 4 1.5 4 4.2 4 6.4 8.1 17.1 1.3 4 -1 4 -2.4 2.2 -4 1.5 -4 0.2 -10-2 -4.3-1.9 -6-4 -4.5-4 -3.1-4 -1.3-4 1.2-4.6 2.7-3.4zM445.6 1212.6l7.5-1.7 10 0.6 6 2.1 6.1 3 2.8 2 1.7 2 0.4 4 -2 8 1.2 6 5.8 7.8 10 9.6 4.6 6.6 3.9 8 5.5 16.4 18 30.9 24.3 38.7 13.7 25.8 7.8 16.2 7.9 26 1 6 -0.4 4 -1.8 4 -2.5 2.9 -4 2.8 -4 1.3 -4 0.1 -2.9-1.1 -3.1-2.3 -6.9-7.7 -21.4-18 -15-14 -10.5-12 -8.8-14 -5.4-12.1 -13.7-39.9 -9.5-24 -9.6-20 -11.4-16 -7.1-14 -3-8 -1.2-8 1.5-10 3.8-8 2.2-2.4z" fill="#909090" fill-rule="evenodd"/>
<path d="M406.7 1184.6l2.4-0.1 2 0.7 4 3.7 4 5.9 3.8 7.8 1.7 4 0.6 4 -0.5 2 -1.6 2 -2 1.2 -4 1.1 -4 0 -8-2.1 -6.1-4.2 -3.7-4 -2.6-4 -0.7-4 1.7-4 7.4-7zM450.5 1212.6l6.6-0.7 6 0.9 8.4 3.8 4.3 4 1.1 4 0 10 2 6 6.2 8.2 8 8 5.4 7.8 3.5 8 3.5 12 1.8 4 17.1 32 28.7 46.1 16.3 31.9 5.7 15.8 4 14.2 0 4 -1.3 4 -2.7 3.5 -2 1.5 -6 1.9 -4-1 -2.8-1.9 -7.2-7.7 -22.1-20.3 -13.9-14 -8.5-10 -9.5-15 -6-13.1 -14.8-37.9 -9.4-22 -10-20 -11.5-16 -7.1-14 -3-8 -0.9-8 0.7-4.7 2-6.5 4.2-6.8 3.8-2.8z" fill="#8b8b8b" fill-rule="evenodd"/>
<path d="M406.1 1190.6l3-0.2 4 2 4 4.4 3.4 5.8 1.5 4 0.1 4 -1.1 2 -2.6 2 -5.3 1.2 -6-1 -4.1-2.2 -2.2-2 -2.8-4 -1.8-6 0.9-3.1 4-4.4zM449.1 1214.6l6-1.6 6 0.3 7.4 3.3 4.1 4 1.6 4 1.3 10 2 6 5.6 8.5 9 9.5 4.1 6 3.5 8 4.9 16 7.4 14 9.1 20 29.9 48 16.1 31.3 6 15.6 3.1 11.1 -0.5 6 -2.6 3.9 -2 1.3 -2 0.9 -4-0.1 -3.7-2 -2.1-2 -27.4-28 -14.7-16 -6.2-8 -9.9-16 -32.3-70 -10.5-20 -8-10 -2.4-4 -6.2-12 -3.3-8 -1.1-4 -0.3-4 0.5-4 1.6-5.3 4-7.6 2.8-3.1z" fill="#858585" fill-rule="evenodd"/>
<path d="M404.3 1196.6l2.8-1.1 4 0.5 2 1.1 3.6 3.5 3.2 6 -0.4 4 -1.4 2 -3 1.7 -6 0.2 -4-1.4 -3-2.5 -2-4 -0.2-4 1.2-3.2zM452.9 1214.6l4.2-0.7 4 0.4 4 1.7 3.3 2.6 3.4 6 2.8 12 2.5 6 4 6.7 10 11.1 4 6.2 3.1 8 4 14 7.8 16 8.8 22 10.7 18 17.9 28 9.7 17.9 8 16.3 6 14.9 1.8 6.9 -0.2 4 -0.8 2 -2.8 2.5 -4 0.2 -4-2.6 -25.7-28.1 -19.9-24 -10.4-16.5 -20-36.4 -14.3-29.1 -10.7-20 -9.2-12 -3.6-6 -7.7-16 -1.8-6 -0.2-4 1.5-6.1 4-8 4-4.8z" fill="#808080" fill-rule="evenodd"/>
<path d="M404.5 1200.6l2.6-1.4 2-0.3 4 1.1 2 1.6 2.3 3 1 4 -0.6 2 -1.8 2 -2.9 1.3 -4 0 -4-1.7 -3.1-3.6 -0.4-2 1.1-4zM450.9 1216.6l4.2-1.5 4-0.2 4 1.1 3.4 2.6 3.2 6 3.5 12 3.9 8.9 4 6.4 8.1 8.7 4 6 3.2 8 3.6 14 8.2 18 7.2 22 9.4 18 20.3 31.8 14 26.8 6 13.2 2 6.2 0.2 4 -1.5 2 -2.7-0.5 -6-5.5 -18-21 -18-22.6 -23.2-36.4 -12.8-18.3 -24.4-45.7 -11.8-16 -8-16 -2.1-6 -0.7-4 1.1-6 2.9-6 4.2-6z" fill="#7a7a7a" fill-rule="evenodd"/>
<path d="M405 1202.6l2.1-1.4 2-0.4 4 0.9 2.9 2.9 0.9 2 0.2 2 -0.6 2 -2.4 2 -3 0.8 -4-0.7 -2-1.2 -2.1-2.9 -0.3-2 0.6-2zM453.3 1216.6l5.8-0.9 3.1 0.9 2.8 2 2.3 4 5.4 16 4.4 9.6 4 6 8 8.4 3.6 6 3.2 10 2.2 10 5.6 12 3.8 10 5.6 22.8 5 15.2 7 16.4 0 2.6 -30-31.2 -8-9.7 -25.7-46.1 -10.8-14 -8.4-16 -3.4-10 0.5-6 2.9-6 4-6 3.8-4z" fill="#747474" fill-rule="evenodd"/>
<path d="M407.2 1202.6l1.9-0.7 2 0.1 3.7 2.6 1.2 2 0.3 2 -1.2 2.4 -2 1.3 -2 0.5 -4-0.7 -2.1-1.5 -1.2-2 -0.2-2 1.5-2.7zM456.4 1216.6l4.7 0.4 2.6 1.6 1.5 2 5.9 17 5.9 13 2.7 4 7.9 8 4.6 8 4.9 19.8 6.6 14.2 4.7 16 1.4 14 -0.7 3.1 -2 2.1 -4-0.4 -6-3.7 -6-6.1 -3.9-5 -26.4-46 -9.7-12 -10.1-20 -1.8-8 1.9-6.5 8.2-11.5 3.8-3z" fill="#6f6f6f" fill-rule="evenodd"/>
<path d="M405.7 1204.6l3.4-1.7 2 0.1 2 1 2 2.6 0.4 2 -1 2 -3.4 1.6 -4-0.7 -2.6-2.9 -0.1-2zM452.9 1218.6l2.2-1 4-0.4 3.4 1.4 1.7 2 4.9 14.7 6.6 15.3 3.4 5 8 8.1 3.1 4.9 2.6 8 3 14 5.7 12 4.6 14 1.6 8 0.3 6 -0.9 4 -2 1.8 -4-0.2 -4-2.4 -8.7-9.2 -27-46 -10.3-12.8 -8.8-17.2 -2.5-8 0.9-6 8.1-12z" fill="#6a6a6a" fill-rule="evenodd"/>
<path d="M406.9 1204.6l2.2-1 2 0.1 2 1.3 1.2 1.6 0.4 2 -1.2 2 -2.4 1 -2 0 -2.4-1 -1.5-2 0-2zM454.6 1218.6l4.5-0.7 2 0.7 2.1 2 3.9 12.2 8 18.9 3.4 4.9 8.2 8 3.3 6 2.3 8 2.3 12 7.3 16 4.4 16 0.3 8 -0.5 2 -2.1 2 -2.9-0.1 -4-2.2 -9-9.7 -26.1-44 -10.9-13.6 -8.3-16.4 -2.5-8 0.8-5.4 2-3.6 6.7-9z" fill="#646464" fill-rule="evenodd"/>
<path d="M408.5 1204.6l2.6-0.1 2.5 2.1 0.4 2 -1.7 2 -3.2 0.4 -2-0.9 -1.2-1.5 0.1-2zM452.8 1220.6l4.3-2 2 0.1 3.1 1.9 4.9 14.7 8 18.4 2 2.9 8 7.4 3.1 4.6 3.1 10 2.1 12 6.8 14 3.7 12 1.7 8 0.1 4 -0.6 2.7 -2 2 -2-0.1 -4-2.1 -8-8.5 -26.5-44 -11.2-14 -8.3-16.5 -2.3-7.5 0.4-4 2-4z" fill="#5f5f5f" fill-rule="evenodd"/>
<path d="M406.8 1206.6l2.3-1.5 2 0.2 1.6 1.3 0.5 2 -2.1 1.8 -2 0 -2.4-1.8zM454.1 1220.6l3-1.2 2 0.2 2 1 1.3 2 4.3 14 7.9 18 2.5 3.3 7.4 6.7 3.7 6 2.3 8 2 12 5.9 12 4.6 14 1.8 10 -0.2 2 -1.5 3 -2 0.3 -4-2 -4-3.7 -4-5 -25.8-42.6 -11.3-14 -8.9-17.7 -1.7-6.3 0.5-4 3.2-5.4 6-7.8z" fill="#5a5a5a" fill-rule="evenodd"/>
<path d="M408.1 1206.6l1-0.6 2 0.1 1.1 2.5 -1.1 0.9 -2 0.1 -1.5-1zM455.9 1220.6l3.2-0.2 2 1.6 4 12.6 8 19.2 3.5 4.8 6.9 6 3.9 6 2.7 10 1.5 10 6 12 4.6 14 1.6 10 -0.7 2.7 -2 1.3 -2-0.6 -4-3 -6-7.1 -26-42.6 -10.5-12.7 -9-18 -1.6-6 1.1-5.3 8-10.8 2-2.2z" fill="#555555" fill-rule="evenodd"/>
<path d="M408.9 1208.6l0.2-0.7 1.5 0.7zM454.1 1222.6l3-1.4 2 0.4 1.2 1 4.8 14 7.5 18 2.8 4 7.7 6.6 3.5 5.4 2.8 10 1.7 11.3 6 11.7 4.2 13 1.4 8 -0.1 2 -1.5 2.3 -2-0.2 -4-2.9 -6-7.2 -25.7-42 -10.3-12.2 -8.1-15.8 -2.1-6 -0.2-4 0.5-2 2.5-4z" fill="#4e4e4e" fill-rule="evenodd"/>
<path d="M456 1222.6l1.1-0.3 2 0.6 1.1 1.7 4.1 12 8.5 20 2.3 2.8 8 6.9 2.7 4.3 2.8 10 1.9 12 5.3 10 4.1 12 1.6 8 -0.4 4 -2 0.6 -2-1 -6-6.2 -27-43.4 -11-13.3 -8-15.9 -1.9-6.8 0.8-4 9.1-12z" fill="#474747" fill-rule="evenodd"/>
<path d="M454.6 1224.6l2.5-1 2 1 12.8 32 3.2 3.9 7.2 6.1 2.7 4 2.8 10 1.8 12 5.5 10.3 4 11.8 1.1 7.9 -1.1 2.5 -2-0.4 -2-1.5 -6-7.5 -24.2-39.1 -10.2-12 -9.2-18 -1.5-6 0.8-4z" fill="#404040" fill-rule="evenodd"/>
<path d="M454 1226.6l1.1-1 2-0.4 2 1.9 11.9 29.5 3.1 4 7.2 6 2.8 4 2.9 10 1.7 12 6.2 12 2.6 8 1.3 8 -1.4 2 -2.3-1.1 -2-2 -4-5.4 -23.4-37.5 -10.6-12.6 -8-15.4 -2.2-6 0-4 2-4z" fill="#393939" fill-rule="evenodd"/>
<path d="M453.4 1228.6l1.7-1.3 2-0.1 1.1 1.4 11.8 28 2.9 4 7.2 6 3.1 4 3 10 1.5 12 5.4 10.3 2 5.2 2 8.2 0 2.3 -2 0.7 -4-4.2 -24.5-38.5 -11.5-13.9 -6-11.6 -3.4-8.5 0.1-4 2.2-4z" fill="#323232" fill-rule="evenodd"/>
<path d="M453 1230.6l2.1-1.4 2 0.3 2 3.1 11.1 26 2.9 3.4 7.6 6.6 2.4 4 2.2 8 1.3 12 1.4 4 5.3 10 1.2 6 -1.1 2 -2.3-1.9 -2-2.9 -22.8-35.2 -9.2-10.4 -8-15 -2.5-6.6 0.2-4 2.3-4z" fill="#2a2a2a" fill-rule="evenodd"/>
<path d="M452.6 1232.6l2.5-1.4 2 0.8 6 12 5.9 14.6 3.3 4 6.8 5.6 2 2.6 2 4.9 1.5 6.9 1.3 14 3.2 5.3 0.9 2.7 -0.9 1.3 -4.6-7.3 -9.4-11.8 -9.1-14.2 -8.9-10 -6-11.4 -2.9-6.6 -0.7-4 1.3-4z" fill="#242424" fill-rule="evenodd"/>
<path d="M452.4 1234.6l2.7-1.2 2 1.1 6 12.1 4.6 12 3.4 4.4 8 6.9 1.7 2.7 2.6 10 -0.3 8.3 -2 0.6 -4-4 -9.8-14.9 -10.2-12.1 -6-11.6 -2.3-6.3 0.3-4z" fill="#1e1e1e" fill-rule="evenodd"/>
<path d="M452.5 1236.6l2.6-0.8 2 1.6 4 7.8 6.2 15.4 3.4 4 6.4 5.1 2.2 2.9 2.3 8 0.3 4 -0.8 2.7 -2-0.4 -2-1.9 -9.6-14.4 -6.4-6.9 -4-5.8 -5.6-11.3 -1.3-4 0.6-4z" fill="#181818" fill-rule="evenodd"/>
<path d="M452.3 1240.6l0.8-1.4 2-0.4 2 2.2 4 8.7 4 13.6 -2-0.8 -2-2 -4-6.3 -4-7.9 -1-3.7zM469.3 1268.6l1.8-0.4 4 2.2 2 2 1.8 4.2 0.2 4.7 -2-0.1 -2-2.1z" fill="#121212" fill-rule="evenodd"/>
</g>
<g clip-path="url(#fovCc)"><path d="M168.6 999.5l1.4 0.6 4.7 5.2 3 2.3 16.2 5 1.8 1.6 2.3 5.5 10.1 8.1 4.1 4.8 2 1.3 6.9 2 7.2 1 2.5-0.4 5.6-2.6 6.5-1.4 1.6 0.4 0.9 1.3 0.7 4.1 1.3 3 23.5 2.7 22.8 5.4 1.4-0.4 1.1-1 0.7-1.7 0.3-4.3 -1.8-6.2 -4.3-10.5 0-1.6 1.6-4.2 3.5-6 3-0.9 4.2 0.2 24.2 2.3 3.7 1.6 18.1 22.3 6.5 9 14.1 24.3 17.5 33.9 6.1 9.1 10.9 13.7 18 35.4 4 10.4 4.3 14.9 1.6 3 4.5 5.1 0.6 2.8 0.8 0.6 4.4 1 15.1 0.8 7.3 1.1 14.7 3.5 46.5 9.4 19.9 5 32.4 4.1 6.2 1.8 17.1 6.6 3 1.7 4.2 3.8 1.8 4.3 -0.3 2.3 -7.6 17 -0.1 3 1 2.7 2 2.6 5 4.8 15 10.1 7.3 6.1 5 7.4 2 5.6 1.1 6.3 0 2.9 -1.6 5.3 -6.5 12.9 0 1.6 1.1 2.3 0.9 0.2 1.2-0.8 4.9-5.3 4.8-3.1 10.5-5.6 5-1.4 4 1.4 14.2 8.7 18.8 3.6 5.5 2.5 1.5 2.1 1.4 5.3 0 5.5 -1.4 5.5 -1.5 1.8 -2.5 0.5 -6.7-0.8 -3 0.3 -2.3 1.5 -9.4 10.4 -2.4 4.3 0.1 2.9 1.9 6.7 0 2.5 -1.3 1.6 -6.8 2.5 -6.4 4.4 -3 3.6 -2.8 6.2 -4.2 5.1 -1.8 0.9 -2.6-0.1 -5.8-1.9 -1.8 0 -0.1 1.4 2.1 4.7 0.1 2 -1.4 1.2 -6.7 2.8 -3.6 3.7 -2.5 4.4 -0.6 4.6 0.6 5.6 8.1 32.3 3.2 26.9 2.2 7 4.7 10.6 1.5 7.5 1.1 22.1 -0.5 6.5 -1.9 4 -4.2 0.5 -5.9-2 -6.2-3 -8.7-4.7 -7.6-6.6 -7.5-3.7 -2.6-0.3 -3.2 0.7 -8.9 3.3 -0.3-0.7 2-3.4 0.3-1.9 -2.3-4.3 -1.8-2.2 -4.2-2.7 -2.6-0.7 -5.3-0.3 -2.5 0.7 -4.8 2.4 -6.1 1.8 -7.4 1.3 -3.5-0.1 -6.1-2.4 -17.3-9.5 -2.9-2.3 -1.7-2.3 -2.4-7.8 -6-10.1 -1.1-9.5 -1-2.6 -2.1-1.9 -5.7-2.5 -2.3-1.7 -2.8-4.8 -1.2-5.3 0.2-2.6 1.7-5.1 0.1-2.4 -0.9-2.3 -1.4-2.3 -3.8-3.5 -2.3-0.8 -5.3-0.5 -2.5-0.7 -2.2-1.6 -5.9-6.5 -5-8.9 -1.8-6.7 -0.4-7.3 0.7-6.6 2.4-9 -0.4-6.9 -1.6-7.3 -5.2-10.4 -0.9-3.7 0.7-3.9 3.5-8.2 0.9-4.1 -1-7.8 -13.8-48.9 -6.5-20.2 -1.5-2.6 -4.4-4.7 -3-5.2 -6.6-12.7 -8.6-19.5 -3.3-3.1 -9.3-4.8 -35.1-14.3 -6.2-3.2 -3.5-0.7 -5.8-0.2 -19.9 0.2 -2.8-0.7 -3.3-3.4 -10.1-6 -10.2-8.1 -16.2-10.1 -24.2-20.3 -43.1-42.4 -1.5-2.1 -0.8-2.4 -1.2-7.7 -4-6.5 -2.1-1.6 -2.7-1.1 -9.4-1.9 -3.8-2.1 -1.4-1.3 -0.9-1.7 -0.3-2.2 0.3-7.9 -3.4-7.3 -0.7-2.8 2.1-11 0-3.2 -1.3-2.6 -4.4-4 -5-2.6 -2.7-0.9 -4.8 0 -1.4 1.3 -1.7 4.5 -1 1.3 -3.3-0.7 -2.8-2.4 -0.9-2.8 0.9-3.2 6.6-4.5 1.5-1.6 0.3-1.9 -1.3-4.1 -3.7-6.2 -3.4-4 -6.5-5.8 -1.6-2.3 -1.5-7.1 -0.1-3.3zM317.4 1120.9l1.7-2.2 5.8-4.5 4.9-2.3 4.1-0.3 1.7 1.2 1.2 2.8 1.5 8.4 1.4 2.9 2.1 1.4 2.6 0.3 8-1.5 7.5-4.2 4.8-4.4 1.3-0.7 2.4 0.5 1.6 2.6 0 12.1 6.1 12.2 0 5.5 -0.7 2.5 -1.3 2.1 -2 1.6 -2.6 1.2 -5.5 1.2 -5.2-0.4 -7.3-2.8 -5.7-4.9 -0.7-1.4 -0.2-3 -1.2-1.6 -14.1-8.1 -8.3-6.1 -1.9-2 -2.2-4.1 -0.3-2zM389 1132l1.9-0.2 3.7 2.1 8.6 9.8 3.9 15.6 3.5 5.2 7.2 7.5 2.1 3.3 4.7 11.3 2.5 12.1 1.1 3 2.3 3.4 3.3 1.9 0.6 1.1 -0.3 3.5 -1.7 4.3 -3.6 4.3 -5.7 4.4 -4.3 0.5 -3.7-0.8 -23.6-9.9 -3.8-2 -3.1-2.4 -2.3-3.3 -1.6-3.5 -1-4.5 0.3-2.7 0.9-2.4 3-3.2 8.5-5.8 4-4.2 1.5-3.2 1.4-9.1 -0.5-5.7 -9.9-22.9 -0.5-5.1zM444.1 1208.1l2.9-0.8 3.7 0.1 9.8 0.9 16.8 2.7 19.5 3.9 6.4 2.1 2.4 1.8 0.6 2.1 -0.6 0.8 -13.8 1.8 -10.2 3.2 -2.5 1.9 -1.4 2.6 -0.5 2.5 0.6 2.4 3.3 4.9 14.4 13.5 5.6 7.3 5.2 10.7 3.2 11.6 9.3 13.4 34.6 55.1 8.1 15 10.4 21.5 4.6 11 4.1 18.2 3.6 9.4 0.4 2.8 -0.3 2.7 -2.1 5.2 -1.6 2.2 -4.7 3.7 -5.4 2.4 -2.7 0.4 -5.2-0.5 -2.3-1 -1.6-1.7 -2.6-5 -1.8-2.4 -24.2-16.9 -12.5-10.3 -7.9-7.2 -9.5-10.6 -7.1-10.6 -5.1-10.6 -8.3-22.8 -2.2-8.1 -2.7-15.8 -4.4-14.5 -5.8-15.6 -6-13.3 -6.7-7.5 -3.5-4.8 -8-15.4 -4.8-10.9 -1-5.7 0.8-8.3 5.7-15.3 1.2-2.5zM453.9 1217.8l1.9-0.9 4.3-0.5 1.6 0.4 1 0.9 1.4 5 1.5 8.8 6.8 15.6 3 8.7 10 7.5 2.6 3.3 1 2 2 7.7 1 13.7 1 2.4 4.6 6.5 3.2 7.6 2.9 8.6 2.7 14.8 0.3 3.4 -0.3 1.8 -0.7 0.6 -3.3-0.8 -3.1-2.1 -5.6-4.9 -4.2-4.7 -26.8-42.9 -7.7-8.3 -3.8-5.1 -11.1-22.1 -1.3-4.6 1.1-4 3.6-5.5 4.5-5.1 4.3-6.3zM403.7 1207.1l2.3-2.1 4.8-0.6 2.2 0.7 1.8 1.3 0.8 2.2 -0.7 1.4 -1.7 0.9 -4.8 0.7 -2.3-0.6 -0.9-0.8zM234.4 987.3l2.8-3.3 4.4-1.5 2.9 0.4 1.2 0.7 1.6 2.5 0.3 1.2 -1 2.7 -2.1 2.4 -4.6 1.4 -2.7-0.3 -2.1-1.3 -1.1-1.7zM276.5 1005.5l3.2-2.1 2.5-0.3 3.2 1.4 0.4 1.8 -0.8 1.7 -3.8 0.9 -2.4-0.7zM313.4 1028.8l2.3-2.1 1.9-0.9 3.9-0.3 6 2.3 1.1 0.9 0.8 2.2 -0.2 0.9 -2.3 1.6 -5.2 0.8 -5.3-1.3 -2.3-1.9zM144.3 1019.7l3.7-4.4 1.4-0.7 2.9 0.7 2.2 2.4 0.3 1.8 -0.5 4.6 -1.1 2.6 -2.8 0.5 -3.2-1.6 -2.4-3.2zM117 1023.7l1.1-1.2 3.5-1.6 1.5-0.2 2.3 1 1.3 2 0 1.4 -2 4.7 -3.6 2.6 -2 0.6 -1.6-0.3 -1.1-4.8zM293.1 1149.2l1.3-2.5 2.8-1.1 1.4 0.3 3.2 1.9 4 5.5 1.5 4 -0.3 1.9 -1.7 0.5 -1.5-0.3 -5.6-3.1 -3.2-3.5zM210.5 1145.6l0.9-1.8 1.8-1.1 2 0.8 1.4 1.7 -0.8 2.1 -1.6 1.5 -2.2-1.2zM132.2 1203.8l0.8-1.4 4-2.8 4.7-1.1 7.7 1.3 2.8 2.3 0.8 2.7 -0.6 1.4 -3.1 2.8 -1.9 0.9 -5.1 0.7 -5.1-0.7 -1.9-1.1 -2.8-3.4zM190.9 1207.9l2.7-4.8 9.4-10.8 8.8-7.8 1.7-0.8 1.7-0.1 1.7 1.1 5.4 6 3.6 1.5 2.1 0.1 2.4-0.6 2.9-1.9 7-5.6 3.2-1 3 1.3 3 2.7 7.5 9.4 3.9 5.9 0.8 2.3 -0.1 1.8 -0.8 1.3 -4.1 2 -13.5 2 -9.3-0.4 -8.6-2.1 -3-1.5 -1.5-2.2 -0.6-6.9 -2-1.2 -2 1.2 -1 6.9 -1 2.2 -4.6 2.7 -8.2 2.3 -5.4 0.4 -2.1-0.4 -2.6-1.8 -0.5-1.5zM509.7 1234.2l3.5-3.1 4.6-2 7.1-0.5 3.8 0.4 3.3 0.7 5.6 3.1 2.2 2.1 1.3 2.3 0.3 2.6 -0.5 3 -2.8 5.6 -2.9 2 -7.6 3.2 -1.7 1.8 1.2 2.2 6.5 4.6 2.4 2.3 1.6 4.7 -0.5 4.4 -1.2 2.4 -3.8 4.7 -2.1 1 -2.5-0.2 -5.6-3 -2-1.8 -2-3.7 -0.1-4.4 4.8-8.6 0.3-2.5 -1.8-1.8 -9.3-4.3 -4.6-4.4 -1.7-2.4 -0.8-2.3 0.3-2.2 1.3-2.1zM515.8 1239.2l5.1-3.5 2-0.5 1.9 0.2 5.2 2.8 1.4 2.6 0 1.4 -0.4 1.1 -3 1.8 -4.1 0.8 -1.9-0.1 -5.2-1.9 -1.4-2.2zM560.3 1280.7l0.8-1.9 3.4-3.2 1.9-0.9 4.2-0.3 3.9 1.3 1.5 1.1 2.3 3.2 0.3 1.7 -1.7 3.8 -3.4 3.3 -4.6 2.1 -2.5 0.4 -2-0.5 -1.6-1.7 -2.3-5.8zM595.8 1483.1l2.4-2.7 3.6-1.8 1.7 0.1 3.5 1.4 0.9 0.9 0.2 1.2 -2.2 3.9 -4.6 2.1 -1.5-0.1 -1.4-0.7 -2.4-2.9zM657.5 1218l4.1 3.8 6.8 3.7 5.3 1.6 2.7 0 5.3-1.2 3.9-1.9 2.7-2.7 1-3.6 -0.9-1 -2.5-0.7 -13.3-0.4 -15.5 0.7 -0.6 0.4zM657.5 1215l0.9-1.1 3.3-1.9 3.8-0.4 8.4 2.9 4.1 2.4 0.8 1.1 -0.7 1.2 -4 2.3 -2.4 0.5 -6.4-0.4 -5.8-1.6 -1.4-1.1 -0.7-1.3zM275 865.8l11.3 31.3 0.7 3.2 0.1 3.1 -1.1 5.9 0 3.2 1.6 6.9 1.4 3.6 2.1 3.6 3.1 3.5 8 7 3.1 3.7 1.5 3.9 1.3 8.3 1.2 4 2.1 3.7 18.2 22.6 16.2 28.3 14.1 28.3 16.2 28.4 12.1 24 22.3 40.7 10.2 22.3 12.4 25.2 5.8 13.2 0.7 4 2.1 1.2 1.9 0.3 14.2 0.6 7.3 1 57.7 12.1 7.2 1 54.6-7 3.5 0.6 6.7 3.4 6.2-1.3 1.9 0.3 1.5 1.4 4.5 6.7 5.6 4.2 9.9 5.5 23.7 10.3 3.3 2.3 4.5 4.6 1.2 2.6 0.4 2.9 -0.6 3.3 -1.5 3.8 -4 7 -6.7 7.9 -1.4 2.3 -0.1 4.5 2.2 3.6 4.4 1.6 5.7 0.4 10-2.4 2.1 0.4 0.2 2.2 -2.4 7.1 0.2 2.8 2 1.6 10.2 2.4 14.1 2.1 12.4 3.5 3.8 0.5 3.3-0.5 8.9-3.5 8.9-2.3 3.2 0.2 7.2 3.2 7 4.9 5.7 6.1 4.4 6.1 4.1 8.1 6.2 2.7 1.9 1.3 2.2 4.4 1.8 5.7 2.2 10.9 1.8 3.3 3.7 2.8 13 6.2M781.8 1390.4l-19.5 0.6 -5.6 1 -1.8 1.9 -2.6 5 -1.7 1.2 -2.3-0.7 -7.8-5.4 -3.9 0 -4.2 2.1 -12.1 10.1 -10.2 6.1 -5.7 4.6 -0.3 1.4 1.7 1.1 6.5 1.9 1.9 1.1 0.1 1.4 -0.9 1.6 -3.3 3 -7.8 2.6 -2.3 1.5 -1.6 2.5 -2.1 6.5 -0.3 3.1 1.2 5.5 2.8 4.6 3.7 3.3 14.5 8.9 10.2 4 0.5 1.1 -0.4 1.1 -2.2 1.9 -3.5 1.5 -4.6 0.5 -10.1-4 -14.2-2.1 -1.9-1.3 -2.5-3.4 -1.6-1.3 -7.2-2.1 -6.4 0.6 -7.6 2.2 -5.4 2.5 -3 2.9 -0.8 2 0.1 5.6 1.9 6.5 3.5 6.3 4.6 5.8 12.2 8.1 3.9 3.7 1.3 2 0.9 2.4 0 3.5 -2.1 10.7M555 1605.4l-9.5-19 -4.2-23.7 -2.8-9.2 -2-3.5 -12.6-16.3 -19.5-12.1 -7.1-6 -10.1-11.6 -4.4-8.5 -1.4-6.4 0.3-3.4 1.6-7.1 0.1-3.6 -0.8-3.5 -5.3-10.7 -8-12.2 -3.4-7.7 -1.7-10.4 1.1-10.5 -0.1-3.7 -1.3-4 -3.8-8.5 -1-3.7 0.5-2.8 2.9-4.4 0.7-2.9 -0.7-3.9 -2.9-9.4 -0.5-4.9 0.9-5.1 7-21.2 0.2-6.1 -0.9-4.5 -17.3-56.2 -1.3-2.4 -3.6-3.9 -1.4-2.4 -8.1-15.5 -7-16.2 -3-3.9 -3.6-2.6 -6.1-3.1 -57-22.8 -2.3 0 -4.1 1.2 -2.9 1.8 -1.8 2.4 -2.1 0.6 -5-2 -14.9-3.1 -25.6-3 -11-1.7 -9.2-2.3 -2.5-1.4 -3.6-4.7 -8.1-6.1 -0.9-1.8 -1.1-6.2 -4.1-10.2 -2-8.1 -4.1-7.5 -7.7-8 -6.4-4.7 -3.3-1.4 -6.4-1.6 -4.1-2.3 -2.4-4.8 -2.1-10.1 -2.4-3.2 -3.6-1.9 -6-0.6 -6.2 0.6 -2.5 0.9 -4.4 2.7 -1.2 1.5 0.1 1.3 2.1 3 1.5 3.9 1 5 -0.6 1.9 -1.7 1.3 -2.6 0.9 -8.7 1.1 -6.2-0.5 -3.1-0.7 -6.4-3 -5.7-4.1 -1.9-2.4 -2.6-5.4 -1.6-2.3 -2.2-1.8 -13.5-7.7 -6.6-2.7 -8.2-0.5 -29.3 1.7 -15.3 2.7 -22.8 6M819.6 1253.4l-17.2 4.6 -4 2.5 -0.1 3 4.5 7.4 0.3 3.9 -3.1 4.1 -10.2 8.6 -3.3 3.7 -1.1 3.1 0.1 2.8 1.2 2.2 2.2 1.4 4-0.1 11.1-2.5 3.9 0.2 1.8 2.2 0.5 3.6 -0.1 6.1" fill="none" stroke="#000" stroke-width="2.3" stroke-linejoin="round"/></g>
<circle cx="187.9" cy="939.8" r="1.7" fill="none" stroke="#000" stroke-width="2.2"/>
<circle cx="257.7" cy="965.7" r="1.7" fill="none" stroke="#000" stroke-width="2.2"/>
<circle cx="339.7" cy="1155.3" r="1.7" fill="none" stroke="#000" stroke-width="2.2"/>
<g fill="none" stroke-width="4.57" stroke-dasharray="16.9 7.3">
<path d="M116.4 984.2L769.9 1452.8" stroke="#00f"/>
<path d="M139.3 892.9L574.5 1543.9" stroke="#008000"/>
<path d="M214.6 892.9L635.2 1543.9" stroke="#f00"/>
</g>
<ellipse cx="161.1" cy="1505.2" rx="7.15" ry="5.55" fill="#f00"/>
<path d="M434.2 1200.4L443 1209.2L451.8 1200.4L460.6 1209.2L451.8 1218L460.6 1226.8L451.8 1235.6L443 1226.8L434.2 1235.6L425.4 1226.8L434.2 1218L425.4 1209.2Z" fill="#00f" stroke="#fff" stroke-width="2.75" stroke-linejoin="miter"/>
<path d="M421.3 1209.4L430.1 1218.2L438.9 1209.4L447.7 1218.2L438.9 1227L447.7 1235.8L438.9 1244.6L430.1 1235.8L421.3 1244.6L412.5 1235.8L421.3 1227L412.5 1218.2Z" fill="#f00" stroke="#fff" stroke-width="2.75" stroke-linejoin="miter"/>
<path d="M357.5 1214.2L366.3 1223L375.1 1214.2L383.9 1223L375.1 1231.8L383.9 1240.6L375.1 1249.4L366.3 1240.6L357.5 1249.4L348.7 1240.6L357.5 1231.8L348.7 1223Z" fill="#008000" stroke="#fff" stroke-width="2.75" stroke-linejoin="miter"/>
<line x1="669.7" y1="996.3" x2="669.7" y2="1108.7" stroke="#000" stroke-width="4.8" />
</g>
<text x="441.8" y="947.7" font-size="45" font-weight="bold" >(c) CO</text>
<text x="502" y="1187.3" font-size="43.5" text-anchor="middle" fill="#00f" >A</text>
<text x="437.6" y="1295.8" font-size="43.5" text-anchor="middle" fill="#f00" >B</text>
<text x="372.3" y="1296" font-size="43.5" text-anchor="middle" fill="#008000" >C</text>
<text x="752.7" y="1032.8" font-size="44.6" text-anchor="middle" transform="rotate(-90 752.7 1032.8)" >2000 AU</text>
<path d="M227.63 1549.5v-17.5M227.63 886.6v17.5M338.17 1549.5v-17.5M338.17 886.6v17.5M448.7 1549.5v-17.5M448.7 886.6v17.5M559.23 1549.5v-17.5M559.23 886.6v17.5M669.77 1549.5v-17.5M669.77 886.6v17.5M117.1 1439.02h17.5M780.3 1439.02h-17.5M117.1 1328.53h17.5M780.3 1328.53h-17.5M117.1 1218.05h17.5M780.3 1218.05h-17.5M117.1 1107.57h17.5M780.3 1107.57h-17.5M117.1 997.08h17.5M780.3 997.08h-17.5" stroke="#000" stroke-width="2.6" fill="none"/><path d="M139.21 1549.5v-6.25M139.21 886.6v6.25M161.31 1549.5v-6.25M161.31 886.6v6.25M183.42 1549.5v-6.25M183.42 886.6v6.25M205.53 1549.5v-6.25M205.53 886.6v6.25M249.74 1549.5v-6.25M249.74 886.6v6.25M271.85 1549.5v-6.25M271.85 886.6v6.25M293.95 1549.5v-6.25M293.95 886.6v6.25M316.06 1549.5v-6.25M316.06 886.6v6.25M360.27 1549.5v-6.25M360.27 886.6v6.25M382.38 1549.5v-6.25M382.38 886.6v6.25M404.49 1549.5v-6.25M404.49 886.6v6.25M426.59 1549.5v-6.25M426.59 886.6v6.25M470.81 1549.5v-6.25M470.81 886.6v6.25M492.91 1549.5v-6.25M492.91 886.6v6.25M515.02 1549.5v-6.25M515.02 886.6v6.25M537.13 1549.5v-6.25M537.13 886.6v6.25M581.34 1549.5v-6.25M581.34 886.6v6.25M603.45 1549.5v-6.25M603.45 886.6v6.25M625.55 1549.5v-6.25M625.55 886.6v6.25M647.66 1549.5v-6.25M647.66 886.6v6.25M691.87 1549.5v-6.25M691.87 886.6v6.25M713.98 1549.5v-6.25M713.98 886.6v6.25M736.09 1549.5v-6.25M736.09 886.6v6.25M758.19 1549.5v-6.25M758.19 886.6v6.25M117.1 1527.4h6.25M780.3 1527.4h-6.25M117.1 1505.31h6.25M780.3 1505.31h-6.25M117.1 1483.21h6.25M780.3 1483.21h-6.25M117.1 1461.11h6.25M780.3 1461.11h-6.25M117.1 1416.92h6.25M780.3 1416.92h-6.25M117.1 1394.82h6.25M780.3 1394.82h-6.25M117.1 1372.73h6.25M780.3 1372.73h-6.25M117.1 1350.63h6.25M780.3 1350.63h-6.25M117.1 1306.44h6.25M780.3 1306.44h-6.25M117.1 1284.34h6.25M780.3 1284.34h-6.25M117.1 1262.24h6.25M780.3 1262.24h-6.25M117.1 1240.15h6.25M780.3 1240.15h-6.25M117.1 1195.95h6.25M780.3 1195.95h-6.25M117.1 1173.86h6.25M780.3 1173.86h-6.25M117.1 1151.76h6.25M780.3 1151.76h-6.25M117.1 1129.66h6.25M780.3 1129.66h-6.25M117.1 1085.47h6.25M780.3 1085.47h-6.25M117.1 1063.37h6.25M780.3 1063.37h-6.25M117.1 1041.28h6.25M780.3 1041.28h-6.25M117.1 1019.18h6.25M780.3 1019.18h-6.25M117.1 974.99h6.25M780.3 974.99h-6.25M117.1 952.89h6.25M780.3 952.89h-6.25M117.1 930.79h6.25M780.3 930.79h-6.25M117.1 908.7h6.25M780.3 908.7h-6.25" stroke="#000" stroke-width="2.1" fill="none"/>
<rect x="117.1" y="886.6" width="663.2" height="662.9" fill="none" stroke="#000" stroke-width="3.1"/>
<text x="227.63" y="1583.8" font-size="30.2" text-anchor="middle" >-10</text>
<text x="106.4" y="1448.12" font-size="30.2" text-anchor="end" >-10</text>
<text x="338.17" y="1583.8" font-size="30.2" text-anchor="middle" >-5</text>
<text x="106.4" y="1337.63" font-size="30.2" text-anchor="end" >-5</text>
<text x="448.7" y="1583.8" font-size="30.2" text-anchor="middle" >0</text>
<text x="106.4" y="1227.15" font-size="30.2" text-anchor="end" >0</text>
<text x="559.23" y="1583.8" font-size="30.2" text-anchor="middle" >5</text>
<text x="106.4" y="1116.67" font-size="30.2" text-anchor="end" >5</text>
<text x="669.77" y="1583.8" font-size="30.2" text-anchor="middle" >10</text>
<text x="106.4" y="1006.18" font-size="30.2" text-anchor="end" >10</text>
<text x="446.9" y="1626.3" font-size="30.2" text-anchor="middle" xml:space="preserve">Δ<tspan font-style="italic">α</tspan><tspan dx="-2.1"> (")</tspan></text>
<text x="36.8" y="1219.7" font-size="30.2" text-anchor="middle" transform="rotate(-90 36.8 1219.7)" xml:space="preserve">Δ<tspan font-style="italic">δ</tspan><tspan dx="-2.1"> (")</tspan></text>
<rect x="780.3" y="886.6" width="17.1" height="662.9" fill="url(#cmC)" stroke="#000" stroke-width="2.1"/>
<path d="M797.4 936h10.6M797.4 991h10.6M797.4 1052h10.6M797.4 1122h10.6M797.4 1205.6h10.6M797.4 1317.8h10.6" stroke="#000" stroke-width="2.1" fill="none"/>
<text x="817.6" y="947.4" font-size="30" >300</text>
<text x="817.6" y="1002.4" font-size="30" >250</text>
<text x="817.6" y="1063.4" font-size="30" >200</text>
<text x="817.6" y="1133.4" font-size="30" >150</text>
<text x="817.6" y="1217" font-size="30" >100</text>
<text x="817.6" y="1329.2" font-size="30" >50</text>
<text x="911" y="1218.3" font-size="29.8" text-anchor="middle" transform="rotate(-90 911 1218.3)">(K km/s)</text>
</g>
<g id="panel-d">
<g clip-path="url(#cd)">
<g clip-path="url(#fovD)">
<g filter="url(#jetD)">
<rect x="1036.5" y="889.9" width="649" height="648.6" fill="#000"/>
<path d="M1361 1236.5L1367.5 1232L1376.5 1242.5L1391 1268.5L1402 1287.5L1414 1309.5L1429 1335.5L1446 1363.5L1439.5 1369.5L1423 1344.5L1407 1319.5L1393 1296.5L1379 1272.5L1365 1248.5Z" fill="url(#sioG)"/>
<circle cx="1365" cy="1216" r="4" fill="#fff" fill-opacity="0.6"/>
<ellipse cx="1350" cy="1277" rx="6" ry="9" fill="#fff" fill-opacity="0.13"/>
</g></g>
<g clip-path="url(#fovCO)"><path d="M1126.1 1030.9l1.1 0.5 4 4.4 2.5 1.9 13.6 4.2 1.4 1.4 2 4.6 8.5 6.7 3.4 4.1 1.7 1 5.8 1.8 6.1 0.8 2-0.3 4.8-2.3 5.4-1.1 1.3 0.3 0.8 1.1 0.5 3.5 1.2 2.4 19.6 2.3 19.2 4.6 1.2-0.3 0.9-0.9 0.6-1.4 0.2-3.7 -1.5-5.1 -3.6-8.9 0-1.3 1.4-3.5 2.8-5 2.6-0.8 3.5 0.2 20.3 1.9 3.1 1.4 15.2 18.7 5.4 7.5 11.9 20.4 14.6 28.4 5.2 7.6 9.1 11.5 15.1 29.7 3.4 8.7 3.6 12.5 1.3 2.5 3.8 4.3 0.5 2.4 4.3 1.3 12.7 0.7 6.2 0.9 12.2 2.9 39.1 7.9 16.7 4.3 27.1 3.3 5.2 1.5 14.4 5.6 2.5 1.4 3.5 3.2 1.6 3.6 -0.3 2 -6.4 14.2 -0.1 2.5 0.9 2.3 1.6 2.1 4.3 4.1 12.5 8.4 6.2 5.1 4.1 6.3 1.7 4.7 1 5.2 0 2.5 -1.4 4.5 -5.4 10.8 0 1.3 0.9 1.9 0.8 0.2 0.9-0.7 4.2-4.4 4-2.7 8.8-4.6 4.1-1.2 3.4 1.2 11.9 7.3 15.8 3 4.6 2.1 1.3 1.7 1.1 4.5 0 4.6 -1.1 4.6 -1.3 1.5 -2.1 0.5 -5.6-0.7 -2.5 0.2 -2 1.3 -7.9 8.7 -2 3.6 0.2 2.5 1.5 5.6 0 2.1 -1.1 1.3 -5.7 2.1 -5.3 3.7 -2.5 3 -2.4 5.2 -3.5 4.3 -1.5 0.8 -2.2-0.2 -4.9-1.5 -1.4 0 -0.1 1.2 1.7 3.9 0.1 1.7 -1.2 1 -5.6 2.4 -3 3 -2.1 3.7 -0.6 3.9 0.6 4.6 6.8 27.2 2.7 22.5 1.8 5.9 4 8.9 1.2 6.3 0.9 18.5 -0.4 5.5 -1.6 3.3 -3.5 0.4 -5-1.6 -5.2-2.5 -7.2-4 -6.4-5.5 -6.3-3.1 -2.2-0.3 -2.7 0.6 -7.5 2.8 -0.2-0.7 1.7-2.8 0.2-1.6 -1.9-3.6 -1.5-1.8 -3.6-2.3 -2.1-0.6 -4.5-0.2 -11.2 4.1 -6.2 1.1 -3-0.1 -5-2 -14.6-8 -2.4-1.9 -1.4-2 -2-6.5 -5.1-8.5 -0.9-7.9 -0.8-2.2 -1.8-1.6 -4.8-2.1 -1.9-1.4 -2.3-4.1 -1.1-4.4 0.2-2.2 1.4-4.3 0.1-2 -0.7-1.9 -1.2-1.9 -3.2-3 -1.9-0.6 -4.5-0.4 -2.1-0.7 -1.8-1.2 -5-5.6 -4.1-7.4 -1.6-5.6 -0.3-6.1 0.6-5.6 2-7.5 -0.3-5.8 -1.4-6.1 -4.4-8.8 -0.7-3.1 0.6-3.2 2.9-6.9 0.8-3.4 -0.9-6.6 -11.5-41 -5.5-16.9 -1.2-2.3 -3.8-3.8 -2.5-4.4 -5.5-10.7 -7.2-16.4 -2.8-2.5 -7.8-4.1 -29.4-12 -5.2-2.7 -3-0.5 -4.8-0.2 -16.7 0.2 -2.4-0.6 -2.7-2.8 -8.5-5.1 -8.5-6.8 -13.6-8.5 -20.4-17 -36.1-35.6 -1.2-1.7 -0.7-2 -1-6.5 -3.4-5.4 -1.7-1.4 -2.3-0.9 -7.9-1.6 -4.3-2.9 -0.8-1.4 -0.3-1.8 0.3-6.6 -2.8-6.2 -0.6-2.3 1.7-9.2 0-2.7 -1.1-2.2 -3.7-3.4 -4.1-2.1 -2.4-0.7 -4-0.1 -1.2 1.2 -1.3 3.7 -0.9 1.1 -2.8-0.6 -2.3-2 -0.7-2.4 0.7-2.7 5.5-3.7 1.3-1.4 0.3-1.5 -1.1-3.5 -3.1-5.2 -2.9-3.3 -5.5-4.9 -1.3-1.9 -1.3-6 -0.1-2.8zM1250.9 1132.7l1.4-1.9 4.8-3.7 4.2-1.9 3.4-0.3 1.5 1 0.9 2.4 1.3 7 1.2 2.5 1.7 1.1 2.2 0.3 6.7-1.3 6.3-3.5 4.1-3.7 1-0.5 2 0.3 1.4 2.2 0 10.2 5.1 10.2 0 4.6 -0.6 2.1 -1.1 1.7 -1.6 1.4 -2.2 1 -4.7 1 -4.3-0.3 -6.1-2.4 -4.8-4 -0.6-1.3 -0.1-2.4 -1-1.4 -11.9-6.8 -7-5.1 -1.5-1.7 -1.9-3.4 -0.3-1.7zM1310.9 1142l1.7-0.1 3 1.7 7.2 8.2 3.3 13.1 2.9 4.4 6.1 6.3 1.8 2.7 3.9 9.5 2.1 10.2 0.9 2.4 1.9 3 2.8 1.6 0.5 0.8 -0.2 3 -1.4 3.6 -3.1 3.6 -4.8 3.7 -3.6 0.4 -3.1-0.7 -19.8-8.3 -5.7-3.6 -2-2.8 -1.3-3 -0.9-3.7 0.2-2.3 0.9-2 2.4-2.7 7.2-4.8 3.3-3.6 1.3-2.7 1.2-7.6 -0.5-4.8 -8.2-19.2 -0.5-4.2zM1357.2 1205.8l2.4-0.6 3.1 0 8.2 0.8 14.1 2.3 16.4 3.2 5.3 1.8 2 1.5 0.5 1.8 -0.5 0.7 -11.5 1.5 -8.6 2.6 -2.1 1.7 -1.2 2.1 -0.4 2.1 0.5 2 2.8 4.1 12 11.4 4.7 6.1 4.4 8.9 2.7 9.8 7.8 11.2 29.1 46.2 6.7 12.6 8.7 18.1 3.9 9.2 3.4 15.3 3 7.8 0.4 2.3 -0.2 2.4 -1.8 4.3 -1.4 1.8 -3.9 3.2 -4.6 1.9 -2.2 0.4 -4.4-0.4 -1.9-0.8 -1.4-1.5 -2.1-4.2 -1.6-2 -20.2-14.2 -10.5-8.6 -6.6-6 -8-8.9 -6-8.9 -4.2-8.9 -7-19.1 -1.9-6.9 -2.2-13.2 -3.7-12.1 -4.9-13.2 -5-11.1 -5.6-6.2 -3-4.1 -6.6-12.9 -4.1-9.1 -0.8-4.8 0.6-7 4.8-12.8 1-2.1zM1365.4 1214l1.6-0.7 3.6-0.5 1.3 0.4 0.9 0.7 1.2 4.2 1.2 7.3 5.7 13.1 2.5 7.4 8.4 6.3 2.2 2.7 0.8 1.7 1.7 6.5 0.8 11.4 0.9 2 3.8 5.5 5.1 13.6 2.3 12.4 0.2 2.9 -0.2 1.5 -0.6 0.5 -2.8-0.7 -2.5-1.8 -4.7-4.1 -3.6-3.9 -22.4-36 -6.5-7 -3.2-4.2 -9.3-18.6 -1.1-3.8 0.9-3.4 3-4.6zM1323.2 1205l2-1.7 4-0.5 1.9 0.5 1.5 1.1 0.6 1.9 -0.6 1.2 -1.4 0.7 -4 0.6 -1.9-0.5 -0.8-0.7zM1181.3 1020.7l2.3-2.8 3.7-1.2 2.4 0.3 1 0.6 1.6 3.1 -0.8 2.3 -1.8 1.9 -3.8 1.2 -2.3-0.2 -1.8-1.1 -0.9-1.5zM1216.6 1036l2.6-1.8 2.1-0.2 2.7 1.1 0.4 1.5 -0.7 1.4 -3.2 0.8 -2-0.6zM1247.5 1055.5l1.9-1.8 1.6-0.7 3.3-0.3 5.1 1.9 0.8 0.8 0.7 1.8 -0.2 0.8 -1.9 1.3 -4.3 0.8 -4.5-1.2 -1.9-1.6zM1105.7 1047.9l3-3.7 1.2-0.6 2.5 0.6 1.8 2 0.2 1.5 -0.3 3.8 -1 2.2 -2.3 0.4 -2.7-1.3 -2-2.7zM1082.8 1051.2l0.9-1 2.9-1.3 1.3-0.2 1.9 0.8 1.1 1.7 0 1.2 -1.7 3.9 -2.9 2.2 -1.8 0.5 -1.3-0.3 -0.9-4zM1230.5 1156.5l1.1-2.1 2.3-1 3.9 1.9 3.3 4.6 1.3 3.3 -0.3 1.7 -1.4 0.4 -1.2-0.3 -4.8-2.6 -2.7-3zM1161.2 1153.4l0.8-1.5 1.4-0.9 1.7 0.7 1.2 1.4 -0.6 1.8 -1.4 1.2 -1.8-1zM1095.5 1202.3l0.7-1.3 3.3-2.3 4-0.9 6.4 1.1 2.4 1.9 0.7 2.3 -0.6 1.2 -2.5 2.3 -1.7 0.8 -4.2 0.6 -4.2-0.6 -1.6-1 -2.4-2.8zM1144.8 1205.7l2.2-4 7.9-9.1 7.4-6.5 1.4-0.7 1.4-0.1 1.5 1 4.5 4.9 3 1.3 1.7 0.1 2.1-0.5 2.5-1.6 5.8-4.7 2.7-0.8 2.5 1 2.5 2.4 6.3 7.8 3.3 4.9 0.7 2 -0.1 1.5 -0.7 1.1 -3.5 1.7 -11.3 1.7 -7.7-0.4 -7.3-1.8 -2.5-1.2 -1.2-1.8 -0.5-5.9 -1.7-0.9 -1.7 0.9 -0.9 5.9 -0.8 1.8 -3.8 2.3 -7 1.9 -4.5 0.3 -1.7-0.3 -2.2-1.5 -0.4-1.3zM1412.2 1227.7l2.9-2.5 3.9-1.7 5.9-0.4 3.2 0.3 2.8 0.6 4.7 2.6 1.8 1.8 1.1 1.9 0.3 2.2 -0.4 2.5 -2.4 4.6 -2.5 1.7 -6.3 2.7 -1.4 1.6 1 1.7 7.5 5.9 1.3 3.9 -0.5 3.7 -0.9 2 -3.2 3.9 -1.8 0.9 -2.1-0.2 -4.7-2.5 -1.7-1.5 -1.7-3.1 0-3.7 4-7.3 0.2-2.1 -1.4-1.5 -7.9-3.5 -3.8-3.8 -1.5-2 -0.7-1.9 0.3-1.8 1.1-1.8zM1417.3 1232l4.3-3 3.2-0.2 4.4 2.3 1.1 2.2 0.1 1.1 -0.4 1 -2.5 1.4 -5 0.7 -4.4-1.6 -1.1-1.9zM1454.6 1266.8l0.7-1.7 2.8-2.7 1.6-0.7 3.5-0.2 3.3 1 1.3 1 1.9 2.7 0.2 1.4 -1.4 3.2 -2.8 2.8 -3.9 1.7 -2.1 0.3 -1.7-0.4 -1.3-1.4 -1.9-4.9zM1484.4 1436.5l2-2.3 3.1-1.5 1.4 0.1 2.9 1.2 0.7 0.8 0.2 0.9 -1.9 3.3 -3.8 1.8 -2.4-0.8 -2-2.4zM1536.1 1214.2l3.5 3.1 5.7 3.2 4.4 1.3 2.3 0 4.4-1 3.3-1.6 2.3-2.3 0.8-3 -0.7-0.8 -2.2-0.6 -11.1-0.4 -13 0.6 -0.5 0.3zM1536.1 1211.6l0.8-0.9 2.8-1.6 3.1-0.3 7.1 2.4 3.4 2 0.7 1 -0.6 0.9 -3.3 2 -2.1 0.4 -5.3-0.3 -4.9-1.3 -1.1-1 -0.7-1.1zM1215.3 918.8l9.4 26.2 0.7 2.7 0 2.7 -0.9 4.9 0.1 2.6 1.3 5.8 1.2 3.1 1.7 3 2.6 2.9 6.7 5.9 2.6 3.1 1.3 3.3 1.1 6.9 1 3.3 1.8 3.2 15.2 18.9 13.6 23.8 11.8 23.7 13.6 23.8 10.2 20.1 18.7 34.2 8.5 18.6 10.4 21.2 4.9 11.1 0.6 3.3 1.7 1 1.6 0.3 11.9 0.5 6.2 0.8 48.3 10.2 6.1 0.8 45.8-5.9 2.9 0.6 5.6 2.8 5.3-1.1 1.5 0.3 1.3 1.1 3.8 5.7 4.7 3.5 8.3 4.6 19.8 8.7 2.9 1.8 3.7 3.9 1 2.2 0.3 2.4 -0.5 2.8 -1.3 3.1 -3.2 6 -5.7 6.6 -1.1 1.9 -0.1 3.8 1.8 3 3.7 1.3 4.7 0.4 8.5-2.1 1.7 0.4 0.2 1.8 -2 6 0.1 2.3 1.7 1.4 8.5 2 11.9 1.7 10.4 3 3.2 0.4 2.8-0.4 7.4-3 7.5-1.9 2.7 0.2 6 2.7 5.9 4.1 4.7 5.1 3.8 5.1 3.3 6.8 5.3 2.3 1.5 1.1 1.9 3.7 1.5 4.8 1.8 9.1 1.6 2.8 3.1 2.3 10.9 5.2M1640.4 1358.7l-16.3 0.6 -4.7 0.8 -1.6 1.6 -2.2 4.2 -1.3 1 -2-0.6 -6.5-4.5 -3.3 0 -3.5 1.7 -10.2 8.5 -8.5 5.1 -4.9 3.9 -0.2 1.2 1.4 0.9 5.5 1.5 1.6 1 0.1 1.1 -0.7 1.4 -2.8 2.5 -6.6 2.2 -1.9 1.2 -1.4 2.1 -1.7 5.5 -0.3 2.6 1.1 4.6 2.3 3.9 3.1 2.8 12.2 7.4 8.5 3.4 0.4 0.9 -0.3 0.9 -1.8 1.6 -3 1.2 -3.8 0.5 -8.5-3.4 -11.9-1.7 -1.7-1.1 -3.4-4 -6-1.7 -5.4 0.4 -6.4 1.9 -4.5 2.1 -2.5 2.4 -0.7 1.7 0.2 4.7 1.5 5.5 2.9 5.3 3.9 4.8 10.2 6.8 3.3 3.1 1.1 1.7 0.7 2 0 2.9 -1.7 9M1450.2 1539.1l-8-16 -3.5-19.8 -2.4-7.8 -1.6-2.9 -10.6-13.7 -16.4-10.2 -5.9-5 -8.5-9.7 -3.7-7.1 -1.2-5.3 1.7-8.9 0-3 -0.7-3 -4.4-8.9 -6.7-10.3 -2.9-6.4 -1.4-8.8 1-8.7 -0.2-3.1 -1-3.4 -3.2-7.1 -0.9-3.1 0.5-2.3 2.4-3.7 0.5-2.5 -0.5-3.3 -2.4-7.9 -0.5-4.1 0.8-4.3 5.8-17.7 0.2-5.1 -0.8-3.8 -14.4-47.1 -1.1-2.1 -3-3.2 -1.2-2 -6.8-13 -5.9-13.6 -2.5-3.3 -3.1-2.2 -5-2.6 -47.9-19.1 -1.9 0 -3.4 1 -2.5 1.5 -1.5 2 -1.7 0.5 -4.2-1.6 -12.5-2.7 -30.7-3.9 -7.8-1.9 -2.1-1.2 -3-3.9 -6.8-5.1 -0.7-1.5 -1-5.3 -3.4-8.5 -1.7-6.8 -3.3-6.3 -6.5-6.7 -5.4-3.9 -2.8-1.2 -5.4-1.4 -3.4-1.9 -2-4 -1.7-8.5 -2-2.7 -3.1-1.5 -5-0.6 -5.2 0.6 -2.2 0.7 -3.6 2.3 -1 1.2 0 1.2 1.8 2.4 1.3 3.3 0.8 4.2 -0.5 1.6 -1.4 1.1 -2.2 0.7 -7.3 0.9 -5.2-0.3 -2.6-0.7 -5.4-2.5 -4.8-3.4 -1.5-2 -2.2-4.6 -1.4-1.9 -1.8-1.5 -11.3-6.5 -5.5-2.2 -6.9-0.4 -24.6 1.4 -12.8 2.3 -19.2 5M1672.1 1243.9l-14.4 3.8 -3.4 2.1 -0.1 2.5 3.8 6.3 0.2 3.2 -2.6 3.5 -8.5 7.2 -2.8 3 -0.9 2.7 0.1 2.3 1 1.9 1.9 1.1 3.3-0.1 9.3-2 3.3 0.1 1.5 1.9 0.4 8.1" fill="none" stroke="#fff" stroke-width="3.8" stroke-linejoin="round" stroke-linecap="round"/>
<circle cx="1142.2" cy="980.8" r="2.6" fill="#fff"/>
<circle cx="1200.8" cy="1002.5" r="2.6" fill="#fff"/>
<circle cx="1269.6" cy="1161.5" r="2.6" fill="#fff"/>
</g>
<path d="M1135.4 894L1540.5 1530.2" stroke="#f00" stroke-width="4.4" fill="none" stroke-dasharray="16.1 6.9" stroke-dashoffset="-2.5"/>
<ellipse cx="1082.6" cy="1492" rx="6.45" ry="4.95" fill="#f00"/>
<path d="M1337.22 1204.25L1345.6 1212.62L1353.97 1204.25L1362.35 1212.62L1353.97 1221L1362.35 1229.38L1353.97 1237.75L1345.6 1229.38L1337.22 1237.75L1328.85 1229.38L1337.22 1221L1328.85 1212.62Z" fill="#f00" stroke="#fff" stroke-width="2.6" stroke-linejoin="miter"/>
<line x1="1545.7" y1="953.4" x2="1545.7" y2="1048.5" stroke="#f00" stroke-width="4.6" />
<path d="M1262.9 1328L1334 1286.1" stroke="#fff" stroke-width="4.2" fill="none"/>
<path d="M1346.3 1278.9L1331.5 1297.3L1322.3 1281.7Z" fill="#fff"/>
<text x="1081.3" y="953.6" font-size="43.5" fill="#fff" font-weight="bold" >(e) SiO</text>
<text x="1225.3" y="1343.6" font-size="38.6" font-weight="bold" fill="#fff" text-anchor="middle" letter-spacing="-0.8" transform="rotate(55 1225.3 1343.6)" dy="13.8">SiO</text>
</g>
<text x="1298" y="1243.6" font-size="41.5" text-anchor="middle" fill="#f00" >B</text>
<text x="1618.6" y="1019.8" font-size="43.4" text-anchor="middle" fill="#f00" transform="rotate(-90 1618.6 1019.8)" >2000 AU</text>
<path d="M1082.86 1538.5v-16.6M1082.86 889.9v16.6M1175.57 1538.5v-16.6M1175.57 889.9v16.6M1268.29 1538.5v-16.6M1268.29 889.9v16.6M1361 1538.5v-16.6M1361 889.9v16.6M1453.71 1538.5v-16.6M1453.71 889.9v16.6M1546.43 1538.5v-16.6M1546.43 889.9v16.6M1639.14 1538.5v-16.6M1639.14 889.9v16.6M1036.5 1492.17h16.6M1685.5 1492.17h-16.6M1036.5 1399.51h16.6M1685.5 1399.51h-16.6M1036.5 1306.86h16.6M1685.5 1306.86h-16.6M1036.5 1214.2h16.6M1685.5 1214.2h-16.6M1036.5 1121.54h16.6M1685.5 1121.54h-16.6M1036.5 1028.89h16.6M1685.5 1028.89h-16.6M1036.5 936.23h16.6M1685.5 936.23h-16.6" stroke="#000" stroke-width="2.5" fill="none"/><path d="M1045.77 1538.5v-6M1045.77 889.9v6M1064.31 1538.5v-6M1064.31 889.9v6M1101.4 1538.5v-6M1101.4 889.9v6M1119.94 1538.5v-6M1119.94 889.9v6M1138.49 1538.5v-6M1138.49 889.9v6M1157.03 1538.5v-6M1157.03 889.9v6M1194.11 1538.5v-6M1194.11 889.9v6M1212.66 1538.5v-6M1212.66 889.9v6M1231.2 1538.5v-6M1231.2 889.9v6M1249.74 1538.5v-6M1249.74 889.9v6M1286.83 1538.5v-6M1286.83 889.9v6M1305.37 1538.5v-6M1305.37 889.9v6M1323.91 1538.5v-6M1323.91 889.9v6M1342.46 1538.5v-6M1342.46 889.9v6M1379.54 1538.5v-6M1379.54 889.9v6M1398.09 1538.5v-6M1398.09 889.9v6M1416.63 1538.5v-6M1416.63 889.9v6M1435.17 1538.5v-6M1435.17 889.9v6M1472.26 1538.5v-6M1472.26 889.9v6M1490.8 1538.5v-6M1490.8 889.9v6M1509.34 1538.5v-6M1509.34 889.9v6M1527.89 1538.5v-6M1527.89 889.9v6M1564.97 1538.5v-6M1564.97 889.9v6M1583.51 1538.5v-6M1583.51 889.9v6M1602.06 1538.5v-6M1602.06 889.9v6M1620.6 1538.5v-6M1620.6 889.9v6M1657.69 1538.5v-6M1657.69 889.9v6M1676.23 1538.5v-6M1676.23 889.9v6M1036.5 1529.23h6M1685.5 1529.23h-6M1036.5 1510.7h6M1685.5 1510.7h-6M1036.5 1473.64h6M1685.5 1473.64h-6M1036.5 1455.11h6M1685.5 1455.11h-6M1036.5 1436.58h6M1685.5 1436.58h-6M1036.5 1418.05h6M1685.5 1418.05h-6M1036.5 1380.98h6M1685.5 1380.98h-6M1036.5 1362.45h6M1685.5 1362.45h-6M1036.5 1343.92h6M1685.5 1343.92h-6M1036.5 1325.39h6M1685.5 1325.39h-6M1036.5 1288.33h6M1685.5 1288.33h-6M1036.5 1269.79h6M1685.5 1269.79h-6M1036.5 1251.26h6M1685.5 1251.26h-6M1036.5 1232.73h6M1685.5 1232.73h-6M1036.5 1195.67h6M1685.5 1195.67h-6M1036.5 1177.14h6M1685.5 1177.14h-6M1036.5 1158.61h6M1685.5 1158.61h-6M1036.5 1140.07h6M1685.5 1140.07h-6M1036.5 1103.01h6M1685.5 1103.01h-6M1036.5 1084.48h6M1685.5 1084.48h-6M1036.5 1065.95h6M1685.5 1065.95h-6M1036.5 1047.42h6M1685.5 1047.42h-6M1036.5 1010.35h6M1685.5 1010.35h-6M1036.5 991.82h6M1685.5 991.82h-6M1036.5 973.29h6M1685.5 973.29h-6M1036.5 954.76h6M1685.5 954.76h-6M1036.5 917.7h6M1685.5 917.7h-6M1036.5 899.17h6M1685.5 899.17h-6" stroke="#000" stroke-width="2.0" fill="none"/>
<rect x="1036.5" y="889.9" width="649" height="648.6" fill="none" stroke="#000" stroke-width="3.0"/>
<text x="1082.86" y="1571.8" font-size="29.6" text-anchor="middle" >-15</text>
<text x="1026" y="1500.97" font-size="29.6" text-anchor="end" >-15</text>
<text x="1175.57" y="1571.8" font-size="29.6" text-anchor="middle" >-10</text>
<text x="1026" y="1408.31" font-size="29.6" text-anchor="end" >-10</text>
<text x="1268.29" y="1571.8" font-size="29.6" text-anchor="middle" >-5</text>
<text x="1026" y="1315.66" font-size="29.6" text-anchor="end" >-5</text>
<text x="1361" y="1571.8" font-size="29.6" text-anchor="middle" >0</text>
<text x="1026" y="1223" font-size="29.6" text-anchor="end" >0</text>
<text x="1453.71" y="1571.8" font-size="29.6" text-anchor="middle" >5</text>
<text x="1026" y="1130.34" font-size="29.6" text-anchor="end" >5</text>
<text x="1546.43" y="1571.8" font-size="29.6" text-anchor="middle" >10</text>
<text x="1026" y="1037.69" font-size="29.6" text-anchor="end" >10</text>
<text x="1639.14" y="1571.8" font-size="29.6" text-anchor="middle" >15</text>
<text x="1026" y="945.03" font-size="29.6" text-anchor="end" >15</text>
<text x="1359" y="1614.5" font-size="29.6" text-anchor="middle" xml:space="preserve">Δ<tspan font-style="italic">α</tspan><tspan dx="-2"> (")</tspan></text>
<text x="957.6" y="1216" font-size="29.6" text-anchor="middle" transform="rotate(-90 957.6 1216)" xml:space="preserve">Δ<tspan font-style="italic">δ</tspan><tspan dx="-2"> (")</tspan></text>
<rect x="1685.5" y="889.9" width="16.5" height="648.6" fill="url(#cmD)" stroke="#000" stroke-width="2.0"/>
<path d="M1702 895.55h10.2M1702 963h10.2M1702 1032h10.2M1702 1102.5h10.2M1702 1175.5h10.2M1702 1252.1h10.2M1702 1333h10.2M1702 1420.5h10.2M1702 1528.8h10.2" stroke="#000" stroke-width="2.0" fill="none"/>
<text x="1721.5" y="907.05" font-size="29.6" >200</text>
<text x="1721.5" y="974.5" font-size="29.6" >175</text>
<text x="1721.5" y="1043.5" font-size="29.6" >150</text>
<text x="1721.5" y="1114" font-size="29.6" >125</text>
<text x="1721.5" y="1187" font-size="29.6" >100</text>
<text x="1721.5" y="1263.6" font-size="29.6" >75</text>
<text x="1721.5" y="1344.5" font-size="29.6" >50</text>
<text x="1721.5" y="1432" font-size="29.6" >25</text>
<text x="1721.5" y="1540.3" font-size="29.6" >0</text>
<text x="1814" y="1214.6" font-size="28.8" text-anchor="middle" transform="rotate(-90 1814 1214.6)">(K km/s)</text>
</g>
</svg>
</body>
</html>
